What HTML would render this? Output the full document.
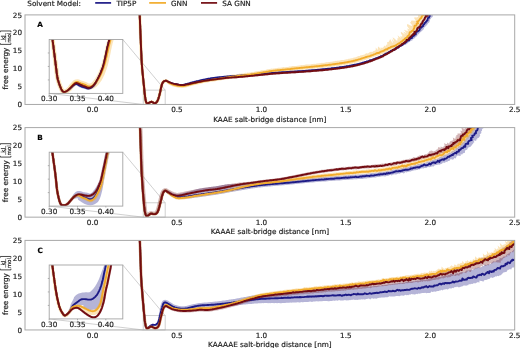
<!DOCTYPE html><html><head><meta charset="utf-8"><style>html,body{margin:0;padding:0;background:#fff;}svg{display:block;}text{font-family:'DejaVu Sans', 'Liberation Sans', sans-serif;fill:#1c1c1c;stroke:#1c1c1c;stroke-width:0.18px;}</style></head><body>
<svg width="520" height="348" viewBox="0 0 520 348">
<rect width="520" height="348" fill="#fff"/>
<text x="27.3" y="5.7" font-size="7.25">Solvent Model:</text>
<line x1="95.2" y1="2.9" x2="111.1" y2="2.9" stroke="#1d1a86" stroke-width="1.7"/>
<text x="116.4" y="5.7" font-size="7.25">TIP5P</text>
<line x1="149.2" y1="2.9" x2="166.0" y2="2.9" stroke="#f2ac2c" stroke-width="1.7"/>
<text x="170.9" y="5.7" font-size="7.25">GNN</text>
<line x1="201.0" y1="2.9" x2="217.1" y2="2.9" stroke="#720c12" stroke-width="1.7"/>
<text x="222.3" y="5.7" font-size="7.25">SA GNN</text>
<clipPath id="c0"><rect x="25.00" y="14.90" width="489.70" height="89.55"/></clipPath>
<g stroke="#c4c4c4" stroke-width="0.8" fill="none">
<rect x="143.20" y="90.12" width="21.95" height="14.33"/>
<line x1="122.80" y1="39.50" x2="165.16" y2="90.12"/>
<line x1="49.20" y1="93.40" x2="143.20" y2="104.45"/>
</g>
<g clip-path="url(#c0)">
<path d="M140.0,7.9 140.1,8.9 140.2,9.9 140.3,10.9 140.3,11.9 140.4,12.9 140.5,13.9 140.5,14.9 140.5,16.0 140.6,17.0 140.6,18.0 140.7,19.0 140.7,20.0 140.8,21.0 140.8,22.0 140.8,23.0 140.9,24.0 140.9,25.0 141.0,26.0 141.0,27.0 141.0,28.0 141.1,29.0 141.1,30.0 141.2,31.0 141.2,32.0 141.2,33.0 141.3,34.0 141.3,35.0 141.4,36.0 141.4,37.0 141.4,38.0 141.5,39.0 141.5,40.0 141.6,41.0 141.6,42.0 141.6,43.0 141.7,44.0 141.7,45.0 141.8,46.0 141.8,47.0 141.8,48.0 141.9,49.0 141.9,50.0 142.0,51.0 142.0,52.0 142.1,53.0 142.1,54.0 142.2,55.0 142.2,56.0 142.2,57.0 142.3,57.9 142.3,58.9 142.4,59.9 142.5,60.9 142.5,61.9 142.6,62.9 142.6,63.9 142.7,64.9 142.8,65.9 142.9,66.9 142.9,67.9 143.0,68.9 143.1,69.9 143.2,70.9 143.3,71.9 143.4,72.9 143.5,73.9 143.6,74.9 143.7,75.9 143.8,76.9 143.9,77.9 144.0,78.9 144.1,79.8 144.2,80.8 144.3,81.8 144.4,82.8 144.5,83.8 144.6,84.8 144.7,85.8 144.8,86.8 144.9,87.8 145.0,88.8 145.1,89.8 145.2,90.8 145.3,91.8 145.4,92.8 145.5,93.8 145.7,94.8 145.8,95.8 145.9,96.7 146.0,97.7 146.2,98.7 146.3,99.7 146.5,100.6 146.8,101.5 147.1,102.3 147.3,102.7 147.8,102.5 148.6,102.1 149.5,101.7 150.5,101.3 151.8,101.0 153.0,101.5 153.8,102.1 154.5,102.4 155.1,102.4 155.6,102.1 156.1,101.5 156.6,100.7 157.0,99.9 157.4,99.0 157.7,98.1 158.0,97.1 158.3,96.2 158.5,95.2 158.8,94.3 159.0,93.3 159.3,92.3 159.5,91.4 159.7,90.4 159.9,89.4 160.1,88.5 160.3,87.5 160.6,86.5 160.8,85.5 161.1,84.5 161.4,83.5 161.9,82.5 162.5,81.5 163.4,80.7 164.5,80.1 165.7,79.9 166.9,80.2 168.0,80.7 168.8,81.2 169.7,81.6 170.6,81.9 171.5,82.3 172.4,82.6 173.3,82.9 174.3,83.1 175.2,83.3 176.2,83.5 177.2,83.6 178.2,83.8 179.1,84.0 180.1,84.1 181.0,84.1 182.0,84.2 182.9,84.1 183.9,84.0 184.8,83.8 185.7,83.5 186.6,83.2 187.6,82.9 188.6,82.6 189.5,82.3 190.5,82.0 191.5,81.8 192.5,81.5 193.4,81.3 194.4,81.0 195.4,80.8 196.4,80.6 197.3,80.3 198.3,80.1 199.3,79.9 200.3,79.6 201.2,79.4 202.2,79.2 203.2,79.0 204.2,78.8 205.2,78.6 206.2,78.4 207.2,78.2 208.1,78.0 209.1,77.8 210.1,77.7 211.1,77.5 212.1,77.4 213.1,77.2 214.1,77.1 215.1,76.9 216.1,76.8 217.1,76.7 218.1,76.6 219.1,76.5 220.1,76.4 221.1,76.3 222.1,76.2 223.1,76.1 224.1,76.0 225.1,75.9 226.1,75.8 227.1,75.7 228.1,75.7 229.1,75.6 230.1,75.5 231.1,75.4 232.1,75.4 233.1,75.3 234.1,75.2 235.1,75.2 236.1,75.1 237.1,75.0 238.1,74.9 239.1,74.9 240.1,74.8 241.1,74.7 242.1,74.7 243.1,74.6 244.1,74.5 245.1,74.4 246.1,74.4 247.1,74.3 248.1,74.2 249.1,74.2 250.1,74.1 251.1,74.0 252.1,73.9 253.1,73.9 254.1,73.8 255.1,73.7 256.1,73.7 257.1,73.6 258.1,73.5 259.0,73.5 260.0,73.4 261.0,73.3 262.0,73.2 263.0,73.1 264.0,73.0 265.0,72.9 266.0,72.8 267.0,72.7 268.0,72.6 269.0,72.5 270.0,72.4 271.0,72.3 272.0,72.2 273.0,72.2 274.0,72.1 275.0,72.0 276.0,71.9 277.0,71.9 278.0,71.8 279.0,71.7 280.0,71.7 281.0,71.6 282.0,71.5 283.0,71.5 284.0,71.4 285.0,71.3 286.0,71.3 287.0,71.2 288.0,71.1 289.0,71.1 290.0,71.0 291.0,70.9 292.0,70.9 293.0,70.8 294.0,70.8 295.0,70.7 296.0,70.7 297.0,70.6 298.0,70.6 299.0,70.5 300.0,70.4 301.0,70.4 302.0,70.3 303.0,70.2 304.0,70.1 305.0,70.1 306.0,70.0 307.0,69.9 307.9,69.8 308.9,69.7 309.9,69.7 310.9,69.6 311.9,69.5 312.9,69.4 313.9,69.3 314.9,69.3 315.9,69.2 316.9,69.1 317.9,69.0 318.9,68.9 319.9,68.8 320.9,68.7 321.9,68.6 322.9,68.5 323.9,68.4 324.9,68.3 325.9,68.2 326.9,68.1 327.9,68.0 328.8,67.9 329.8,67.8 330.8,67.7 331.8,67.5 332.8,67.4 333.8,67.3 334.8,67.2 335.8,67.1 336.8,66.9 337.8,66.8 338.8,66.7 339.8,66.5 340.7,66.4 341.7,66.3 342.7,66.1 343.7,66.0 344.7,65.8 345.7,65.7 346.7,65.5 347.7,65.4 348.6,65.2 349.6,65.0 350.6,64.8 351.6,64.6 352.5,64.5 353.5,64.2 354.5,64.0 355.5,63.8 356.4,63.6 357.4,63.4 358.4,63.1 359.3,62.9 360.3,62.6 361.2,62.3 362.2,62.1 363.2,61.8 364.1,61.5 365.1,61.2 366.0,61.0 367.0,60.6 367.9,60.4 368.9,60.1 369.8,59.6 370.7,59.4 371.7,59.0 372.6,58.7 373.5,58.3 374.5,58.0 375.4,57.7 376.3,57.3 377.3,56.9 378.1,56.4 379.1,56.2 380.0,55.8 380.9,55.4 381.8,55.0 382.8,54.7 383.6,54.0 384.5,53.7 385.4,53.2 386.3,52.7 387.1,52.1 388.0,51.7 388.9,51.3 389.8,50.8 390.7,50.3 391.5,49.8 392.4,49.4 393.2,48.8 394.1,48.3 395.0,48.0 396.0,47.7 396.6,46.8 397.4,46.2 398.5,46.0 399.4,45.5 400.4,45.3 401.0,44.3 402.1,44.1 402.6,43.2 403.9,43.4 404.4,42.4 405.1,41.7 406.0,41.3 406.9,40.7 407.5,39.9 408.3,39.4 409.0,38.7 409.7,38.0 410.6,37.4 411.3,36.7 411.8,35.8 412.8,35.4 413.4,34.6 414.3,34.1 414.7,33.1 415.8,32.8 416.0,31.6 417.5,31.6 417.7,30.5 418.6,29.9 418.8,28.7 419.6,28.1 420.6,27.7 421.1,26.8 421.3,25.7 422.2,25.2 422.7,24.3 423.7,23.8 424.3,23.1 424.4,21.9 424.6,20.8 425.8,20.5 426.1,19.5 427.0,18.9 427.1,17.7 428.0,17.1 428.5,16.3 429.3,15.6 429.3,14.5 429.5,13.6 429.5,12.5 430.6,11.8 433.7,13.1 433.9,14.2 432.7,14.8 432.9,16.0 432.5,17.1 431.3,17.8 430.8,18.8 430.1,19.6 429.8,20.7 429.5,21.7 429.0,22.7 428.0,23.2 427.6,24.2 426.8,24.9 426.3,25.8 425.4,26.4 424.8,27.2 423.9,27.8 423.9,29.2 422.8,29.7 422.3,30.7 421.5,31.3 420.8,32.0 419.9,32.5 419.3,33.3 418.8,34.2 417.4,34.4 417.4,35.8 416.5,36.4 415.7,37.0 415.0,37.8 414.3,38.6 413.4,39.1 412.4,39.4 412.2,40.7 410.7,40.6 410.2,41.6 409.3,42.0 408.3,42.4 407.6,43.2 406.8,43.9 405.8,44.4 404.9,44.9 403.8,45.0 402.8,45.5 402.0,46.1 401.3,46.8 400.3,47.0 399.3,47.4 398.8,48.4 397.6,48.4 396.9,49.2 395.9,49.4 395.1,50.1 394.2,50.6 393.3,51.0 392.4,51.5 391.5,51.9 390.6,52.4 389.7,52.8 388.9,53.4 388.0,53.9 387.1,54.3 386.3,54.9 385.3,55.1 384.4,55.7 383.6,56.3 382.6,56.7 381.7,57.1 380.8,57.6 379.8,57.8 378.9,58.2 378.0,58.7 376.9,58.8 376.0,59.3 375.1,59.8 374.2,60.1 373.2,60.3 372.3,60.8 371.4,61.1 370.4,61.4 369.4,61.6 368.5,62.0 367.5,62.3 366.6,62.6 365.6,62.9 364.6,63.2 363.7,63.5 362.7,63.8 361.7,64.1 360.8,64.3 359.8,64.6 358.8,64.8 357.8,65.1 356.8,65.3 355.9,65.6 354.9,65.8 353.9,66.0 352.9,66.2 351.9,66.4 350.9,66.6 349.9,66.8 348.9,66.9 347.9,67.1 347.0,67.3 346.0,67.4 345.0,67.6 344.0,67.7 343.0,67.9 342.0,68.0 341.0,68.2 340.0,68.3 339.0,68.4 338.0,68.6 337.0,68.7 336.0,68.8 335.0,68.9 334.0,69.1 333.0,69.2 332.0,69.3 331.0,69.4 330.0,69.5 329.0,69.6 328.1,69.8 327.1,69.9 326.1,70.0 325.1,70.1 324.1,70.2 323.1,70.3 322.1,70.4 321.1,70.5 320.1,70.6 319.1,70.7 318.1,70.8 317.1,70.8 316.1,70.9 315.1,71.0 314.1,71.1 313.1,71.2 312.1,71.3 311.1,71.3 310.1,71.4 309.1,71.5 308.1,71.6 307.1,71.7 306.1,71.7 305.1,71.8 304.1,71.9 303.1,72.0 302.1,72.0 301.1,72.1 300.1,72.2 299.1,72.2 298.1,72.3 297.1,72.4 296.1,72.4 295.1,72.5 294.1,72.5 293.1,72.6 292.1,72.6 291.1,72.7 290.1,72.7 289.1,72.8 288.1,72.9 287.1,72.9 286.1,73.0 285.1,73.1 284.1,73.1 283.1,73.2 282.1,73.3 281.1,73.3 280.1,73.4 279.1,73.5 278.1,73.5 277.1,73.6 276.1,73.7 275.1,73.7 274.1,73.8 273.1,73.9 272.1,74.0 271.2,74.1 270.2,74.2 269.2,74.3 268.2,74.4 267.2,74.5 266.2,74.6 265.2,74.7 264.2,74.8 263.2,74.9 262.2,74.9 261.2,75.0 260.2,75.1 259.2,75.2 258.2,75.2 257.2,75.3 256.2,75.4 255.2,75.5 254.2,75.5 253.2,75.6 252.2,75.7 251.2,75.7 250.2,75.8 249.2,75.9 248.2,75.9 247.2,76.0 246.2,76.1 245.2,76.2 244.2,76.2 243.2,76.3 242.2,76.4 241.2,76.4 240.2,76.5 239.2,76.6 238.2,76.7 237.2,76.7 236.2,76.8 235.2,76.9 234.2,76.9 233.2,77.0 232.2,77.1 231.2,77.1 230.2,77.2 229.2,77.3 228.2,77.4 227.2,77.5 226.2,77.5 225.2,77.6 224.2,77.7 223.2,77.8 222.3,77.9 221.3,78.0 220.3,78.1 219.3,78.2 218.3,78.3 217.3,78.4 216.3,78.5 215.3,78.6 214.3,78.8 213.4,78.9 212.4,79.1 211.4,79.2 210.4,79.4 209.4,79.5 208.4,79.7 207.5,79.9 206.5,80.1 205.5,80.2 204.5,80.4 203.6,80.6 202.6,80.8 201.6,81.1 200.6,81.3 199.7,81.5 198.7,81.7 197.7,82.0 196.8,82.2 195.8,82.5 194.8,82.7 193.9,82.9 192.9,83.2 191.9,83.4 191.0,83.7 190.0,83.9 189.1,84.2 188.1,84.5 187.2,84.8 186.2,85.1 185.2,85.4 184.2,85.6 183.1,85.8 182.0,85.8 181.0,85.8 179.9,85.8 178.9,85.7 177.9,85.5 176.9,85.3 175.9,85.1 174.9,84.9 173.9,84.7 172.9,84.5 171.9,84.2 170.9,83.9 170.0,83.5 169.0,83.1 168.0,82.7 167.2,82.2 166.4,81.8 165.7,81.6 165.0,81.7 164.3,82.1 163.8,82.6 163.4,83.3 163.0,84.1 162.7,85.0 162.4,85.9 162.2,86.9 162.0,87.8 161.8,88.8 161.6,89.8 161.4,90.8 161.2,91.8 160.9,92.7 160.7,93.7 160.4,94.7 160.2,95.7 159.9,96.7 159.6,97.6 159.3,98.6 158.9,99.6 158.5,100.5 158.1,101.5 157.5,102.5 156.7,103.4 155.5,104.0 154.1,104.1 153.0,103.5 152.2,103.0 151.6,102.7 151.0,102.9 150.2,103.2 149.3,103.7 148.3,104.1 146.8,104.2 145.7,103.2 145.2,102.0 144.9,101.0 144.7,100.0 144.5,99.0 144.4,98.0 144.2,97.0 144.1,96.0 144.0,95.0 143.9,94.0 143.8,93.0 143.7,92.0 143.6,91.0 143.5,90.0 143.4,89.0 143.3,88.0 143.2,87.0 143.1,86.0 143.0,85.0 142.9,84.0 142.7,83.0 142.6,82.0 142.5,81.0 142.4,80.0 142.3,79.0 142.2,78.0 142.1,77.0 142.0,76.0 141.9,75.0 141.8,74.0 141.7,73.0 141.6,72.0 141.5,71.0 141.4,70.0 141.4,69.0 141.3,68.0 141.2,67.0 141.1,66.0 141.0,65.0 141.0,64.0 140.9,63.0 140.8,62.0 140.8,61.0 140.7,60.0 140.7,59.0 140.6,58.0 140.6,57.0 140.5,56.0 140.5,55.0 140.4,54.0 140.4,53.0 140.3,52.0 140.3,51.0 140.3,50.0 140.2,49.0 140.2,48.0 140.1,47.0 140.1,46.0 140.1,45.0 140.0,44.0 140.0,43.0 139.9,42.0 139.9,41.0 139.9,40.0 139.8,39.0 139.8,38.0 139.7,37.0 139.7,36.0 139.6,35.0 139.6,34.0 139.6,33.0 139.5,32.0 139.5,31.0 139.4,30.0 139.4,29.0 139.4,28.0 139.3,27.0 139.3,26.0 139.3,25.0 139.2,24.0 139.2,23.0 139.1,22.0 139.1,21.0 139.1,20.0 139.0,19.0 139.0,18.0 138.9,17.0 138.9,16.0 138.8,15.0 138.8,14.0 138.7,13.0 138.7,12.0 138.6,11.1 138.5,10.1 138.4,9.1 138.3,8.1Z" fill="#1d1a86" fill-opacity="0.33"/>
<path d="M140.7,7.9 140.8,8.9 140.9,9.9 141.1,10.9 141.1,11.9 141.1,12.9 141.2,13.9 141.2,14.9 141.4,15.9 141.5,16.9 141.4,17.9 141.5,18.9 141.4,19.9 141.5,20.9 141.5,21.9 141.5,22.9 141.6,23.9 141.7,24.9 141.8,25.9 141.8,26.9 141.7,28.0 141.9,28.9 142.0,29.9 141.9,31.0 142.0,32.0 142.1,33.0 142.0,34.0 142.0,35.0 142.0,36.0 142.1,37.0 142.2,38.0 142.2,39.0 142.2,40.0 142.4,41.0 142.4,42.0 142.5,43.0 142.4,44.0 142.5,45.0 142.5,46.0 142.5,47.0 142.6,48.0 142.6,49.0 142.6,50.0 142.7,51.0 142.7,52.0 142.8,53.0 142.8,54.0 142.9,55.0 143.1,56.0 143.1,57.0 143.1,58.0 143.2,59.0 143.2,60.0 143.3,61.0 143.2,62.0 143.3,63.0 143.4,63.9 143.4,64.9 143.6,65.9 143.7,66.9 143.6,67.9 143.8,68.9 143.9,69.9 143.9,70.9 144.0,71.9 144.1,72.9 144.3,73.9 144.4,74.9 144.4,75.9 144.5,76.9 144.6,77.9 144.8,78.9 144.9,79.8 145.0,80.8 145.0,81.8 145.2,82.8 145.3,83.8 145.4,84.8 145.6,85.8 145.6,86.8 145.7,87.8 145.9,88.8 146.0,89.8 145.9,90.8 146.0,91.8 146.1,92.8 146.2,93.8 146.4,94.8 146.6,95.7 146.7,96.7 146.9,97.7 146.9,98.7 147.0,99.6 147.3,100.5 147.5,101.4 147.7,101.9 147.6,101.9 147.6,101.8 148.4,101.4 149.3,101.0 150.4,100.6 152.1,100.3 153.5,101.0 154.4,101.4 154.7,101.6 154.9,101.7 155.1,101.4 155.6,101.0 155.9,100.2 156.4,99.5 156.7,98.6 157.0,97.7 157.3,96.8 157.5,95.9 157.9,94.9 158.0,93.9 158.2,93.0 158.4,92.0 158.8,91.1 159.0,90.1 159.2,89.2 159.3,88.1 159.5,87.2 159.7,86.1 160.1,85.1 160.4,84.1 160.8,83.1 161.2,81.9 162.0,80.8 163.0,79.8 164.4,79.4 166.0,79.2 167.5,79.6 168.5,80.3 169.4,80.9 170.1,81.3 170.9,81.7 171.8,82.2 172.6,82.6 173.4,83.0 174.2,83.4 175.2,83.5 176.1,83.8 177.0,83.9 178.0,84.1 178.9,84.3 179.8,84.3 180.8,84.5 181.7,84.5 182.6,84.5 183.5,84.4 184.4,84.2 185.2,83.9 186.2,83.8 187.1,83.5 188.1,83.2 189.1,83.0 190.0,82.8 191.0,82.4 192.0,82.2 193.0,82.0 194.0,81.7 194.9,81.4 195.9,81.2 196.9,81.0 197.9,80.8 198.8,80.4 199.9,80.3 200.8,80.1 201.8,79.8 202.8,79.6 203.8,79.5 204.8,79.3 205.8,78.9 206.8,78.7 207.8,78.8 208.8,78.6 209.8,78.4 210.8,78.2 211.8,77.9 212.8,77.9 213.8,77.8 214.7,77.4 215.7,77.5 216.7,77.3 217.7,77.0 218.7,76.9 219.7,76.8 220.6,76.6 221.6,76.4 222.6,76.3 223.6,75.9 224.6,75.9 225.6,75.7 226.6,75.6 227.6,75.3 228.6,75.3 229.6,74.9 230.6,75.0 231.6,74.7 232.6,74.6 233.6,74.6 234.6,74.4 235.6,74.4 236.6,74.2 237.6,74.1 238.6,74.0 239.5,73.6 240.6,73.7 241.6,73.6 242.6,73.4 243.6,73.4 244.5,73.0 245.5,72.8 246.5,72.9 247.5,72.6 248.5,72.7 249.5,72.5 250.4,72.4 251.4,72.0 252.4,71.9 253.4,72.0 254.4,71.8 255.3,71.5 256.3,71.3 257.3,71.2 258.3,71.0 259.3,70.9 260.3,70.7 261.2,70.2 262.2,70.2 263.2,70.2 264.2,70.0 265.2,69.9 266.2,69.7 267.2,69.2 268.2,69.3 269.2,69.0 270.2,69.0 271.2,68.6 272.2,68.7 273.2,68.5 274.2,68.4 275.2,68.3 276.2,68.2 277.2,67.9 278.2,67.7 279.2,67.8 280.2,67.7 281.2,67.6 282.2,67.4 283.2,67.0 284.2,67.2 285.2,67.2 286.2,66.9 287.2,67.0 288.2,66.9 289.2,66.5 290.2,66.6 291.2,66.5 292.1,66.0 293.1,66.0 294.2,66.1 295.2,66.0 296.2,65.9 297.1,65.7 298.1,65.7 299.1,65.6 300.1,65.5 301.1,65.1 302.1,65.3 303.1,65.1 304.1,65.0 305.1,64.7 306.1,64.5 307.1,64.6 308.1,64.6 309.1,64.5 310.1,64.4 311.1,64.3 312.1,64.1 313.1,64.0 314.1,63.8 315.1,63.9 316.1,63.8 317.1,63.4 318.1,63.5 319.1,63.3 320.0,63.2 321.0,63.1 322.0,62.7 323.0,62.9 324.0,62.8 325.0,62.7 325.9,62.2 327.0,62.3 328.0,62.3 328.9,62.1 329.9,62.0 330.9,61.7 331.9,61.8 332.9,61.5 333.9,61.2 334.9,61.3 335.8,60.8 336.9,61.0 337.8,60.5 338.8,60.7 339.8,60.5 340.7,60.2 341.7,60.1 342.7,60.1 343.7,59.9 344.7,59.7 345.7,59.5 346.6,59.3 347.6,59.2 348.5,58.8 349.5,58.8 350.4,58.5 351.4,58.2 352.4,58.2 353.3,57.8 354.2,57.4 355.2,57.4 356.1,57.0 357.0,56.8 357.9,56.2 358.8,56.0 359.8,55.9 360.7,55.3 361.7,55.3 362.7,55.1 363.7,54.7 364.6,54.4 365.4,53.8 366.3,53.3 367.4,53.6 368.4,53.2 369.2,52.6 370.1,52.1 371.0,51.8 372.1,52.0 373.1,51.6 373.8,50.8 374.9,50.7 375.7,50.1 375.8,47.5 377.7,49.9 377.9,47.4 378.6,46.6 380.6,49.1 380.7,47.2 382.0,47.9 382.9,47.5 383.7,46.9 384.1,45.5 385.7,46.6 386.0,44.8 387.2,44.8 387.2,42.1 388.6,42.0 389.5,40.5 390.1,39.0 391.9,42.1 393.2,43.2 391.6,38.4 394.5,42.3 392.6,37.5 393.9,38.1 397.1,41.1 397.4,40.0 397.4,38.2 398.6,38.3 397.5,35.3 400.8,38.1 400.3,36.0 402.1,36.8 402.2,35.5 400.8,32.9 401.0,31.8 405.0,34.4 403.2,31.5 406.5,33.2 403.9,29.7 406.7,30.8 408.1,30.7 407.1,28.6 409.3,29.2 407.2,26.3 406.9,24.9 407.5,24.1 411.4,25.9 412.2,25.3 409.9,22.4 411.0,22.1 410.9,20.9 411.9,20.4 414.3,20.8 415.9,20.7 414.3,18.4 414.4,17.2 416.7,17.5 417.9,17.0 418.3,16.1 417.2,14.1 418.1,13.8 420.4,14.3 419.5,12.8 421.0,12.5 419.9,10.9 421.3,10.5 426.7,13.1 425.9,13.8 425.7,14.8 425.4,15.8 425.3,17.1 424.2,17.8 423.5,18.6 423.0,19.5 422.8,20.6 422.1,21.3 421.2,21.8 421.0,22.9 420.4,23.7 419.7,24.4 419.5,25.5 418.5,26.0 418.0,27.0 417.2,27.6 416.5,28.4 416.3,29.5 415.4,30.1 414.6,30.8 414.4,32.0 413.4,32.5 412.8,33.3 412.5,34.4 412.0,35.3 411.0,35.8 410.2,36.5 409.7,37.4 409.2,38.4 408.1,38.7 407.6,39.7 407.0,40.6 405.9,41.0 404.9,41.5 404.0,42.0 403.5,43.1 402.5,43.6 401.7,44.2 401.0,44.9 400.0,45.3 399.3,46.2 398.4,46.7 397.4,47.2 396.5,47.9 395.4,48.4 394.3,48.6 393.3,49.1 392.4,49.5 391.5,49.6 390.8,50.2 389.8,50.1 389.0,50.7 388.1,51.1 387.2,51.7 386.4,52.3 385.5,52.8 384.5,53.1 383.5,53.5 382.6,54.1 381.5,54.2 380.6,54.7 379.6,54.9 378.7,55.4 377.8,55.8 376.8,56.1 375.8,56.2 374.8,56.6 373.9,57.0 372.9,57.3 372.0,57.6 371.0,57.9 370.1,58.3 369.1,58.6 368.2,59.0 367.2,59.2 366.2,59.5 365.3,59.9 364.3,60.2 363.4,60.5 362.4,60.8 361.4,61.1 360.5,61.4 359.5,61.6 358.5,61.9 357.5,62.2 356.5,62.5 355.6,62.7 354.6,63.0 353.6,63.2 352.6,63.5 351.6,63.7 350.6,63.9 349.6,64.1 348.6,64.3 347.6,64.5 346.5,64.6 345.5,64.8 344.5,65.0 343.5,65.1 342.5,65.3 341.6,65.4 340.6,65.6 339.6,65.7 338.6,65.9 337.6,66.0 336.6,66.2 335.6,66.3 334.6,66.4 333.6,66.6 332.6,66.7 331.6,66.8 330.6,66.9 329.6,67.1 328.6,67.2 327.6,67.3 326.6,67.4 325.6,67.6 324.6,67.7 323.6,67.8 322.6,67.9 321.6,68.0 320.6,68.1 319.6,68.2 318.6,68.3 317.6,68.4 316.6,68.5 315.6,68.6 314.6,68.7 313.6,68.8 312.6,68.9 311.6,69.0 310.6,69.1 309.6,69.2 308.6,69.3 307.6,69.4 306.6,69.5 305.6,69.6 304.6,69.7 303.6,69.8 302.6,69.9 301.6,70.0 300.6,70.1 299.6,70.2 298.6,70.3 297.6,70.4 296.6,70.5 295.6,70.6 294.7,70.7 293.7,70.8 292.7,70.9 291.7,71.0 290.7,71.1 289.7,71.2 288.7,71.3 287.7,71.4 286.7,71.5 285.7,71.6 284.7,71.7 283.7,71.8 282.7,71.9 281.7,72.0 280.7,72.1 279.7,72.2 278.7,72.3 277.7,72.4 276.7,72.5 275.7,72.6 274.7,72.7 273.8,72.8 272.8,73.0 271.8,73.1 270.8,73.2 269.8,73.4 268.9,73.5 267.9,73.7 266.9,73.8 265.9,74.0 264.9,74.2 263.9,74.3 262.9,74.5 262.0,74.7 261.0,74.8 260.0,75.0 259.0,75.2 258.0,75.3 257.0,75.5 256.0,75.7 255.0,75.8 254.0,76.0 253.0,76.2 252.0,76.3 251.0,76.5 250.0,76.6 249.0,76.7 248.0,76.9 247.0,77.0 246.0,77.1 245.0,77.2 244.0,77.3 243.0,77.4 242.0,77.5 241.0,77.7 240.0,77.8 239.1,77.9 238.1,78.0 237.1,78.1 236.1,78.2 235.1,78.4 234.1,78.5 233.1,78.6 232.1,78.7 231.1,78.8 230.1,79.0 229.1,79.1 228.2,79.2 227.2,79.4 226.2,79.5 225.2,79.7 224.2,79.8 223.2,80.0 222.3,80.1 221.3,80.3 220.3,80.5 219.3,80.6 218.3,80.8 217.3,81.0 216.3,81.1 215.3,81.3 214.3,81.4 213.3,81.6 212.3,81.7 211.3,81.8 210.3,82.0 209.4,82.1 208.4,82.3 207.4,82.4 206.4,82.6 205.5,82.8 204.5,82.9 203.5,83.1 202.6,83.3 201.6,83.5 200.6,83.7 199.6,84.0 198.7,84.2 197.7,84.4 196.7,84.6 195.8,84.9 194.8,85.1 193.8,85.3 192.9,85.6 191.9,85.8 191.0,86.1 190.0,86.3 189.0,86.6 188.1,86.9 187.1,87.1 186.1,87.4 185.0,87.6 183.9,87.8 182.7,87.9 181.6,87.9 180.6,87.8 179.5,87.8 178.5,87.7 177.4,87.5 176.4,87.3 175.3,87.1 174.3,86.9 173.3,86.6 172.2,86.2 171.2,85.8 170.2,85.3 169.3,84.8 168.3,84.3 167.4,83.6 166.6,83.0 166.0,82.6 165.7,82.5 165.4,82.5 164.9,82.7 164.5,83.1 164.2,83.6 163.9,84.3 163.6,85.1 163.3,86.0 163.0,87.0 162.8,87.9 162.6,88.8 162.4,89.8 162.2,90.8 162.0,91.8 161.8,92.8 161.5,93.8 161.3,94.8 161.0,95.8 160.8,96.8 160.5,97.7 160.1,98.8 159.8,99.8 159.4,100.8 158.9,101.8 158.3,102.8 157.4,103.9 156.0,104.8 154.1,104.9 152.7,104.3 151.8,103.8 151.6,103.5 151.4,103.6 150.6,103.9 149.7,104.4 148.6,104.8 146.7,105.1 145.1,103.8 144.5,102.4 144.1,101.3 143.9,100.2 143.7,99.2 143.6,98.2 143.5,97.2 143.3,96.2 143.2,95.2 143.1,94.2 143.0,93.2 142.9,92.1 142.8,91.1 142.7,90.1 142.6,89.1 142.5,88.2 142.4,87.2 142.3,86.2 142.2,85.2 142.1,84.2 142.0,83.2 141.8,82.2 141.7,81.2 141.6,80.2 141.5,79.2 141.4,78.2 141.3,77.2 141.2,76.2 141.1,75.2 141.0,74.2 140.9,73.2 140.8,72.2 140.7,71.2 140.6,70.2 140.6,69.2 140.5,68.2 140.4,67.2 140.3,66.2 140.2,65.2 140.2,64.2 140.1,63.2 140.0,62.2 140.0,61.1 139.9,60.1 139.9,59.1 139.8,58.1 139.8,57.1 139.7,56.1 139.7,55.1 139.6,54.1 139.6,53.1 139.6,52.1 139.5,51.1 139.5,50.1 139.4,49.1 139.4,48.1 139.3,47.1 139.3,46.1 139.3,45.1 139.2,44.1 139.2,43.1 139.1,42.1 139.1,41.1 139.1,40.1 139.0,39.1 139.0,38.1 138.9,37.1 138.9,36.1 138.9,35.1 138.8,34.1 138.8,33.1 138.7,32.1 138.7,31.1 138.7,30.1 138.6,29.1 138.6,28.1 138.5,27.1 138.5,26.1 138.5,25.1 138.4,24.1 138.4,23.1 138.3,22.1 138.3,21.1 138.3,20.1 138.2,19.1 138.2,18.1 138.1,17.1 138.1,16.1 138.0,15.1 138.0,14.1 137.9,13.1 137.9,12.1 137.8,11.1 137.7,10.1 137.6,9.1 137.5,8.1Z" fill="#f2ac2c" fill-opacity="0.33"/>
<path d="M140.2,7.9 140.3,8.9 140.4,9.9 140.5,10.9 140.5,11.9 140.6,12.9 140.7,13.9 140.7,14.9 140.8,16.0 140.8,17.0 140.8,18.0 140.9,19.0 140.9,20.0 141.0,21.0 141.0,22.0 141.1,23.0 141.1,24.0 141.1,25.0 141.2,26.0 141.2,27.0 141.2,28.0 141.3,29.0 141.3,30.0 141.4,31.0 141.4,32.0 141.4,33.0 141.5,34.0 141.5,35.0 141.6,36.0 141.6,37.0 141.7,38.0 141.7,39.0 141.7,40.0 141.8,41.0 141.8,42.0 141.9,43.0 141.9,44.0 141.9,45.0 142.0,46.0 142.0,47.0 142.1,48.0 142.1,49.0 142.1,50.0 142.2,51.0 142.2,52.0 142.3,53.0 142.3,54.0 142.4,55.0 142.4,56.0 142.5,57.0 142.5,58.0 142.6,59.0 142.6,60.0 142.7,61.0 142.7,62.0 142.8,63.0 142.9,64.0 142.9,65.0 143.0,66.0 143.1,67.0 143.2,68.0 143.2,69.0 143.3,70.0 143.4,71.0 143.5,71.9 143.6,72.9 143.7,73.9 143.8,74.9 143.9,75.9 144.0,76.9 144.1,77.9 144.2,78.9 144.3,79.9 144.4,80.9 144.5,81.9 144.6,82.9 144.7,83.9 144.8,84.9 145.0,85.9 145.1,86.9 145.2,87.9 145.3,88.9 145.4,89.9 145.4,90.9 145.5,91.9 145.6,92.9 145.8,93.9 145.9,94.8 146.0,95.8 146.1,96.8 146.3,97.8 146.4,98.8 146.6,99.7 146.8,100.7 147.0,101.5 147.3,102.2 147.4,102.5 147.8,102.3 148.6,101.9 149.5,101.5 150.6,101.0 152.0,100.8 153.2,101.4 154.0,101.9 154.6,102.3 155.1,102.2 155.6,101.9 156.0,101.3 156.5,100.5 156.8,99.7 157.2,98.8 157.5,97.9 157.8,96.9 158.1,96.0 158.4,95.1 158.6,94.1 158.9,93.1 159.1,92.2 159.3,91.2 159.5,90.2 159.7,89.3 159.9,88.3 160.1,87.3 160.4,86.3 160.6,85.3 160.9,84.3 161.3,83.3 161.8,82.2 162.4,81.2 163.4,80.4 164.6,79.9 165.9,79.7 167.2,80.0 168.2,80.5 169.1,81.0 169.9,81.4 170.8,81.8 171.7,82.1 172.6,82.4 173.5,82.7 174.5,82.9 175.4,83.1 176.4,83.3 177.4,83.5 178.4,83.7 179.3,83.9 180.3,84.0 181.2,84.0 182.2,84.0 183.1,84.0 184.0,83.9 185.0,83.8 185.9,83.6 186.9,83.4 187.9,83.2 188.9,82.9 189.8,82.7 190.8,82.5 191.8,82.3 192.8,82.1 193.8,81.9 194.7,81.7 195.7,81.5 196.7,81.3 197.7,81.1 198.7,80.9 199.7,80.7 200.6,80.5 201.6,80.3 202.6,80.1 203.6,79.9 204.6,79.7 205.6,79.6 206.6,79.4 207.6,79.3 208.6,79.1 209.6,79.0 210.6,78.8 211.6,78.7 212.6,78.6 213.6,78.5 214.6,78.3 215.6,78.2 216.6,78.1 217.6,77.9 218.5,77.8 219.5,77.7 220.5,77.6 221.5,77.4 222.5,77.3 223.5,77.2 224.5,77.1 225.5,76.9 226.5,76.8 227.5,76.7 228.5,76.6 229.6,76.6 230.6,76.5 231.6,76.4 232.6,76.3 233.6,76.3 234.6,76.2 235.6,76.1 236.6,76.1 237.6,76.0 238.5,75.9 239.5,75.8 240.5,75.8 241.5,75.7 242.5,75.6 243.5,75.5 244.5,75.4 245.5,75.3 246.5,75.2 247.5,75.1 248.5,75.0 249.5,74.9 250.5,74.8 251.5,74.7 252.5,74.6 253.5,74.5 254.5,74.4 255.5,74.3 256.5,74.2 257.5,74.1 258.5,74.0 259.5,73.9 260.5,73.8 261.5,73.7 262.5,73.6 263.5,73.5 264.5,73.4 265.4,73.3 266.4,73.2 267.4,73.1 268.4,73.0 269.4,72.9 270.4,72.8 271.4,72.7 272.4,72.6 273.5,72.5 274.5,72.4 275.5,72.4 276.5,72.3 277.5,72.2 278.5,72.1 279.5,72.1 280.5,72.0 281.5,71.9 282.5,71.9 283.5,71.8 284.5,71.7 285.5,71.7 286.5,71.6 287.5,71.5 288.5,71.5 289.5,71.4 290.5,71.3 291.5,71.3 292.5,71.2 293.5,71.2 294.5,71.1 295.5,71.0 296.5,71.0 297.5,70.9 298.5,70.9 299.5,70.8 300.5,70.7 301.5,70.7 302.5,70.6 303.5,70.5 304.5,70.5 305.5,70.4 306.5,70.3 307.5,70.2 308.5,70.2 309.5,70.1 310.5,70.0 311.4,69.9 312.4,69.9 313.4,69.8 314.4,69.7 315.4,69.6 316.4,69.5 317.4,69.5 318.4,69.4 319.4,69.3 320.4,69.2 321.4,69.1 322.4,69.0 323.4,68.9 324.4,68.8 325.4,68.7 326.4,68.6 327.4,68.5 328.4,68.4 329.4,68.3 330.4,68.2 331.4,68.1 332.4,68.0 333.3,67.8 334.3,67.7 335.3,67.6 336.3,67.5 337.3,67.4 338.3,67.2 339.3,67.1 340.3,67.0 341.3,66.8 342.3,66.7 343.3,66.6 344.2,66.4 345.2,66.3 346.2,66.1 347.2,65.9 348.2,65.8 349.2,65.6 350.1,65.4 351.1,65.3 352.1,65.1 353.1,64.9 354.0,64.7 355.0,64.5 356.0,64.2 356.9,64.0 357.9,63.8 358.9,63.5 359.8,63.3 360.8,63.0 361.7,62.7 362.7,62.4 363.6,62.2 364.6,61.9 365.5,61.6 366.5,61.3 367.4,60.9 368.3,60.6 369.3,60.3 370.2,60.0 371.2,59.7 372.0,59.2 373.0,58.9 373.9,58.5 374.9,58.2 375.8,57.7 376.7,57.4 377.6,56.9 378.5,56.6 379.5,56.3 380.4,56.0 381.2,55.3 382.2,55.2 383.0,54.7 383.9,54.2 384.7,53.6 385.6,53.1 386.4,52.5 387.4,52.3 388.3,51.9 389.0,51.0 390.2,51.1 390.9,50.3 391.9,50.0 392.5,49.2 393.5,48.9 394.2,48.1 395.1,47.8 395.8,47.1 396.8,46.8 397.5,46.0 398.3,45.4 399.1,44.8 399.9,44.1 400.7,43.5 401.3,42.7 402.6,42.8 403.2,41.9 404.0,41.4 404.7,40.8 405.2,40.0 405.8,39.2 406.6,38.6 407.7,38.2 408.5,37.5 409.2,36.9 409.8,36.0 410.8,35.7 411.3,34.7 412.2,34.3 412.6,33.3 413.2,32.5 413.6,31.6 414.5,31.0 415.2,30.3 415.6,29.4 416.5,28.9 416.6,27.7 417.5,27.1 417.9,26.2 418.7,25.5 419.2,24.7 419.8,23.9 420.4,23.1 420.8,22.2 421.2,21.2 422.3,20.7 422.6,19.7 423.0,18.7 423.9,18.1 424.2,17.1 424.9,16.4 425.8,15.9 426.2,15.0 426.2,13.9 426.7,13.1 427.4,12.3 427.9,11.4 430.3,12.7 429.8,13.6 428.6,14.1 428.9,15.4 428.1,16.1 427.7,17.1 426.7,17.7 426.1,18.5 425.9,19.7 424.8,20.1 424.2,20.8 424.2,22.1 423.5,22.8 422.9,23.5 422.0,24.2 421.8,25.3 421.3,26.1 420.5,26.8 420.3,27.9 419.2,28.4 418.8,29.3 418.2,30.1 417.6,31.0 416.8,31.6 416.2,32.4 415.7,33.4 414.9,34.1 414.2,34.8 413.7,35.7 412.9,36.4 412.3,37.2 411.7,38.1 410.7,38.5 410.0,39.2 409.3,39.9 408.6,40.5 407.7,41.1 407.0,41.8 406.6,43.0 405.3,43.1 404.7,44.0 403.8,44.5 402.8,44.9 402.2,45.7 401.4,46.3 400.5,46.8 399.9,47.7 398.8,47.9 398.0,48.4 397.3,49.2 396.4,49.7 395.5,50.2 394.6,50.6 393.8,51.3 392.9,51.8 392.1,52.4 391.1,52.7 390.4,53.5 389.4,53.9 388.5,54.3 387.7,54.9 386.8,55.3 385.8,55.6 385.0,56.2 384.2,56.7 383.3,57.4 382.3,57.6 381.4,58.2 380.4,58.4 379.5,58.9 378.5,59.2 377.6,59.6 376.6,59.9 375.7,60.4 374.8,60.7 373.8,61.1 372.9,61.5 372.0,61.9 371.0,62.2 370.1,62.5 369.1,62.9 368.2,63.2 367.2,63.5 366.2,63.8 365.3,64.1 364.3,64.4 363.3,64.7 362.4,65.0 361.4,65.3 360.4,65.5 359.4,65.8 358.5,66.1 357.5,66.3 356.5,66.5 355.5,66.8 354.5,67.0 353.5,67.2 352.5,67.4 351.5,67.6 350.6,67.8 349.6,67.9 348.6,68.1 347.6,68.3 346.6,68.4 345.6,68.6 344.6,68.7 343.6,68.9 342.6,69.0 341.6,69.1 340.6,69.3 339.6,69.4 338.6,69.5 337.6,69.7 336.6,69.8 335.6,69.9 334.6,70.0 333.6,70.1 332.6,70.3 331.6,70.4 330.6,70.5 329.6,70.6 328.6,70.7 327.6,70.8 326.6,70.9 325.6,71.0 324.6,71.1 323.6,71.2 322.6,71.3 321.6,71.4 320.6,71.5 319.6,71.6 318.6,71.7 317.6,71.8 316.6,71.8 315.6,71.9 314.6,72.0 313.6,72.1 312.6,72.1 311.6,72.2 310.6,72.3 309.6,72.4 308.6,72.4 307.6,72.5 306.6,72.6 305.6,72.7 304.6,72.7 303.6,72.8 302.6,72.9 301.6,72.9 300.6,73.0 299.6,73.1 298.6,73.1 297.6,73.2 296.6,73.3 295.6,73.3 294.6,73.4 293.6,73.4 292.6,73.5 291.6,73.5 290.6,73.6 289.6,73.7 288.6,73.7 287.6,73.8 286.6,73.8 285.6,73.9 284.6,74.0 283.6,74.0 282.6,74.1 281.6,74.2 280.6,74.2 279.6,74.3 278.6,74.4 277.6,74.4 276.6,74.5 275.6,74.6 274.6,74.7 273.6,74.7 272.6,74.8 271.6,74.9 270.6,75.0 269.7,75.1 268.7,75.2 267.7,75.3 266.7,75.4 265.7,75.5 264.7,75.6 263.7,75.7 262.7,75.8 261.7,75.9 260.7,76.0 259.7,76.1 258.7,76.2 257.7,76.3 256.7,76.4 255.7,76.5 254.7,76.6 253.7,76.7 252.7,76.7 251.7,76.8 250.7,76.9 249.7,77.0 248.7,77.1 247.7,77.2 246.7,77.3 245.7,77.4 244.7,77.5 243.7,77.6 242.7,77.7 241.7,77.8 240.7,77.9 239.7,78.0 238.7,78.1 237.7,78.2 236.7,78.2 235.7,78.3 234.7,78.4 233.7,78.4 232.7,78.5 231.7,78.6 230.7,78.6 229.7,78.7 228.7,78.8 227.7,78.9 226.8,79.0 225.8,79.1 224.8,79.2 223.8,79.3 222.8,79.4 221.8,79.6 220.8,79.7 219.8,79.8 218.8,79.9 217.8,80.1 216.8,80.2 215.8,80.3 214.8,80.5 213.9,80.6 212.9,80.7 211.9,80.8 210.9,81.0 209.9,81.1 208.9,81.2 207.9,81.4 206.9,81.5 205.9,81.7 205.0,81.8 204.0,82.0 203.0,82.2 202.0,82.3 201.0,82.5 200.1,82.7 199.1,82.9 198.1,83.1 197.1,83.3 196.2,83.5 195.2,83.7 194.2,83.9 193.2,84.2 192.2,84.4 191.3,84.6 190.3,84.8 189.3,85.0 188.3,85.2 187.3,85.4 186.4,85.6 185.3,85.8 184.3,86.0 183.2,86.1 182.2,86.1 181.1,86.1 180.1,86.0 179.0,85.9 178.0,85.7 177.0,85.5 176.0,85.3 175.0,85.1 174.0,84.9 173.0,84.7 172.0,84.4 171.0,84.1 170.1,83.7 169.1,83.3 168.1,82.9 167.2,82.4 166.5,82.0 165.8,81.8 165.1,81.8 164.5,82.1 164.0,82.6 163.6,83.2 163.2,84.0 162.9,84.9 162.6,85.8 162.4,86.8 162.1,87.7 161.9,88.7 161.7,89.7 161.5,90.7 161.3,91.7 161.1,92.6 160.8,93.6 160.6,94.6 160.3,95.6 160.1,96.6 159.8,97.5 159.5,98.5 159.1,99.5 158.7,100.5 158.3,101.5 157.7,102.4 156.9,103.4 155.7,104.1 154.3,104.3 153.0,103.7 152.2,103.2 151.7,102.8 151.2,103.0 150.4,103.3 149.5,103.7 148.4,104.2 146.9,104.4 145.6,103.4 145.1,102.2 144.8,101.1 144.6,100.1 144.4,99.1 144.3,98.1 144.1,97.1 144.0,96.1 143.9,95.1 143.7,94.1 143.6,93.1 143.5,92.1 143.4,91.1 143.3,90.1 143.2,89.1 143.1,88.1 143.0,87.1 142.9,86.1 142.8,85.1 142.7,84.1 142.6,83.1 142.5,82.1 142.4,81.1 142.3,80.1 142.2,79.1 142.1,78.1 142.0,77.1 141.9,76.1 141.8,75.1 141.7,74.1 141.6,73.1 141.5,72.1 141.4,71.1 141.3,70.1 141.2,69.1 141.1,68.1 141.1,67.1 141.0,66.1 140.9,65.1 140.8,64.1 140.8,63.1 140.7,62.1 140.6,61.1 140.6,60.1 140.5,59.1 140.5,58.1 140.4,57.1 140.4,56.1 140.3,55.1 140.3,54.1 140.3,53.1 140.2,52.1 140.2,51.1 140.1,50.1 140.1,49.1 140.0,48.1 140.0,47.1 140.0,46.1 139.9,45.1 139.9,44.1 139.8,43.1 139.8,42.1 139.8,41.1 139.7,40.1 139.7,39.1 139.6,38.1 139.6,37.1 139.5,36.1 139.5,35.1 139.5,34.1 139.4,33.1 139.4,32.1 139.3,31.1 139.3,30.1 139.3,29.1 139.2,28.1 139.2,27.0 139.2,26.0 139.1,25.0 139.1,24.0 139.0,23.0 139.0,22.0 139.0,21.0 138.9,20.0 138.9,19.0 138.8,18.0 138.8,17.0 138.7,16.0 138.7,15.0 138.6,14.0 138.6,13.1 138.5,12.1 138.5,11.1 138.4,10.1 138.3,9.1 138.2,8.1Z" fill="#720c12" fill-opacity="0.30"/>
<path d="M139.2,8.0 139.3,9.0 139.4,10.0 139.5,11.0 139.5,12.0 139.6,13.0 139.7,14.0 139.7,15.0 139.8,16.0 139.8,17.0 139.8,18.0 139.9,19.0 139.9,20.0 140.0,21.0 140.0,22.0 140.0,23.0 140.1,24.0 140.1,25.0 140.2,26.0 140.2,27.0 140.2,28.0 140.3,29.0 140.3,30.0 140.4,31.0 140.4,32.0 140.4,33.0 140.5,34.0 140.5,35.0 140.6,36.0 140.6,37.0 140.6,38.0 140.7,39.0 140.7,40.0 140.8,41.0 140.8,42.0 140.8,43.0 140.9,44.0 140.9,45.0 141.0,46.0 141.0,47.0 141.0,48.0 141.1,49.0 141.1,50.0 141.2,51.0 141.2,52.0 141.3,53.0 141.3,54.0 141.4,55.0 141.4,56.0 141.4,57.0 141.5,58.0 141.5,59.0 141.6,60.0 141.7,61.0 141.7,62.0 141.8,63.0 141.8,64.0 141.9,65.0 142.0,66.0 142.1,67.0 142.1,68.0 142.2,69.0 142.3,70.0 142.4,71.0 142.5,72.0 142.6,73.0 142.7,74.0 142.8,75.0 142.9,76.0 143.0,76.9 143.1,77.9 143.2,78.9 143.3,79.9 143.4,80.9 143.5,81.9 143.6,82.9 143.7,83.9 143.8,84.9 143.9,85.9 144.0,86.9 144.1,87.9 144.2,88.9 144.3,89.9 144.4,90.9 144.5,91.9 144.6,92.9 144.7,93.9 144.9,94.9 145.0,95.9 145.1,96.8 145.2,97.8 145.4,98.8 145.6,99.8 145.8,100.8 146.0,101.8 146.4,102.7 147.1,103.4 148.0,103.3 148.9,102.9 149.8,102.4 150.7,102.0 151.7,101.8 152.6,102.2 153.4,102.8 154.3,103.2 155.3,103.2 156.1,102.7 156.8,102.0 157.3,101.1 157.7,100.2 158.1,99.3 158.5,98.3 158.8,97.4 159.1,96.4 159.3,95.4 159.6,94.5 159.8,93.5 160.1,92.5 160.3,91.6 160.5,90.6 160.7,89.6 160.9,88.6 161.1,87.6 161.3,86.7 161.6,85.7 161.9,84.7 162.2,83.8 162.6,82.9 163.1,82.0 163.8,81.3 164.7,80.9 165.7,80.7 166.7,80.9 167.6,81.4 168.4,81.9 169.3,82.3 170.3,82.7 171.2,83.0 172.2,83.4 173.1,83.6 174.1,83.9 175.1,84.1 176.1,84.2 177.0,84.4 178.0,84.6 179.0,84.8 180.0,84.9 181.0,84.9 182.0,85.0 183.0,84.9 184.0,84.8 185.0,84.5 185.9,84.2 186.9,83.9 187.8,83.6 188.8,83.4 189.8,83.1 190.7,82.8 191.7,82.6 192.7,82.3 193.6,82.1 194.6,81.8 195.6,81.6 196.5,81.3 197.5,81.1 198.5,80.9 199.5,80.6 200.4,80.4 201.4,80.2 202.4,80.0 203.4,79.8 204.4,79.6 205.3,79.4 206.3,79.2 207.3,79.0 208.3,78.8 209.3,78.6 210.3,78.5 211.2,78.3 212.2,78.2 213.2,78.0 214.2,77.9 215.2,77.7 216.2,77.6 217.2,77.5 218.2,77.4 219.2,77.3 220.2,77.2 221.2,77.1 222.2,77.0 223.2,76.9 224.2,76.8 225.2,76.7 226.2,76.6 227.2,76.5 228.2,76.5 229.2,76.4 230.2,76.3 231.2,76.2 232.1,76.2 233.1,76.1 234.1,76.0 235.1,76.0 236.1,75.9 237.1,75.8 238.1,75.7 239.1,75.7 240.1,75.6 241.1,75.5 242.1,75.5 243.1,75.4 244.1,75.3 245.1,75.2 246.1,75.2 247.1,75.1 248.1,75.0 249.1,75.0 250.1,74.9 251.1,74.8 252.1,74.7 253.1,74.7 254.1,74.6 255.1,74.5 256.1,74.5 257.1,74.4 258.1,74.3 259.1,74.3 260.1,74.2 261.1,74.1 262.1,74.0 263.1,73.9 264.1,73.8 265.1,73.7 266.1,73.6 267.1,73.5 268.1,73.4 269.1,73.3 270.1,73.2 271.1,73.1 272.1,73.0 273.1,73.0 274.1,72.9 275.1,72.8 276.1,72.7 277.1,72.7 278.0,72.6 279.0,72.5 280.0,72.4 281.0,72.4 282.0,72.3 283.0,72.2 284.0,72.2 285.0,72.1 286.0,72.1 287.0,72.0 288.0,71.9 289.0,71.9 290.0,71.8 291.0,71.7 292.0,71.7 293.0,71.6 294.0,71.6 295.0,71.5 296.0,71.5 297.0,71.4 298.0,71.3 299.0,71.3 300.0,71.2 301.0,71.2 302.0,71.1 303.0,71.0 304.0,70.9 305.0,70.9 306.0,70.8 307.0,70.7 308.0,70.6 309.0,70.5 310.0,70.5 311.0,70.4 312.0,70.3 313.0,70.2 314.0,70.1 315.0,70.1 316.0,70.0 317.0,69.9 318.0,69.8 319.0,69.7 320.0,69.6 321.0,69.5 322.0,69.4 323.0,69.3 324.0,69.2 325.0,69.1 326.0,69.0 327.0,68.9 327.9,68.8 328.9,68.7 329.9,68.6 330.9,68.5 331.9,68.3 332.9,68.2 333.9,68.1 334.9,68.0 335.9,67.9 336.9,67.7 337.9,67.6 338.9,67.5 339.9,67.3 340.9,67.2 341.8,67.1 342.8,66.9 343.8,66.8 344.8,66.6 345.8,66.5 346.8,66.3 347.8,66.1 348.8,66.0 349.8,65.8 350.7,65.6 351.7,65.4 352.7,65.2 353.7,65.0 354.7,64.8 355.6,64.6 356.6,64.4 357.6,64.1 358.6,63.9 359.5,63.6 360.5,63.4 361.5,63.1 362.4,62.8 363.4,62.6 364.3,62.3 365.3,62.0 366.3,61.7 367.2,61.4 368.2,61.1 369.1,60.8 370.0,60.3 371.0,60.1 372.0,59.9 372.9,59.5 373.8,59.1 374.8,58.8 375.7,58.4 376.6,58.1 377.6,57.8 378.5,57.4 379.4,57.0 380.4,56.5 381.3,56.2 382.3,56.1 383.1,55.4 383.9,54.6 384.9,54.5 385.6,53.6 386.7,53.5 387.6,53.2 388.4,52.6 389.2,51.9 390.1,51.5 391.0,50.9 391.9,50.6 392.7,50.0 393.8,49.8 394.8,49.5 395.4,48.6 396.2,48.0 397.2,47.7 398.3,47.6 398.9,46.7 399.6,45.9 400.7,45.7 401.6,45.3 402.5,44.9 403.1,43.9 403.9,43.4 405.0,43.2 405.5,42.2 406.5,41.8 406.8,40.7 408.0,40.6 409.1,40.3 409.7,39.5 410.0,38.3 411.2,38.1 412.2,37.8 412.1,36.2 413.4,36.0 414.3,35.5 414.5,34.3 415.8,34.2 415.8,32.8 416.1,31.7 417.4,31.6 418.3,31.0 419.1,30.4 419.8,29.7 419.5,28.0 420.9,27.9 421.5,27.2 422.3,26.5 423.2,25.9 423.2,24.7 424.2,24.2 424.5,23.2 425.5,22.7 426.0,21.8 426.6,21.0 427.5,20.4 427.6,19.2 427.8,18.2 429.0,17.7 429.2,16.7 429.8,15.9 429.4,14.6 430.3,13.9 431.5,13.3 430.8,11.9" fill="none" stroke="#1d1a86" stroke-width="1.90" stroke-linejoin="round" stroke-linecap="round"/>
<path d="M139.2,8.0 139.3,9.0 139.4,10.0 139.5,11.0 139.5,12.0 139.6,13.0 139.7,14.0 139.7,15.0 139.8,16.0 139.8,17.0 139.8,18.0 139.9,19.0 139.9,20.0 140.0,21.0 140.0,22.0 140.0,23.0 140.1,24.0 140.1,25.0 140.2,26.0 140.2,27.0 140.2,28.0 140.3,29.0 140.3,30.0 140.4,31.0 140.4,32.0 140.4,33.0 140.5,34.0 140.5,35.0 140.6,36.0 140.6,37.0 140.6,38.0 140.7,39.0 140.7,40.0 140.8,41.0 140.8,42.0 140.8,43.0 140.9,44.0 140.9,45.0 141.0,46.0 141.0,47.0 141.1,48.0 141.1,49.0 141.1,50.0 141.2,51.0 141.2,52.0 141.3,53.0 141.3,54.0 141.4,55.0 141.4,56.0 141.4,57.0 141.5,58.0 141.5,59.0 141.6,60.0 141.7,61.0 141.7,62.0 141.8,63.0 141.8,64.0 141.9,65.0 142.0,66.0 142.1,67.0 142.1,68.0 142.2,69.0 142.3,70.0 142.4,71.0 142.5,72.0 142.6,73.0 142.7,74.0 142.8,75.0 142.9,76.0 143.0,77.0 143.1,78.0 143.2,79.0 143.3,80.0 143.4,81.0 143.5,82.0 143.6,83.0 143.7,84.0 143.8,85.0 143.9,86.0 144.0,87.0 144.1,88.0 144.2,89.0 144.3,90.0 144.4,91.0 144.5,92.0 144.6,93.0 144.7,94.0 144.9,95.0 145.0,96.0 145.1,97.0 145.3,97.9 145.4,98.9 145.6,99.9 145.8,100.9 146.1,101.9 146.5,102.8 147.2,103.4 148.1,103.2 149.0,102.8 149.9,102.4 150.9,102.0 151.8,101.8 152.7,102.3 153.5,102.8 154.4,103.3 155.4,103.1 156.2,102.6 156.9,101.8 157.4,101.0 157.8,100.1 158.2,99.1 158.5,98.2 158.8,97.2 159.1,96.3 159.4,95.3 159.6,94.3 159.9,93.4 160.1,92.4 160.3,91.4 160.5,90.5 160.7,89.5 160.9,88.5 161.1,87.5 161.4,86.5 161.6,85.6 161.9,84.6 162.2,83.7 162.7,82.7 163.2,81.9 164.0,81.3 164.9,80.9 165.9,80.7 166.8,81.0 167.6,81.6 168.4,82.2 169.2,82.8 170.1,83.3 171.0,83.7 171.9,84.1 172.8,84.5 173.8,84.9 174.7,85.1 175.7,85.4 176.7,85.6 177.7,85.7 178.7,85.9 179.7,86.0 180.7,86.0 181.7,86.1 182.7,86.1 183.7,86.0 184.7,85.9 185.6,85.6 186.6,85.4 187.6,85.1 188.5,84.9 189.5,84.6 190.5,84.3 191.4,84.0 192.4,83.8 193.4,83.5 194.4,83.3 195.3,83.1 196.3,82.8 197.3,82.6 198.3,82.4 199.2,82.1 200.2,81.9 201.2,81.7 202.2,81.5 203.1,81.3 204.1,81.1 205.1,80.9 206.1,80.7 207.1,80.6 208.1,80.4 209.1,80.3 210.1,80.1 211.1,80.0 212.0,79.8 213.0,79.7 214.0,79.5 215.0,79.4 216.0,79.2 217.0,79.1 218.0,78.9 219.0,78.7 220.0,78.6 220.9,78.4 221.9,78.2 222.9,78.1 223.9,77.9 224.9,77.7 225.9,77.6 226.9,77.4 227.9,77.3 228.9,77.1 229.9,77.0 230.9,76.9 231.8,76.7 232.8,76.6 233.8,76.5 234.8,76.4 235.8,76.3 236.8,76.2 237.8,76.0 238.8,75.9 239.8,75.8 240.8,75.7 241.8,75.6 242.8,75.4 243.8,75.3 244.8,75.2 245.8,75.1 246.8,75.0 247.8,74.8 248.8,74.7 249.8,74.6 250.7,74.4 251.7,74.3 252.7,74.1 253.7,74.0 254.7,73.8 255.7,73.6 256.7,73.5 257.7,73.3 258.7,73.1 259.6,72.9 260.6,72.8 261.6,72.6 262.6,72.5 263.6,72.3 264.6,72.1 265.6,72.0 266.6,71.8 267.5,71.6 268.5,71.5 269.5,71.3 270.5,71.2 271.5,71.0 272.5,70.9 273.5,70.7 274.5,70.6 275.5,70.5 276.5,70.4 277.5,70.3 278.5,70.2 279.5,70.1 280.5,70.0 281.5,69.9 282.5,69.8 283.5,69.7 284.5,69.6 285.4,69.5 286.4,69.4 287.4,69.3 288.4,69.2 289.4,69.1 290.4,69.0 291.4,68.8 292.4,68.7 293.4,68.6 294.4,68.5 295.4,68.4 296.4,68.3 297.4,68.2 298.4,68.1 299.4,68.0 300.4,67.9 301.4,67.8 302.4,67.7 303.4,67.6 304.4,67.5 305.4,67.4 306.4,67.3 307.4,67.2 308.4,67.1 309.4,67.0 310.4,66.9 311.4,66.8 312.4,66.7 313.4,66.6 314.4,66.5 315.4,66.4 316.4,66.3 317.3,66.2 318.3,66.1 319.3,66.0 320.3,65.9 321.3,65.8 322.3,65.7 323.3,65.5 324.3,65.4 325.3,65.3 326.3,65.2 327.3,65.1 328.3,64.9 329.3,64.8 330.3,64.7 331.3,64.6 332.3,64.4 333.3,64.3 334.3,64.2 335.3,64.0 336.2,63.9 337.2,63.7 338.2,63.6 339.2,63.5 340.2,63.3 341.2,63.2 342.2,63.0 343.2,62.9 344.2,62.7 345.2,62.5 346.1,62.4 347.1,62.2 348.1,62.0 349.1,61.8 350.1,61.6 351.1,61.4 352.0,61.2 353.0,61.0 354.0,60.7 355.0,60.5 355.9,60.2 356.9,60.0 357.9,59.7 358.8,59.4 359.8,59.1 360.7,58.8 361.7,58.5 362.7,58.2 363.6,57.9 364.6,57.6 365.5,57.2 366.5,57.0 367.4,56.6 368.4,56.4 369.4,56.2 370.3,55.9 371.3,55.5 372.2,55.1 373.1,54.8 374.0,54.4 375.0,54.1 375.9,53.7 376.8,53.2 377.8,53.0 378.9,53.0 379.7,52.3 380.6,51.9 381.5,51.4 382.5,51.2 383.4,50.8 384.3,50.4 385.1,49.8 386.0,49.2 387.2,49.5 387.9,48.6 388.7,48.0 389.8,47.9 390.6,47.2 391.5,46.8 392.5,46.6 393.4,46.2 394.4,46.0 395.3,45.7 396.2,45.1 397.0,44.6 397.8,44.0 398.6,43.4 399.6,43.1 400.4,42.4 401.2,41.7 402.1,41.4 402.7,40.5 403.5,39.9 404.5,39.5 405.0,38.5 405.8,37.9 407.0,37.7 407.3,36.5 408.0,35.9 408.9,35.3 409.4,34.4 409.5,33.2 409.9,32.2 411.1,31.9 411.7,31.1 412.7,30.6 413.4,29.9 413.7,28.9 414.3,28.1 414.5,27.0 414.6,25.8 416.1,25.6 416.7,24.8 416.6,23.6 418.1,23.4 417.2,21.6 418.4,21.1 419.1,20.4 419.6,19.5 420.2,18.7 421.2,18.2 421.6,17.2 421.9,16.2 422.5,15.4 423.7,15.0 423.9,13.9 424.1,12.9 424.9,12.2" fill="none" stroke="#f2ac2c" stroke-width="1.90" stroke-linejoin="round" stroke-linecap="round"/>
<path d="M139.2,8.0 139.3,9.0 139.4,10.0 139.5,11.0 139.5,12.0 139.6,13.0 139.7,14.0 139.7,15.0 139.8,16.0 139.8,17.0 139.8,18.0 139.9,19.0 139.9,20.0 140.0,21.0 140.0,22.0 140.0,23.0 140.1,24.0 140.1,25.0 140.2,26.0 140.2,27.0 140.2,28.0 140.3,29.0 140.3,30.0 140.4,31.0 140.4,32.0 140.4,33.0 140.5,34.0 140.5,35.0 140.6,36.0 140.6,37.0 140.6,38.0 140.7,39.0 140.7,40.0 140.8,41.0 140.8,42.0 140.8,43.0 140.9,44.0 140.9,45.0 141.0,46.0 141.0,47.0 141.1,48.0 141.1,49.0 141.1,50.0 141.2,51.0 141.2,52.0 141.3,53.0 141.3,54.0 141.4,55.0 141.4,56.0 141.4,57.0 141.5,58.0 141.5,59.0 141.6,60.0 141.7,61.0 141.7,62.1 141.8,63.1 141.8,64.1 141.9,65.0 142.0,66.0 142.1,67.0 142.1,68.0 142.2,69.0 142.3,70.0 142.4,71.0 142.5,72.0 142.6,73.0 142.7,74.0 142.8,75.0 142.9,76.0 143.0,77.0 143.1,78.0 143.2,79.0 143.3,80.0 143.4,81.0 143.5,82.0 143.6,83.0 143.7,84.0 143.8,85.0 143.9,86.0 144.1,87.0 144.2,88.0 144.2,89.0 144.3,90.0 144.4,91.0 144.5,92.0 144.6,93.0 144.7,94.0 144.9,95.0 145.0,96.0 145.1,97.0 145.3,97.9 145.4,98.9 145.6,99.9 145.8,100.9 146.1,101.9 146.5,102.8 147.2,103.4 148.1,103.2 149.0,102.8 149.9,102.4 150.9,102.0 151.8,101.8 152.7,102.3 153.5,102.8 154.4,103.3 155.4,103.1 156.2,102.6 156.9,101.8 157.4,101.0 157.8,100.1 158.2,99.1 158.5,98.2 158.8,97.2 159.1,96.3 159.4,95.3 159.6,94.3 159.9,93.4 160.1,92.4 160.3,91.4 160.5,90.4 160.7,89.5 160.9,88.5 161.1,87.5 161.4,86.5 161.6,85.6 161.9,84.6 162.2,83.7 162.7,82.7 163.2,81.9 164.0,81.3 164.9,80.9 165.9,80.7 166.8,81.0 167.7,81.5 168.6,81.9 169.5,82.4 170.4,82.7 171.4,83.1 172.3,83.4 173.3,83.7 174.3,83.9 175.2,84.1 176.2,84.3 177.2,84.5 178.2,84.7 179.2,84.9 180.2,85.0 181.2,85.1 182.2,85.1 183.2,85.0 184.2,85.0 185.2,84.8 186.1,84.6 187.1,84.4 188.1,84.2 189.1,84.0 190.1,83.8 191.0,83.5 192.0,83.3 193.0,83.1 194.0,82.9 195.0,82.7 195.9,82.5 196.9,82.3 197.9,82.1 198.9,81.9 199.9,81.7 200.8,81.5 201.8,81.3 202.8,81.1 203.8,80.9 204.8,80.8 205.8,80.6 206.8,80.5 207.8,80.3 208.7,80.2 209.7,80.0 210.7,79.9 211.7,79.8 212.7,79.6 213.7,79.5 214.7,79.4 215.7,79.3 216.7,79.1 217.7,79.0 218.7,78.9 219.7,78.7 220.7,78.6 221.7,78.5 222.7,78.4 223.7,78.2 224.7,78.1 225.6,78.0 226.6,77.9 227.6,77.8 228.6,77.7 229.6,77.6 230.6,77.6 231.6,77.5 232.6,77.4 233.6,77.4 234.6,77.3 235.6,77.2 236.6,77.2 237.6,77.1 238.6,77.0 239.6,76.9 240.6,76.8 241.6,76.7 242.6,76.7 243.6,76.6 244.6,76.5 245.6,76.4 246.6,76.3 247.6,76.2 248.6,76.1 249.6,76.0 250.6,75.9 251.6,75.8 252.6,75.7 253.6,75.6 254.6,75.5 255.6,75.4 256.6,75.3 257.6,75.2 258.6,75.1 259.6,75.0 260.6,74.9 261.6,74.8 262.6,74.7 263.6,74.6 264.6,74.5 265.6,74.4 266.6,74.3 267.6,74.2 268.6,74.1 269.5,74.0 270.5,73.9 271.5,73.8 272.5,73.7 273.5,73.6 274.5,73.5 275.5,73.5 276.5,73.4 277.5,73.3 278.5,73.3 279.5,73.2 280.5,73.1 281.5,73.0 282.5,73.0 283.5,72.9 284.5,72.9 285.5,72.8 286.5,72.7 287.5,72.7 288.5,72.6 289.5,72.5 290.5,72.5 291.5,72.4 292.5,72.3 293.5,72.3 294.5,72.2 295.5,72.2 296.5,72.1 297.5,72.1 298.5,72.0 299.5,71.9 300.5,71.9 301.5,71.8 302.5,71.7 303.5,71.7 304.5,71.6 305.5,71.5 306.5,71.4 307.5,71.4 308.5,71.3 309.5,71.2 310.5,71.2 311.5,71.1 312.5,71.0 313.5,70.9 314.5,70.8 315.5,70.8 316.5,70.7 317.5,70.6 318.5,70.5 319.5,70.4 320.5,70.3 321.5,70.3 322.5,70.2 323.5,70.1 324.5,70.0 325.5,69.9 326.5,69.8 327.5,69.7 328.5,69.6 329.5,69.4 330.5,69.3 331.5,69.2 332.5,69.1 333.5,69.0 334.5,68.9 335.5,68.8 336.5,68.6 337.5,68.5 338.5,68.4 339.4,68.3 340.4,68.1 341.4,68.0 342.4,67.9 343.4,67.7 344.4,67.6 345.4,67.4 346.4,67.3 347.4,67.1 348.4,66.9 349.4,66.8 350.3,66.6 351.3,66.4 352.3,66.2 353.3,66.0 354.3,65.8 355.3,65.6 356.2,65.4 357.2,65.2 358.2,64.9 359.2,64.7 360.1,64.4 361.1,64.1 362.1,63.9 363.0,63.6 364.0,63.3 364.9,63.0 365.9,62.7 366.8,62.4 367.8,62.2 368.7,61.7 369.7,61.4 370.7,61.2 371.6,60.7 372.5,60.5 373.4,59.9 374.4,59.7 375.3,59.2 376.2,58.9 377.1,58.5 378.2,58.3 379.0,57.7 380.0,57.5 380.9,57.1 381.8,56.7 382.8,56.4 383.5,55.5 384.4,55.2 385.3,54.6 386.2,54.3 387.1,53.8 387.9,53.2 388.9,52.9 389.6,52.2 390.5,51.6 391.5,51.4 392.3,50.8 393.0,50.0 394.1,49.8 395.0,49.4 395.9,48.9 396.5,48.0 397.1,47.2 398.3,47.1 399.1,46.5 399.7,45.7 400.8,45.4 401.5,44.7 402.2,43.9 403.2,43.6 403.9,42.9 404.8,42.4 405.4,41.6 406.4,41.2 406.6,40.0 407.8,39.7 408.7,39.3 409.1,38.3 409.7,37.4 410.7,37.1 411.3,36.1 411.9,35.4 412.9,34.9 413.2,33.9 414.8,33.9 414.3,32.1 415.2,31.6 416.3,31.3 416.9,30.4 417.1,29.3 417.4,28.3 418.2,27.6 419.2,27.1 420.2,26.6 420.4,25.5 420.8,24.6 421.3,23.7 422.2,23.1 422.6,22.2 422.9,21.2 423.6,20.4 424.3,19.7 424.7,18.7 424.9,17.7 425.7,17.0 425.7,15.8 427.5,15.8 427.9,14.8 428.2,13.9 428.1,12.7 428.8,11.9" fill="none" stroke="#720c12" stroke-width="1.90" stroke-linejoin="round" stroke-linecap="round"/>
</g>
<rect x="25.00" y="14.90" width="489.70" height="89.55" fill="none" stroke="#a8a8a8" stroke-width="1"/>
<text x="22.0" y="107.10" font-size="7.25" text-anchor="end">0</text>
<text x="22.0" y="89.19" font-size="7.25" text-anchor="end">5</text>
<text x="22.0" y="71.28" font-size="7.25" text-anchor="end">10</text>
<text x="22.0" y="53.37" font-size="7.25" text-anchor="end">15</text>
<text x="22.0" y="35.46" font-size="7.25" text-anchor="end">20</text>
<text x="22.0" y="17.55" font-size="7.25" text-anchor="end">25</text>
<text x="92.54" y="112.05" font-size="7.25" text-anchor="middle">0.0</text>
<text x="176.98" y="112.05" font-size="7.25" text-anchor="middle">0.5</text>
<text x="261.41" y="112.05" font-size="7.25" text-anchor="middle">1.0</text>
<text x="345.84" y="112.05" font-size="7.25" text-anchor="middle">1.5</text>
<text x="430.27" y="112.05" font-size="7.25" text-anchor="middle">2.0</text>
<text x="514.70" y="112.05" font-size="7.25" text-anchor="middle">2.5</text>
<text x="269.85" y="121.65" font-size="7.25" text-anchor="middle">KAAE salt-bridge distance [nm]</text>
<text x="40.1" y="27.20" font-size="7.25" font-weight="bold" text-anchor="middle" style="fill:#000">A</text>
<g transform="translate(7.6,89.48) rotate(-90)">
<text x="0" y="0" font-size="7.25">free energy</text>
<path d="M46.3,-7.3 L45.1,-7.3 L45.1,3.3 L46.3,3.3 M57.3,-7.3 L58.5,-7.3 L58.5,3.3 L57.3,3.3" fill="none" stroke="#1c1c1c" stroke-width="0.8"/>
<line x1="47.3" y1="-2.0" x2="56.3" y2="-2.0" stroke="#1c1c1c" stroke-width="0.5"/>
<text x="51.8" y="-2.9" font-size="5.5" text-anchor="middle">kJ</text>
<text x="51.8" y="2.9" font-size="5.5" text-anchor="middle">mol</text>
</g>
<rect x="49.20" y="39.50" width="73.60" height="53.90" fill="#fff"/>
<clipPath id="ic0"><rect x="49.20" y="39.50" width="73.60" height="53.90"/></clipPath>
<g clip-path="url(#ic0)">
<path d="M52.7,35.8 52.9,36.8 53.1,37.8 53.2,38.8 53.4,39.8 53.5,40.8 53.6,41.8 53.8,42.8 53.9,43.8 54.0,44.8 54.1,45.8 54.3,46.8 54.4,47.8 54.5,48.8 54.7,49.8 54.8,50.8 54.9,51.8 55.0,52.8 55.2,53.8 55.3,54.8 55.4,55.8 55.5,56.8 55.7,57.7 55.8,58.7 55.9,59.7 56.0,60.7 56.1,61.7 56.3,62.7 56.4,63.7 56.5,64.7 56.6,65.7 56.8,66.7 56.9,67.7 57.0,68.7 57.2,69.7 57.3,70.7 57.4,71.7 57.5,72.7 57.7,73.6 57.8,74.6 57.9,75.6 58.1,76.6 58.3,77.6 58.5,78.5 58.7,79.5 59.0,80.4 59.2,81.4 59.5,82.3 59.9,83.2 60.2,84.2 60.5,85.1 60.9,86.0 61.3,86.9 61.6,87.9 62.0,88.7 62.5,89.6 63.0,90.3 63.5,90.9 64.1,91.2 64.7,91.1 65.5,90.8 66.3,90.3 67.1,89.8 67.8,89.2 68.6,88.6 69.3,88.0 70.0,87.3 70.8,86.6 71.6,85.9 72.3,85.3 73.1,84.6 73.9,83.9 74.9,83.3 76.2,83.0 77.5,83.3 78.4,83.9 79.3,84.5 80.1,85.0 80.9,85.4 81.8,85.8 82.7,86.1 83.6,86.4 84.6,86.7 85.6,86.9 86.5,87.2 87.4,87.5 88.2,87.7 89.1,87.6 89.9,87.4 90.7,87.0 91.5,86.5 92.2,86.0 92.9,85.3 93.5,84.7 94.1,83.9 94.6,83.1 95.1,82.3 95.6,81.4 96.1,80.6 96.6,79.7 97.0,78.8 97.5,77.9 97.9,77.0 98.3,76.1 98.8,75.2 99.2,74.3 99.6,73.4 100.0,72.5 100.3,71.6 100.7,70.6 101.1,69.7 101.4,68.8 101.7,67.9 102.1,66.9 102.4,66.0 102.6,65.0 102.9,64.1 103.1,63.1 103.4,62.2 103.6,61.2 103.8,60.2 104.0,59.2 104.3,58.3 104.5,57.3 104.7,56.3 104.9,55.3 105.1,54.4 105.3,53.4 105.5,52.4 105.7,51.4 105.9,50.4 106.1,49.5 106.3,48.5 106.6,47.5 106.8,46.5 107.0,45.5 107.2,44.5 107.5,43.5 107.7,42.6 108.0,41.6 108.3,40.6 108.6,39.7 108.8,38.7 109.0,37.8 109.3,36.8 109.5,35.8 111.5,36.3 111.2,37.3 111.0,38.2 110.7,39.2 110.5,40.2 110.2,41.2 109.9,42.1 109.7,43.1 109.4,44.1 109.2,45.0 108.9,46.0 108.7,46.9 108.5,47.9 108.3,48.9 108.1,49.9 107.9,50.8 107.7,51.8 107.5,52.8 107.3,53.8 107.1,54.8 106.9,55.8 106.7,56.7 106.4,57.7 106.2,58.7 106.0,59.7 105.8,60.7 105.6,61.6 105.3,62.6 105.1,63.6 104.8,64.6 104.6,65.6 104.3,66.6 103.9,67.5 103.6,68.5 103.3,69.5 102.9,70.4 102.6,71.4 102.2,72.3 101.8,73.3 101.4,74.2 101.0,75.1 100.6,76.1 100.1,77.0 99.7,77.9 99.3,78.8 98.8,79.7 98.3,80.6 97.9,81.5 97.4,82.4 96.9,83.3 96.3,84.2 95.7,85.1 95.1,85.9 94.3,86.8 93.5,87.5 92.6,88.2 91.7,88.8 90.6,89.3 89.4,89.7 88.1,89.8 86.9,89.6 85.9,89.3 84.9,89.0 84.0,88.7 83.0,88.5 82.0,88.2 81.0,87.8 80.0,87.4 78.9,87.0 78.0,86.3 77.2,85.8 76.6,85.4 76.2,85.3 75.8,85.4 75.2,85.8 74.6,86.3 73.8,87.0 73.0,87.6 72.3,88.3 71.6,88.9 70.9,89.6 70.0,90.3 69.2,91.0 68.3,91.6 67.5,92.2 66.5,92.8 65.2,93.3 63.7,93.3 62.2,92.7 61.3,91.7 60.6,90.7 60.1,89.7 59.7,88.7 59.3,87.8 58.9,86.8 58.5,85.9 58.2,84.9 57.8,83.9 57.5,83.0 57.2,82.0 56.9,81.0 56.6,80.0 56.4,79.0 56.2,78.0 56.0,77.0 55.8,75.9 55.7,74.9 55.5,73.9 55.4,72.9 55.3,71.9 55.2,70.9 55.0,69.9 54.9,68.9 54.8,68.0 54.7,67.0 54.5,66.0 54.4,65.0 54.3,64.0 54.2,63.0 54.0,62.0 53.9,61.0 53.8,60.0 53.7,59.0 53.6,58.0 53.4,57.0 53.3,56.0 53.2,55.0 53.1,54.0 52.9,53.0 52.8,52.0 52.7,51.0 52.6,50.1 52.4,49.1 52.3,48.1 52.2,47.1 52.1,46.1 51.9,45.1 51.8,44.1 51.7,43.1 51.6,42.1 51.4,41.1 51.3,40.1 51.2,39.1 51.0,38.2 50.9,37.2 50.6,36.3Z" fill="#1d1a86" fill-opacity="0.33"/>
<path d="M54.0,35.6 54.2,36.6 54.4,37.6 54.5,38.7 54.7,39.7 54.8,40.7 55.0,41.7 55.1,42.7 55.2,43.7 55.4,44.7 55.5,45.7 55.6,46.7 55.7,47.7 55.9,48.7 56.0,49.7 56.1,50.7 56.3,51.7 56.4,52.7 56.5,53.7 56.7,54.7 56.8,55.7 56.9,56.7 57.0,57.7 57.2,58.7 57.3,59.7 57.4,60.6 57.5,61.6 57.7,62.6 57.8,63.6 57.9,64.6 58.0,65.6 58.2,66.6 58.3,67.6 58.4,68.6 58.6,69.6 58.7,70.6 58.8,71.6 58.9,72.6 59.1,73.6 59.2,74.6 59.4,75.5 59.5,76.5 59.7,77.4 59.9,78.3 60.2,79.3 60.4,80.2 60.7,81.1 61.0,82.0 61.3,82.9 61.6,83.8 62.0,84.7 62.3,85.6 62.7,86.5 63.1,87.4 63.5,88.2 63.9,88.9 64.3,89.4 64.4,89.7 64.3,89.6 64.4,89.5 64.9,89.3 65.6,88.9 66.3,88.4 66.9,87.8 67.5,87.3 68.0,86.7 68.5,86.0 69.1,85.1 69.8,84.2 70.5,83.4 71.2,82.7 72.0,81.9 72.8,81.0 74.0,80.1 75.6,79.4 77.5,79.3 79.1,79.6 80.1,80.1 81.0,80.4 81.9,80.7 82.9,81.0 83.9,81.3 84.9,81.7 85.9,82.1 87.0,82.5 87.9,83.0 88.7,83.4 89.1,83.5 89.4,83.5 89.9,83.4 90.5,83.3 91.0,83.1 91.5,82.8 92.0,82.4 92.5,81.8 93.1,81.2 93.6,80.5 94.2,79.8 94.7,79.1 95.2,78.3 95.7,77.5 96.2,76.7 96.7,75.9 97.1,75.1 97.6,74.2 98.0,73.4 98.4,72.5 98.8,71.6 99.1,70.8 99.5,69.9 99.8,69.0 100.2,68.0 100.5,67.1 100.9,66.2 101.2,65.3 101.5,64.4 101.7,63.5 102.0,62.6 102.3,61.6 102.5,60.7 102.7,59.7 103.0,58.8 103.2,57.8 103.4,56.8 103.7,55.8 103.9,54.9 104.1,53.9 104.3,53.0 104.5,52.0 104.7,51.0 104.9,50.0 105.2,49.0 105.4,48.0 105.6,47.0 105.8,46.0 106.0,45.0 106.3,44.0 106.6,43.0 106.8,42.0 107.1,41.0 107.4,40.1 107.6,39.1 107.9,38.2 108.1,37.2 108.3,36.3 108.6,35.3 114.4,36.7 114.2,37.7 113.9,38.7 113.7,39.7 113.4,40.7 113.1,41.7 112.9,42.6 112.6,43.6 112.4,44.5 112.2,45.5 111.9,46.4 111.7,47.4 111.5,48.4 111.3,49.3 111.1,50.3 110.9,51.3 110.7,52.3 110.5,53.3 110.3,54.3 110.1,55.3 109.9,56.3 109.7,57.3 109.4,58.3 109.2,59.2 109.0,60.2 108.8,61.2 108.5,62.2 108.3,63.2 108.0,64.2 107.8,65.3 107.5,66.3 107.1,67.3 106.8,68.3 106.5,69.3 106.1,70.3 105.8,71.3 105.4,72.2 105.0,73.2 104.7,74.2 104.2,75.2 103.8,76.1 103.4,77.1 102.9,78.1 102.3,79.0 101.8,80.0 101.2,80.9 100.6,81.8 99.9,82.7 99.3,83.5 98.6,84.4 97.8,85.3 97.0,86.2 96.1,87.0 95.0,87.8 93.7,88.5 92.4,89.1 90.9,89.4 89.4,89.5 87.8,89.3 86.3,88.7 85.2,88.2 84.4,87.7 83.7,87.4 82.8,87.0 81.9,86.6 81.0,86.2 80.1,85.9 79.1,85.5 78.1,85.1 77.3,84.8 76.9,84.6 76.8,84.6 76.7,84.6 76.2,85.0 75.6,85.5 75.0,86.2 74.3,86.9 73.7,87.6 73.1,88.2 72.5,89.0 71.9,89.9 71.0,90.8 70.1,91.6 69.2,92.3 68.2,93.0 67.1,93.6 65.8,94.1 63.9,94.4 61.9,93.6 60.7,92.5 59.9,91.4 59.4,90.3 58.9,89.3 58.5,88.3 58.1,87.3 57.7,86.4 57.4,85.4 57.0,84.4 56.7,83.4 56.4,82.4 56.1,81.4 55.8,80.4 55.6,79.3 55.3,78.3 55.1,77.3 55.0,76.2 54.8,75.2 54.7,74.2 54.6,73.2 54.4,72.2 54.3,71.2 54.2,70.2 54.1,69.2 53.9,68.2 53.8,67.2 53.7,66.2 53.6,65.2 53.4,64.2 53.3,63.2 53.2,62.2 53.1,61.2 53.0,60.2 52.8,59.2 52.7,58.2 52.6,57.2 52.5,56.2 52.4,55.2 52.2,54.2 52.1,53.2 52.0,52.2 51.9,51.2 51.7,50.2 51.6,49.2 51.5,48.2 51.4,47.2 51.2,46.2 51.1,45.2 51.0,44.2 50.9,43.2 50.7,42.2 50.6,41.2 50.5,40.3 50.3,39.3 50.2,38.3 50.0,37.4 49.8,36.4Z" fill="#f2ac2c" fill-opacity="0.33"/>
<path d="M52.7,35.8 52.9,36.8 53.1,37.8 53.2,38.8 53.4,39.8 53.5,40.8 53.6,41.8 53.8,42.8 53.9,43.8 54.0,44.8 54.1,45.8 54.3,46.8 54.4,47.8 54.5,48.8 54.7,49.8 54.8,50.8 54.9,51.8 55.0,52.8 55.2,53.8 55.3,54.8 55.4,55.7 55.5,56.7 55.7,57.7 55.8,58.7 55.9,59.7 56.0,60.7 56.1,61.7 56.3,62.7 56.4,63.7 56.5,64.7 56.6,65.7 56.8,66.7 56.9,67.7 57.0,68.7 57.2,69.7 57.3,70.7 57.4,71.7 57.5,72.6 57.7,73.6 57.8,74.6 57.9,75.6 58.1,76.6 58.3,77.5 58.5,78.5 58.7,79.5 59.0,80.4 59.2,81.4 59.5,82.3 59.9,83.2 60.2,84.2 60.5,85.1 60.9,86.0 61.3,86.9 61.6,87.8 62.0,88.7 62.5,89.5 63.0,90.3 63.5,90.9 64.1,91.2 64.7,91.1 65.5,90.8 66.3,90.3 67.0,89.8 67.8,89.2 68.6,88.6 69.3,88.0 69.9,87.3 70.6,86.5 71.4,85.8 72.1,85.1 72.8,84.4 73.5,83.7 74.4,83.0 75.4,82.4 76.7,82.2 77.9,82.5 78.9,83.0 79.8,83.5 80.6,83.9 81.5,84.3 82.5,84.7 83.4,85.0 84.3,85.4 85.2,85.7 86.2,86.1 87.1,86.6 87.9,86.9 88.7,87.0 89.5,86.9 90.3,86.6 91.1,86.2 91.8,85.7 92.5,85.1 93.2,84.4 93.8,83.7 94.4,82.9 94.9,82.1 95.5,81.3 96.0,80.4 96.4,79.6 96.9,78.7 97.4,77.8 97.8,77.0 98.3,76.1 98.7,75.2 99.1,74.3 99.5,73.4 99.9,72.5 100.3,71.5 100.7,70.6 101.0,69.7 101.4,68.8 101.7,67.8 102.1,66.9 102.4,66.0 102.6,65.0 102.9,64.1 103.2,63.1 103.4,62.2 103.6,61.2 103.8,60.2 104.0,59.2 104.3,58.3 104.5,57.3 104.7,56.3 104.9,55.3 105.1,54.4 105.3,53.4 105.5,52.4 105.7,51.4 105.9,50.4 106.1,49.4 106.3,48.5 106.6,47.5 106.8,46.5 107.0,45.5 107.2,44.5 107.5,43.5 107.7,42.6 108.0,41.6 108.3,40.6 108.6,39.7 108.8,38.7 109.0,37.8 109.3,36.8 109.5,35.8 111.1,36.2 110.8,37.2 110.6,38.1 110.4,39.1 110.1,40.1 109.8,41.1 109.6,42.0 109.3,43.0 109.0,44.0 108.8,44.9 108.6,45.9 108.3,46.8 108.1,47.8 107.9,48.8 107.7,49.8 107.5,50.8 107.3,51.7 107.1,52.7 106.9,53.7 106.7,54.7 106.5,55.7 106.3,56.6 106.0,57.6 105.8,58.6 105.6,59.6 105.4,60.6 105.2,61.5 104.9,62.5 104.7,63.5 104.5,64.5 104.2,65.5 103.9,66.4 103.6,67.4 103.2,68.4 102.9,69.3 102.5,70.3 102.2,71.2 101.8,72.2 101.4,73.1 101.0,74.0 100.6,74.9 100.1,75.9 99.7,76.8 99.3,77.7 98.8,78.6 98.3,79.5 97.8,80.4 97.3,81.2 96.8,82.1 96.3,83.0 95.7,83.8 95.1,84.7 94.4,85.5 93.6,86.2 92.8,86.9 91.9,87.6 90.9,88.1 89.9,88.5 88.7,88.6 87.5,88.4 86.5,88.0 85.6,87.6 84.7,87.2 83.7,86.9 82.8,86.5 81.9,86.1 80.9,85.8 80.0,85.4 79.0,84.9 78.1,84.4 77.3,84.0 76.6,83.8 76.0,83.9 75.3,84.3 74.6,84.9 73.9,85.6 73.2,86.3 72.5,87.0 71.8,87.6 71.1,88.4 70.4,89.1 69.6,89.8 68.8,90.5 68.0,91.1 67.1,91.7 66.2,92.2 65.1,92.7 63.7,92.7 62.5,92.2 61.7,91.3 61.1,90.4 60.6,89.4 60.2,88.5 59.8,87.5 59.4,86.6 59.0,85.7 58.7,84.7 58.3,83.8 58.0,82.8 57.7,81.8 57.4,80.8 57.2,79.8 56.9,78.9 56.7,77.9 56.5,76.9 56.4,75.9 56.2,74.9 56.1,73.9 55.9,72.9 55.8,71.9 55.7,70.9 55.6,69.9 55.4,68.9 55.3,67.9 55.2,66.9 55.1,65.9 54.9,64.9 54.8,63.9 54.7,62.9 54.6,61.9 54.4,60.9 54.3,59.9 54.2,58.9 54.1,57.9 53.9,56.9 53.8,55.9 53.7,55.0 53.6,54.0 53.4,53.0 53.3,52.0 53.2,51.0 53.1,50.0 52.9,49.0 52.8,48.0 52.7,47.0 52.6,46.0 52.4,45.0 52.3,44.0 52.2,43.0 52.0,42.0 51.9,41.0 51.8,40.1 51.6,39.1 51.5,38.1 51.3,37.1 51.1,36.2Z" fill="#720c12" fill-opacity="0.30"/>
<path d="M51.9,36.0 52.1,37.0 52.3,38.0 52.4,39.0 52.6,39.9 52.7,40.9 52.8,41.9 53.0,42.9 53.1,43.9 53.2,44.9 53.4,45.9 53.5,46.9 53.6,47.9 53.7,48.9 53.9,49.9 54.0,50.9 54.1,51.9 54.2,52.9 54.4,53.9 54.5,54.9 54.6,55.9 54.7,56.8 54.9,57.8 55.0,58.8 55.1,59.8 55.2,60.8 55.4,61.8 55.5,62.8 55.6,63.8 55.7,64.8 55.9,65.8 56.0,66.8 56.1,67.8 56.2,68.8 56.4,69.8 56.5,70.8 56.6,71.8 56.7,72.8 56.9,73.8 57.0,74.7 57.2,75.7 57.3,76.7 57.5,77.7 57.7,78.7 57.9,79.7 58.2,80.6 58.5,81.6 58.8,82.6 59.1,83.5 59.4,84.4 59.8,85.4 60.1,86.3 60.5,87.3 60.9,88.2 61.3,89.1 61.8,90.0 62.4,90.8 63.0,91.5 63.9,92.0 64.9,91.9 65.8,91.5 66.7,91.0 67.5,90.4 68.3,89.8 69.1,89.2 69.9,88.6 70.6,87.9 71.3,87.2 72.1,86.5 72.8,85.9 73.6,85.2 74.4,84.6 75.2,84.1 76.2,83.8 77.1,84.1 78.0,84.6 78.8,85.2 79.7,85.7 80.6,86.1 81.5,86.5 82.4,86.8 83.4,87.1 84.4,87.4 85.3,87.7 86.3,88.0 87.2,88.3 88.2,88.5 89.2,88.4 90.2,88.1 91.1,87.7 91.9,87.2 92.7,86.6 93.5,85.9 94.1,85.2 94.7,84.4 95.3,83.5 95.8,82.7 96.3,81.8 96.8,80.9 97.3,80.1 97.7,79.2 98.2,78.3 98.6,77.4 99.1,76.5 99.5,75.6 99.9,74.6 100.3,73.7 100.7,72.8 101.1,71.9 101.4,70.9 101.8,70.0 102.2,69.1 102.5,68.1 102.8,67.2 103.1,66.2 103.4,65.3 103.7,64.3 103.9,63.3 104.2,62.3 104.4,61.4 104.6,60.4 104.8,59.4 105.0,58.4 105.3,57.5 105.5,56.5 105.7,55.5 105.9,54.5 106.1,53.5 106.3,52.6 106.5,51.6 106.7,50.6 106.9,49.6 107.1,48.6 107.3,47.7 107.5,46.7 107.8,45.7 108.0,44.7 108.3,43.8 108.5,42.8 108.8,41.8 109.1,40.9 109.3,39.9 109.6,38.9 109.8,37.9 110.1,37.0 110.3,36.0" fill="none" stroke="#1d1a86" stroke-width="1.90" stroke-linejoin="round" stroke-linecap="round"/>
<path d="M51.9,36.0 52.1,37.0 52.3,38.0 52.4,39.0 52.6,40.0 52.7,41.0 52.8,42.0 53.0,43.0 53.1,44.0 53.2,44.9 53.4,45.9 53.5,46.9 53.6,47.9 53.7,48.9 53.9,49.9 54.0,50.9 54.1,51.9 54.3,52.9 54.4,53.9 54.5,54.9 54.6,55.9 54.8,56.9 54.9,57.9 55.0,58.9 55.1,59.9 55.2,60.9 55.4,61.9 55.5,62.9 55.6,63.9 55.7,64.9 55.9,65.9 56.0,66.9 56.1,67.9 56.3,68.9 56.4,69.9 56.5,70.9 56.6,71.9 56.7,72.9 56.9,73.9 57.0,74.9 57.2,75.9 57.3,76.9 57.5,77.9 57.7,78.8 58.0,79.8 58.2,80.8 58.5,81.7 58.8,82.7 59.2,83.7 59.5,84.6 59.9,85.5 60.2,86.5 60.6,87.4 61.0,88.3 61.4,89.3 61.9,90.1 62.5,91.0 63.2,91.7 64.1,92.0 65.1,91.8 66.0,91.4 66.9,90.9 67.7,90.3 68.5,89.7 69.3,89.1 69.9,88.3 70.5,87.5 71.1,86.7 71.7,85.9 72.4,85.2 73.1,84.4 73.8,83.7 74.5,83.0 75.3,82.4 76.2,82.0 77.2,81.9 78.2,82.2 79.1,82.6 80.1,83.0 81.0,83.3 82.0,83.6 82.9,84.0 83.8,84.3 84.8,84.7 85.7,85.1 86.6,85.6 87.5,86.0 88.4,86.4 89.4,86.5 90.4,86.4 91.4,86.2 92.3,85.8 93.2,85.2 94.0,84.6 94.7,83.9 95.4,83.2 96.0,82.4 96.6,81.6 97.2,80.8 97.7,79.9 98.3,79.1 98.8,78.2 99.3,77.3 99.8,76.5 100.2,75.6 100.7,74.7 101.1,73.8 101.5,72.8 101.9,71.9 102.3,71.0 102.6,70.0 103.0,69.1 103.4,68.2 103.7,67.2 104.0,66.3 104.3,65.3 104.6,64.3 104.9,63.4 105.2,62.4 105.4,61.4 105.6,60.4 105.9,59.5 106.1,58.5 106.3,57.5 106.6,56.5 106.8,55.6 107.0,54.6 107.2,53.6 107.5,52.6 107.7,51.6 107.9,50.6 108.1,49.7 108.3,48.7 108.5,47.7 108.7,46.7 109.0,45.7 109.2,44.8 109.5,43.8 109.7,42.8 110.0,41.8 110.3,40.9 110.5,39.9 110.8,38.9 111.0,38.0 111.3,37.0 111.5,36.0" fill="none" stroke="#f2ac2c" stroke-width="1.90" stroke-linejoin="round" stroke-linecap="round"/>
<path d="M51.9,36.0 52.1,37.0 52.3,38.0 52.4,39.0 52.6,39.9 52.7,40.9 52.8,41.9 53.0,42.9 53.1,43.9 53.2,44.9 53.4,45.9 53.5,46.9 53.6,47.9 53.7,48.9 53.9,49.9 54.0,50.9 54.1,51.9 54.2,52.9 54.4,53.9 54.5,54.9 54.6,55.8 54.7,56.8 54.9,57.8 55.0,58.8 55.1,59.8 55.2,60.8 55.4,61.8 55.5,62.8 55.6,63.8 55.7,64.8 55.9,65.8 56.0,66.8 56.1,67.8 56.2,68.8 56.4,69.8 56.5,70.8 56.6,71.8 56.7,72.7 56.9,73.7 57.0,74.7 57.2,75.7 57.3,76.7 57.5,77.7 57.7,78.7 57.9,79.7 58.2,80.6 58.5,81.6 58.8,82.5 59.1,83.5 59.4,84.4 59.8,85.4 60.1,86.3 60.5,87.2 60.9,88.2 61.3,89.1 61.8,90.0 62.3,90.8 63.0,91.5 63.9,92.0 64.9,91.9 65.8,91.5 66.7,91.0 67.5,90.5 68.3,89.9 69.1,89.2 69.8,88.5 70.5,87.8 71.2,87.1 71.9,86.4 72.6,85.7 73.3,85.0 74.1,84.3 74.8,83.6 75.7,83.1 76.7,83.0 77.6,83.3 78.5,83.7 79.4,84.2 80.3,84.6 81.2,85.0 82.2,85.4 83.1,85.8 84.0,86.1 85.0,86.5 85.9,86.9 86.8,87.3 87.7,87.7 88.7,87.8 89.7,87.7 90.6,87.4 91.5,86.9 92.3,86.3 93.1,85.7 93.8,84.9 94.4,84.2 95.0,83.4 95.6,82.6 96.1,81.7 96.6,80.8 97.1,80.0 97.6,79.1 98.1,78.2 98.5,77.3 99.0,76.4 99.4,75.5 99.9,74.6 100.3,73.7 100.7,72.8 101.1,71.8 101.4,70.9 101.8,70.0 102.1,69.1 102.5,68.1 102.8,67.2 103.1,66.2 103.4,65.2 103.7,64.3 103.9,63.3 104.2,62.3 104.4,61.4 104.6,60.4 104.8,59.4 105.0,58.4 105.3,57.5 105.5,56.5 105.7,55.5 105.9,54.5 106.1,53.5 106.3,52.6 106.5,51.6 106.7,50.6 106.9,49.6 107.1,48.6 107.3,47.6 107.5,46.7 107.8,45.7 108.0,44.7 108.3,43.7 108.5,42.8 108.8,41.8 109.1,40.9 109.3,39.9 109.6,38.9 109.8,37.9 110.1,37.0 110.3,36.0" fill="none" stroke="#720c12" stroke-width="1.90" stroke-linejoin="round" stroke-linecap="round"/>
</g>
<rect x="49.20" y="39.50" width="73.60" height="53.90" fill="none" stroke="#a4a4a4" stroke-width="0.9"/>
<g stroke="#9a9a9a" stroke-width="0.8">
<line x1="47.80" y1="79.93" x2="49.20" y2="79.93"/>
<line x1="47.80" y1="66.45" x2="49.20" y2="66.45"/>
<line x1="47.80" y1="52.98" x2="49.20" y2="52.98"/>
<line x1="49.20" y1="93.40" x2="49.20" y2="94.80"/>
<line x1="77.51" y1="93.40" x2="77.51" y2="94.80"/>
<line x1="105.82" y1="93.40" x2="105.82" y2="94.80"/>
</g>
<text x="49.20" y="101.30" font-size="7.25" text-anchor="middle">0.30</text>
<text x="77.51" y="101.30" font-size="7.25" text-anchor="middle">0.35</text>
<text x="105.82" y="101.30" font-size="7.25" text-anchor="middle">0.40</text>
<clipPath id="c1"><rect x="25.00" y="127.60" width="489.70" height="89.55"/></clipPath>
<g stroke="#c4c4c4" stroke-width="0.8" fill="none">
<rect x="143.20" y="202.82" width="21.95" height="14.33"/>
<line x1="122.80" y1="152.20" x2="165.16" y2="202.82"/>
<line x1="49.20" y1="206.10" x2="143.20" y2="217.15"/>
</g>
<g clip-path="url(#c1)">
<path d="M140.3,120.8 140.5,121.8 140.7,122.8 140.8,123.8 140.9,124.8 141.0,125.9 141.1,126.9 141.2,127.9 141.2,128.9 141.3,129.9 141.3,130.9 141.3,131.9 141.4,132.9 141.4,133.9 141.4,134.9 141.5,135.9 141.5,136.9 141.5,137.9 141.6,138.9 141.6,139.9 141.6,140.9 141.7,141.9 141.7,142.9 141.7,143.9 141.8,144.9 141.8,145.9 141.8,146.9 141.9,147.9 141.9,148.9 141.9,149.9 142.0,150.9 142.0,151.9 142.0,152.9 142.1,153.9 142.1,154.9 142.1,155.9 142.2,156.9 142.2,157.9 142.2,158.9 142.3,159.9 142.3,160.9 142.3,161.9 142.3,162.9 142.4,163.9 142.4,164.9 142.5,165.9 142.5,166.9 142.5,167.9 142.6,168.9 142.6,169.9 142.7,170.9 142.7,171.9 142.8,172.9 142.9,173.9 142.9,174.9 143.0,175.9 143.0,176.9 143.1,177.9 143.2,178.8 143.2,179.8 143.3,180.8 143.4,181.8 143.4,182.8 143.5,183.8 143.6,184.8 143.6,185.8 143.7,186.8 143.8,187.8 143.8,188.8 143.9,189.8 144.0,190.8 144.1,191.8 144.1,192.8 144.2,193.8 144.3,194.8 144.4,195.8 144.5,196.8 144.5,197.8 144.6,198.8 144.7,199.8 144.8,200.8 144.9,201.8 145.0,202.8 145.1,203.7 145.2,204.7 145.3,205.7 145.4,206.7 145.5,207.7 145.6,208.7 145.7,209.7 145.9,210.6 146.0,211.6 146.2,212.5 146.5,213.4 146.7,214.3 146.9,214.8 147.0,214.9 147.3,214.7 148.0,214.2 148.7,213.6 149.7,212.9 151.1,212.4 152.4,212.6 153.3,212.9 154.1,212.9 154.9,212.9 155.5,212.7 155.9,212.3 156.4,211.7 156.8,210.9 157.1,210.1 157.4,209.2 157.7,208.3 158.0,207.3 158.2,206.3 158.5,205.4 158.7,204.4 159.0,203.5 159.2,202.5 159.5,201.5 159.7,200.6 160.0,199.6 160.2,198.6 160.4,197.6 160.7,196.7 160.9,195.7 161.2,194.7 161.5,193.7 161.9,192.7 162.4,191.6 163.2,190.6 164.3,189.7 166.1,189.4 167.5,190.1 168.3,190.6 169.2,191.1 170.1,191.6 170.9,192.0 171.8,192.4 172.7,192.9 173.5,193.2 174.3,193.5 175.2,193.8 176.1,194.0 176.8,194.1 177.5,194.2 178.2,194.1 179.0,194.0 179.8,193.8 180.7,193.6 181.6,193.4 182.5,193.2 183.5,193.0 184.4,192.8 185.4,192.5 186.4,192.3 187.3,192.0 188.2,191.8 189.1,191.5 190.1,191.2 191.0,191.0 191.9,190.7 192.9,190.4 193.9,190.1 194.9,189.8 195.9,189.5 196.9,189.2 197.9,188.9 198.9,188.7 199.9,188.5 200.9,188.4 201.9,188.2 202.9,188.1 203.9,188.0 204.9,187.8 205.8,187.7 206.8,187.5 207.8,187.4 208.8,187.3 209.8,187.1 210.8,187.0 211.8,186.8 212.7,186.7 213.7,186.5 214.7,186.4 215.7,186.2 216.6,186.1 217.6,185.9 218.5,185.8 219.5,185.6 220.5,185.4 221.5,185.3 222.4,185.1 223.4,184.9 224.4,184.8 225.4,184.6 226.4,184.4 227.4,184.3 228.4,184.2 229.4,184.2 230.4,184.2 231.4,184.1 232.4,184.1 233.4,184.0 234.5,184.0 235.5,184.0 236.5,183.9 237.5,183.9 238.5,183.9 239.5,183.8 240.5,183.8 241.6,183.8 242.6,183.7 243.6,183.7 244.6,183.7 245.6,183.6 246.6,183.6 247.6,183.6 248.7,183.6 249.7,183.5 250.7,183.4 251.7,183.3 252.7,183.2 253.7,183.0 254.7,182.9 255.7,182.8 256.7,182.7 257.7,182.6 258.7,182.5 259.7,182.4 260.7,182.3 261.7,182.2 262.7,182.1 263.7,182.0 264.7,181.9 265.8,181.9 266.8,181.8 267.8,181.7 268.8,181.6 269.8,181.6 270.8,181.5 271.8,181.4 272.8,181.4 273.8,181.3 274.8,181.2 275.8,181.2 276.8,181.1 277.8,181.0 278.7,181.0 279.7,180.9 280.7,180.8 281.8,180.8 282.8,180.7 283.8,180.6 284.8,180.6 285.7,180.5 286.7,180.4 287.7,180.4 288.7,180.3 289.7,180.2 290.7,180.2 291.7,180.1 292.7,180.0 293.7,179.9 294.7,179.9 295.7,179.8 296.7,179.7 297.7,179.6 298.7,179.5 299.7,179.4 300.7,179.3 301.6,179.2 302.6,179.1 303.6,179.0 304.6,178.9 305.6,178.8 306.6,178.7 307.6,178.6 308.6,178.5 309.6,178.4 310.6,178.3 311.6,178.2 312.6,178.1 313.6,178.0 314.6,177.9 315.6,177.7 316.6,177.7 317.6,177.6 318.6,177.6 319.6,177.5 320.6,177.3 321.6,177.3 322.6,177.2 323.6,177.0 324.6,177.0 325.6,176.8 326.6,176.9 327.6,176.7 328.6,176.8 329.6,176.6 330.6,176.6 331.6,176.5 332.6,176.4 333.6,176.4 334.6,176.2 335.6,176.1 336.6,176.0 337.6,175.9 338.6,175.8 339.6,176.0 340.6,175.8 341.6,175.7 342.6,175.7 343.6,175.6 344.6,175.4 345.6,175.5 346.6,175.3 347.6,175.5 348.6,175.1 349.6,175.2 350.5,174.9 351.6,175.0 352.5,174.8 353.5,174.8 354.5,174.7 355.5,174.6 356.5,174.7 357.5,174.5 358.5,174.5 359.5,174.4 360.5,174.5 361.5,174.3 362.5,174.3 363.5,174.2 364.5,173.9 365.5,174.0 366.4,173.7 367.4,173.7 368.4,173.6 369.4,173.4 370.4,173.3 371.4,173.1 372.4,173.0 373.3,172.9 374.4,173.0 375.3,172.8 376.3,172.4 377.3,172.7 378.3,172.4 379.2,171.9 380.2,172.1 381.2,171.7 382.2,171.7 383.2,171.7 384.2,171.8 385.2,171.4 386.2,171.3 387.1,170.9 388.1,170.8 389.1,170.7 390.1,170.6 391.0,170.2 392.0,170.1 393.0,169.7 393.9,169.6 395.0,169.7 395.9,169.1 396.9,169.3 397.9,169.1 398.9,168.8 399.9,168.8 400.8,168.3 401.8,168.2 402.8,168.3 403.6,167.4 404.7,167.6 405.6,167.3 406.7,167.6 407.6,167.2 408.6,166.9 409.5,166.6 410.4,166.0 411.4,165.7 412.5,166.2 413.4,165.7 414.3,165.3 415.4,165.2 416.3,164.9 417.3,164.6 418.1,164.0 419.2,164.1 420.1,163.9 421.1,163.4 422.1,163.5 423.1,163.4 424.0,163.1 425.0,162.7 426.0,162.8 426.8,161.5 427.8,161.6 428.8,161.6 429.8,161.4 430.6,160.6 431.7,160.8 432.4,160.0 433.4,159.8 434.3,159.5 435.2,159.1 436.3,159.3 437.1,158.9 438.0,158.5 438.8,157.9 439.6,157.2 440.5,157.0 441.4,156.6 442.5,156.7 443.1,155.5 444.0,155.3 445.0,155.0 445.8,154.5 446.8,154.4 447.7,153.9 448.5,153.3 449.2,152.6 450.5,153.1 450.9,151.7 451.9,151.5 452.5,150.7 453.6,150.7 454.2,149.7 455.3,149.7 455.4,148.1 456.4,147.9 457.5,147.8 457.9,146.8 458.6,146.3 459.5,146.0 460.2,145.5 461.0,145.0 461.0,143.7 461.8,143.3 462.4,142.6 463.4,142.2 463.8,141.2 464.2,140.3 465.1,139.7 465.7,139.0 466.3,138.3 466.3,137.1 467.5,136.8 467.8,135.9 468.6,135.3 469.2,134.5 470.0,133.9 470.4,133.0 470.7,132.1 472.0,131.8 471.8,130.5 472.5,129.8 473.4,129.2 473.5,128.1 473.8,127.2 474.3,126.5 475.2,126.0 475.2,125.2 475.7,124.5 475.8,123.4 476.2,122.5 485.1,126.0 483.3,126.3 484.4,127.8 482.7,128.5 482.0,129.5 482.0,130.8 481.1,131.6 481.4,133.1 480.5,133.7 479.7,134.5 480.3,136.1 479.3,136.7 479.0,137.8 477.3,137.9 477.4,139.2 476.2,139.6 476.2,141.0 473.6,140.3 474.4,142.2 473.4,142.8 473.0,143.9 472.1,144.5 471.6,145.5 470.9,146.2 470.2,147.0 468.9,147.2 468.1,147.8 467.5,148.8 467.1,149.8 465.7,150.0 465.0,150.9 465.0,152.7 463.8,153.0 462.8,153.6 462.2,154.5 460.7,154.3 460.6,156.0 459.2,155.8 457.8,155.5 456.8,155.9 456.3,157.1 455.8,158.4 454.4,158.0 453.7,158.9 453.0,159.8 451.5,159.3 450.3,159.2 449.9,160.6 448.9,160.9 447.8,161.0 447.2,162.2 445.8,161.6 445.2,162.7 444.1,162.7 442.9,162.5 442.2,163.6 441.3,164.1 440.2,164.2 439.3,164.7 438.1,164.6 437.1,164.9 436.1,165.1 435.0,165.2 434.1,165.8 433.3,166.7 432.2,166.3 431.2,166.7 430.2,166.9 429.3,167.3 428.2,167.0 427.2,167.3 426.4,168.1 425.3,167.9 424.3,168.0 423.4,168.5 422.3,168.2 421.3,168.4 420.4,168.8 419.5,169.6 418.4,169.3 417.5,169.9 416.5,169.9 415.5,170.2 414.5,170.3 413.5,170.6 412.5,170.7 411.6,171.1 410.7,171.4 409.6,171.4 408.7,171.8 407.7,171.8 406.8,172.6 405.6,172.0 404.7,172.8 403.8,173.4 402.7,173.1 401.7,172.9 400.7,173.1 399.8,173.7 398.7,173.5 397.7,173.8 396.8,174.3 395.8,174.6 394.8,174.3 393.8,174.6 392.8,174.5 391.9,175.5 390.8,175.0 389.8,175.1 388.9,175.5 387.9,175.9 386.9,175.8 385.9,176.2 384.9,176.4 383.9,176.3 382.9,176.3 381.9,176.3 380.9,176.5 379.9,176.7 378.9,177.1 377.9,176.9 376.9,177.1 375.9,177.4 374.9,177.5 373.9,177.6 372.9,177.6 371.9,177.7 370.9,177.9 369.9,177.9 368.9,178.3 367.9,177.9 366.9,178.4 365.9,178.4 364.9,178.4 363.9,178.6 362.9,178.9 361.9,178.9 360.9,178.9 359.9,179.0 358.9,179.0 357.9,179.0 356.9,179.3 355.9,179.2 354.9,179.2 353.9,179.2 352.9,179.4 351.9,179.5 350.9,179.6 349.9,179.5 348.9,179.8 347.9,179.8 346.9,179.7 345.9,179.9 344.9,180.1 343.9,180.1 342.9,180.0 341.9,180.3 340.9,180.3 339.9,180.4 338.9,180.4 337.9,180.6 336.9,180.5 335.9,180.5 334.9,180.7 333.9,180.8 332.9,180.7 331.9,180.9 330.9,181.1 329.9,181.1 328.9,181.0 327.9,181.2 326.9,181.3 325.9,181.4 324.9,181.4 324.0,181.5 323.0,181.5 322.0,181.6 321.0,181.7 320.0,181.7 319.0,181.8 318.0,181.9 317.0,182.0 316.0,182.1 315.0,182.2 314.0,182.3 313.0,182.4 312.0,182.5 311.0,182.5 310.0,182.6 309.0,182.7 308.0,182.8 307.1,182.9 306.1,183.0 305.1,183.1 304.1,183.2 303.1,183.3 302.1,183.4 301.1,183.5 300.1,183.6 299.1,183.7 298.1,183.8 297.1,183.9 296.1,184.0 295.1,184.1 294.1,184.2 293.1,184.3 292.1,184.4 291.1,184.5 290.1,184.6 289.1,184.7 288.1,184.8 287.1,184.9 286.1,185.0 285.1,185.1 284.1,185.2 283.1,185.2 282.1,185.3 281.1,185.4 280.1,185.5 279.1,185.6 278.1,185.7 277.1,185.8 276.1,185.8 275.1,185.9 274.2,186.0 273.2,186.1 272.2,186.2 271.2,186.3 270.2,186.4 269.2,186.5 268.2,186.6 267.2,186.7 266.2,186.7 265.2,186.8 264.2,186.9 263.2,187.1 262.3,187.2 261.3,187.3 260.3,187.4 259.3,187.5 258.3,187.6 257.3,187.8 256.3,187.9 255.4,188.0 254.4,188.2 253.4,188.3 252.4,188.4 251.4,188.6 250.4,188.7 249.5,188.9 248.5,189.0 247.5,189.2 246.5,189.4 245.5,189.5 244.6,189.7 243.6,189.9 242.6,190.0 241.6,190.2 240.6,190.4 239.6,190.5 238.7,190.7 237.7,190.9 236.7,191.0 235.7,191.2 234.7,191.4 233.7,191.6 232.8,191.8 231.8,191.9 230.8,192.1 229.8,192.3 228.8,192.5 227.8,192.6 226.9,192.8 225.9,193.0 224.9,193.2 223.9,193.4 222.9,193.5 221.9,193.7 220.9,193.9 219.9,194.1 218.9,194.2 218.0,194.4 217.0,194.6 216.0,194.7 215.0,194.9 214.0,195.0 213.0,195.2 212.0,195.3 211.0,195.5 210.0,195.6 209.0,195.8 208.0,195.9 207.0,196.1 206.0,196.2 205.0,196.4 204.1,196.5 203.1,196.6 202.1,196.8 201.1,196.9 200.1,197.1 199.1,197.2 198.1,197.3 197.1,197.4 196.2,197.5 195.2,197.6 194.2,197.7 193.2,197.9 192.2,198.0 191.2,198.2 190.2,198.3 189.2,198.4 188.2,198.5 187.2,198.6 186.2,198.7 185.1,198.8 184.1,198.8 183.1,198.9 182.1,199.0 181.1,199.0 180.0,199.0 178.9,199.0 177.8,198.9 176.6,198.7 175.5,198.4 174.5,198.0 173.5,197.5 172.5,197.1 171.6,196.5 170.7,195.9 169.9,195.3 169.0,194.8 168.2,194.1 167.4,193.5 166.6,192.9 165.9,192.2 165.5,191.9 165.3,191.9 164.9,192.3 164.5,192.9 164.1,193.6 163.8,194.5 163.5,195.4 163.2,196.3 163.0,197.2 162.7,198.2 162.5,199.2 162.3,200.2 162.0,201.1 161.8,202.1 161.5,203.1 161.3,204.0 161.0,205.0 160.8,206.0 160.5,207.0 160.3,207.9 160.0,208.9 159.7,209.9 159.3,210.9 158.9,211.9 158.4,212.9 157.7,213.9 156.6,214.8 155.3,215.2 154.1,215.3 152.9,215.2 151.9,214.9 151.2,214.8 150.8,214.9 150.2,215.4 149.4,216.1 148.4,216.7 146.9,217.2 145.3,216.4 144.6,215.1 144.3,214.1 144.0,213.0 143.8,212.0 143.6,211.0 143.5,210.0 143.3,209.0 143.2,208.0 143.1,207.0 143.0,206.0 142.9,205.0 142.8,204.0 142.7,203.0 142.6,202.0 142.5,201.0 142.4,200.0 142.3,199.0 142.3,198.0 142.2,197.0 142.1,196.0 142.0,195.0 141.9,194.0 141.9,193.0 141.8,192.0 141.7,191.0 141.6,190.0 141.6,189.0 141.5,188.0 141.4,187.0 141.3,186.0 141.3,185.0 141.2,184.0 141.1,183.0 141.1,182.0 141.0,181.0 140.9,180.0 140.9,179.0 140.8,178.0 140.8,177.0 140.7,176.0 140.6,175.0 140.6,174.0 140.5,173.0 140.5,172.0 140.4,171.0 140.4,170.0 140.3,169.0 140.3,168.0 140.2,167.0 140.2,166.0 140.1,165.0 140.1,164.0 140.1,163.0 140.0,162.0 140.0,161.0 140.0,160.0 139.9,159.0 139.9,158.0 139.9,157.0 139.8,156.0 139.8,155.0 139.8,154.0 139.8,153.0 139.7,152.0 139.7,151.0 139.7,150.0 139.6,149.0 139.6,148.0 139.6,147.0 139.5,146.0 139.5,145.0 139.5,144.0 139.4,143.0 139.4,142.0 139.4,141.0 139.3,140.0 139.3,139.0 139.3,138.0 139.2,137.0 139.2,136.0 139.2,135.0 139.1,134.0 139.1,133.0 139.1,132.0 139.0,131.0 139.0,130.0 138.9,129.0 138.9,128.0 138.8,127.0 138.8,126.0 138.7,125.1 138.6,124.1 138.4,123.2 138.2,122.2 138.1,121.2Z" fill="#1d1a86" fill-opacity="0.33"/>
<path d="M140.7,120.8 140.8,121.7 141.0,122.7 141.2,123.8 141.3,124.8 141.4,125.8 141.5,126.9 141.5,127.9 141.6,128.9 141.6,129.9 141.6,130.9 141.7,131.9 141.7,132.9 141.8,133.9 141.8,134.9 141.8,135.9 141.9,136.9 141.9,137.9 141.9,138.9 142.0,139.9 142.0,140.9 142.0,141.9 142.1,142.9 142.1,143.9 142.1,144.9 142.2,145.9 142.2,146.9 142.2,147.9 142.3,148.9 142.3,149.9 142.3,150.9 142.4,151.9 142.4,152.9 142.4,153.9 142.5,154.9 142.5,155.9 142.5,156.9 142.5,157.9 142.6,158.9 142.6,159.9 142.6,160.9 142.7,161.9 142.7,162.9 142.7,163.9 142.8,164.9 142.8,165.9 142.9,166.9 142.9,167.9 142.9,168.9 143.0,169.9 143.0,170.9 143.1,171.9 143.2,172.9 143.2,173.9 143.3,174.9 143.3,175.9 143.4,176.9 143.5,177.9 143.5,178.9 143.6,179.9 143.6,180.9 143.7,181.9 143.8,182.9 143.9,183.9 143.9,184.9 144.0,185.9 144.1,186.9 144.1,187.9 144.2,188.9 144.3,189.9 144.4,190.8 144.4,191.8 144.5,192.8 144.6,193.8 144.7,194.8 144.7,195.8 144.8,196.8 144.9,197.8 145.0,198.8 145.1,199.8 145.2,200.8 145.3,201.8 145.4,202.8 145.4,203.8 145.5,204.8 145.6,205.8 145.7,206.8 145.9,207.7 146.0,208.7 146.1,209.7 146.2,210.7 146.4,211.6 146.6,212.5 146.8,213.4 147.1,214.2 147.2,214.6 147.0,214.5 147.2,214.3 147.9,213.9 148.5,213.3 149.6,212.5 151.2,212.1 152.6,212.3 153.4,212.5 154.2,212.6 154.9,212.5 155.3,212.3 155.7,212.0 156.1,211.4 156.5,210.7 156.8,209.8 157.1,209.0 157.4,208.1 157.6,207.1 157.9,206.1 158.2,205.2 158.4,204.2 158.6,203.3 158.9,202.3 159.1,201.3 159.4,200.4 159.6,199.4 159.8,198.4 160.1,197.4 160.3,196.5 160.6,195.4 160.9,194.4 161.2,193.4 161.6,192.4 162.2,191.3 163.1,190.2 164.4,189.3 166.3,189.2 167.7,190.0 168.5,190.7 169.3,191.3 170.0,191.9 170.8,192.5 171.6,193.1 172.4,193.7 173.2,194.2 173.9,194.7 174.7,195.2 175.6,195.7 176.4,196.1 177.1,196.3 177.9,196.5 178.7,196.6 179.6,196.6 180.5,196.5 181.5,196.4 182.4,196.3 183.4,196.2 184.4,196.0 185.4,195.9 186.4,195.7 187.4,195.6 188.3,195.4 189.3,195.3 190.3,195.1 191.3,194.9 192.2,194.7 193.2,194.6 194.2,194.4 195.2,194.2 196.2,194.0 197.2,193.9 198.2,193.7 199.2,193.5 200.2,193.4 201.2,193.2 202.2,193.1 203.2,193.0 204.1,192.8 205.1,192.7 206.1,192.5 207.1,192.3 208.1,192.2 209.1,192.0 210.1,191.9 211.1,191.7 212.0,191.6 213.0,191.4 214.0,191.3 215.0,191.1 216.0,190.9 217.0,190.8 218.0,190.6 218.9,190.4 219.9,190.3 220.9,190.1 221.9,189.9 222.9,189.7 223.9,189.6 224.8,189.4 225.8,189.2 226.8,189.0 227.7,188.8 228.7,188.6 229.7,188.4 230.6,188.2 231.6,187.9 232.6,187.7 233.5,187.5 234.5,187.2 235.5,187.0 236.4,186.7 237.4,186.5 238.4,186.2 239.4,186.0 240.4,185.8 241.3,185.5 242.3,185.3 243.3,185.1 244.3,184.9 245.2,184.6 246.2,184.4 247.2,184.2 248.2,184.0 249.2,183.8 250.2,183.6 251.2,183.4 252.2,183.2 253.2,183.0 254.2,182.8 255.2,182.7 256.2,182.5 257.2,182.3 258.2,182.2 259.2,182.1 260.2,181.9 261.2,181.8 262.2,181.7 263.2,181.5 264.2,181.4 265.2,181.3 266.2,181.2 267.2,181.0 268.2,180.9 269.2,180.8 270.2,180.7 271.2,180.6 272.2,180.5 273.1,180.4 274.1,180.3 275.1,180.2 276.1,180.1 277.1,180.0 278.1,179.8 279.1,179.7 280.1,179.6 281.0,179.5 282.0,179.3 283.0,179.2 284.0,179.0 284.9,178.8 285.9,178.7 286.9,178.5 287.9,178.3 288.9,178.2 289.9,178.0 290.9,177.9 291.9,177.7 292.9,177.6 293.9,177.4 294.9,177.3 295.9,177.2 296.9,177.0 297.9,176.9 298.9,176.8 299.9,176.6 300.8,176.5 301.8,176.4 302.8,176.2 303.8,176.1 304.8,175.9 305.8,175.8 306.8,175.7 307.8,175.5 308.8,175.5 309.8,175.3 310.8,175.2 311.8,175.0 312.8,174.9 313.8,174.8 314.8,174.6 315.8,174.6 316.8,174.4 317.8,174.3 318.8,174.2 319.8,174.2 320.8,174.1 321.8,173.9 322.8,173.8 323.8,173.6 324.8,173.6 325.8,173.5 326.8,173.4 327.8,173.3 328.8,173.1 329.8,173.0 330.8,173.0 331.8,172.9 332.8,172.8 333.7,172.7 334.7,172.5 335.7,172.5 336.7,172.3 337.7,172.4 338.7,172.2 339.7,172.1 340.7,172.0 341.7,171.7 342.7,171.7 343.7,171.7 344.7,171.6 345.7,171.4 346.7,171.3 347.7,171.4 348.7,171.0 349.7,171.1 350.7,171.0 351.7,170.9 352.7,170.7 353.7,170.6 354.6,170.4 355.7,170.5 356.6,170.3 357.6,170.3 358.6,170.2 359.7,170.2 360.6,170.1 361.6,169.9 362.6,169.8 363.6,169.7 364.7,169.7 365.7,169.7 366.6,169.3 367.7,169.5 368.6,168.9 369.6,168.9 370.6,169.2 371.6,168.9 372.6,169.0 373.6,168.9 374.6,168.8 375.6,168.5 376.5,168.3 377.5,168.4 378.5,168.2 379.5,168.0 380.4,167.6 381.4,167.4 382.5,168.0 383.4,167.5 384.4,167.5 385.4,167.4 386.4,167.1 387.3,166.9 388.3,166.7 389.3,166.7 390.3,166.4 391.3,166.1 392.2,165.9 393.2,165.6 394.2,165.8 395.2,165.6 396.3,165.8 397.2,165.2 398.2,165.1 399.1,164.8 400.1,164.7 401.1,164.6 402.0,164.0 403.0,163.8 404.0,163.9 404.8,163.3 405.8,163.3 406.8,163.0 407.7,162.6 408.6,162.1 409.6,162.2 410.7,162.0 411.5,161.4 412.6,161.5 413.5,161.1 414.5,160.8 415.4,160.4 416.4,160.4 417.4,160.1 418.3,159.5 419.1,158.9 420.3,159.3 421.2,158.9 422.1,158.4 423.1,158.3 424.0,157.8 425.0,157.7 425.9,157.3 426.9,157.1 427.8,156.6 428.7,156.1 429.6,155.9 430.6,155.7 431.2,154.4 432.5,155.2 433.0,153.8 433.7,153.0 435.1,154.0 435.8,153.4 436.6,152.8 437.5,152.5 438.3,151.8 439.0,151.2 440.0,151.0 441.5,151.8 442.2,151.2 442.7,149.8 444.0,150.2 444.1,148.3 445.1,148.1 446.3,148.3 446.8,147.2 448.1,147.5 449.2,147.5 448.9,145.2 450.5,145.9 450.5,144.3 452.3,145.4 452.9,144.7 452.3,142.6 454.5,143.8 454.4,142.2 454.2,140.6 456.1,141.4 455.3,139.2 457.0,139.7 457.2,138.5 458.4,138.3 459.6,138.1 460.1,137.3 460.7,136.6 460.2,134.9 461.7,135.0 463.1,134.9 461.8,132.6 463.4,132.7 464.2,132.0 465.9,132.0 465.6,130.4 466.7,129.9 467.1,128.7 466.6,126.6 469.0,127.7 467.8,125.5 469.8,126.4 468.7,125.1 470.1,125.2 469.9,124.3 470.8,123.5 472.1,122.9 477.5,125.1 477.0,125.9 476.6,126.8 476.2,127.9 475.8,129.1 474.9,130.2 474.3,131.3 473.2,131.8 472.6,132.6 472.2,133.6 471.3,134.0 470.6,134.6 470.3,135.5 469.6,136.2 469.2,137.2 468.6,138.0 467.8,138.7 466.6,139.1 466.1,140.1 466.1,141.5 464.5,141.4 464.3,142.6 463.7,143.4 462.7,143.9 462.2,144.8 461.2,145.3 460.8,146.5 459.4,146.5 458.9,147.5 457.9,147.9 457.1,148.6 456.4,149.4 455.1,149.5 454.7,150.9 453.8,151.5 452.7,151.6 452.1,152.7 450.9,152.6 449.9,152.9 449.0,153.4 448.2,154.1 447.4,154.7 446.4,155.0 445.6,155.5 444.7,156.0 443.7,156.3 442.7,156.8 441.9,157.4 440.7,157.2 439.9,157.8 438.9,158.3 438.1,159.1 436.9,158.9 436.0,159.4 435.1,159.9 434.1,160.1 433.2,160.6 432.1,160.6 431.1,160.9 430.3,161.5 429.2,161.4 428.2,161.6 427.2,161.8 426.3,162.3 425.4,162.9 424.3,162.6 423.3,162.7 422.4,163.5 421.5,163.9 420.5,163.9 419.5,164.1 418.6,164.7 417.6,164.8 416.5,164.8 415.7,165.4 414.5,165.1 413.7,165.8 412.7,165.9 411.8,166.3 410.8,166.5 409.8,166.5 408.8,166.8 407.9,167.3 406.9,167.7 406.0,168.3 404.8,167.8 403.9,168.5 402.9,168.5 402.0,169.0 400.9,168.9 400.0,169.4 398.9,169.3 398.0,169.5 396.9,169.4 395.9,169.6 394.9,169.6 394.0,170.1 393.0,170.1 392.0,170.3 391.0,170.8 390.0,170.4 389.0,170.7 388.1,171.4 387.1,171.3 386.0,171.3 385.0,171.4 384.0,171.7 383.0,171.8 382.1,172.2 381.1,172.3 380.0,172.3 379.0,172.4 378.0,172.5 377.0,172.6 376.0,172.8 375.0,172.8 374.0,172.9 373.0,173.1 372.0,173.0 371.0,173.1 370.0,173.2 369.0,173.2 368.0,173.6 367.0,173.4 366.0,173.6 365.0,173.7 364.0,173.6 363.0,174.0 362.0,173.7 361.0,174.0 360.0,174.2 359.0,174.2 358.1,174.4 357.0,174.3 356.1,174.5 355.0,174.3 354.1,174.6 353.1,174.8 352.1,174.9 351.1,175.0 350.1,175.0 349.1,175.3 348.1,175.3 347.1,175.2 346.1,175.6 345.1,175.7 344.1,175.7 343.1,175.8 342.1,175.9 341.1,175.9 340.1,176.0 339.1,176.2 338.1,176.4 337.1,176.3 336.1,176.4 335.1,176.5 334.1,176.7 333.1,176.9 332.1,176.9 331.1,176.9 330.1,177.0 329.1,177.1 328.1,177.2 327.1,177.3 326.2,177.4 325.2,177.5 324.2,177.5 323.2,177.7 322.2,177.8 321.2,177.9 320.2,178.0 319.2,178.1 318.2,178.2 317.2,178.3 316.2,178.4 315.2,178.6 314.2,178.7 313.2,178.7 312.3,178.9 311.3,179.0 310.3,179.1 309.3,179.3 308.3,179.4 307.3,179.5 306.3,179.6 305.3,179.8 304.3,179.9 303.3,180.0 302.3,180.2 301.4,180.3 300.4,180.4 299.4,180.5 298.4,180.7 297.4,180.8 296.4,180.9 295.4,181.1 294.4,181.2 293.4,181.3 292.4,181.5 291.5,181.6 290.5,181.8 289.5,181.9 288.5,182.1 287.5,182.2 286.5,182.4 285.6,182.5 284.6,182.7 283.6,182.9 282.6,183.0 281.6,183.2 280.5,183.3 279.5,183.4 278.5,183.5 277.5,183.7 276.5,183.8 275.5,183.9 274.5,184.0 273.5,184.1 272.5,184.2 271.5,184.3 270.5,184.4 269.5,184.5 268.6,184.6 267.6,184.7 266.6,184.8 265.6,184.9 264.6,185.0 263.6,185.1 262.6,185.3 261.6,185.4 260.6,185.5 259.7,185.7 258.7,185.8 257.7,185.9 256.7,186.1 255.7,186.2 254.8,186.4 253.8,186.5 252.8,186.7 251.8,186.9 250.9,187.1 249.9,187.3 248.9,187.5 248.0,187.7 247.0,187.9 246.0,188.1 245.1,188.3 244.1,188.6 243.1,188.8 242.1,189.0 241.2,189.2 240.2,189.4 239.2,189.7 238.3,189.9 237.3,190.2 236.3,190.4 235.3,190.6 234.4,190.9 233.4,191.1 232.4,191.4 231.4,191.6 230.4,191.8 229.4,192.0 228.4,192.2 227.4,192.4 226.5,192.6 225.5,192.8 224.5,193.0 223.5,193.2 222.5,193.3 221.5,193.5 220.5,193.7 219.5,193.8 218.5,194.0 217.5,194.2 216.5,194.3 215.5,194.5 214.6,194.6 213.6,194.8 212.6,194.9 211.6,195.1 210.6,195.2 209.6,195.4 208.6,195.5 207.6,195.7 206.6,195.8 205.6,196.0 204.6,196.1 203.6,196.3 202.7,196.4 201.7,196.6 200.7,196.7 199.7,196.9 198.7,197.0 197.7,197.2 196.7,197.3 195.8,197.5 194.8,197.6 193.8,197.8 192.8,198.0 191.8,198.2 190.8,198.4 189.8,198.5 188.8,198.7 187.8,198.8 186.8,199.0 185.9,199.1 184.9,199.3 183.9,199.4 182.8,199.5 181.8,199.7 180.8,199.8 179.7,199.8 178.6,199.8 177.4,199.7 176.2,199.4 175.1,199.0 174.1,198.5 173.2,198.0 172.3,197.5 171.4,196.9 170.5,196.3 169.7,195.7 168.9,195.1 168.0,194.4 167.3,193.8 166.5,193.2 165.7,192.6 165.5,192.2 165.5,192.3 165.2,192.5 164.8,193.0 164.5,193.7 164.2,194.5 163.9,195.4 163.6,196.3 163.4,197.2 163.1,198.2 162.9,199.2 162.7,200.1 162.4,201.1 162.2,202.1 161.9,203.1 161.7,204.0 161.4,205.0 161.2,206.0 160.9,207.0 160.6,207.9 160.4,208.9 160.1,209.9 159.7,211.0 159.3,212.0 158.8,213.0 158.0,214.1 156.9,215.0 155.5,215.5 154.2,215.6 153.0,215.6 151.9,215.3 151.3,215.1 151.0,215.2 150.5,215.6 149.7,216.3 148.6,217.0 147.0,217.6 145.1,216.8 144.3,215.3 143.9,214.2 143.7,213.2 143.4,212.2 143.3,211.1 143.1,210.1 143.0,209.1 142.9,208.1 142.7,207.1 142.6,206.1 142.5,205.1 142.4,204.1 142.3,203.1 142.3,202.1 142.2,201.1 142.1,200.1 142.0,199.1 141.9,198.1 141.8,197.1 141.7,196.1 141.7,195.1 141.6,194.1 141.5,193.1 141.4,192.1 141.4,191.1 141.3,190.1 141.2,189.1 141.1,188.1 141.1,187.1 141.0,186.1 140.9,185.1 140.9,184.1 140.8,183.1 140.7,182.1 140.7,181.1 140.6,180.1 140.5,179.1 140.5,178.1 140.4,177.1 140.3,176.1 140.3,175.1 140.2,174.1 140.2,173.1 140.1,172.1 140.1,171.1 140.0,170.1 140.0,169.0 139.9,168.0 139.9,167.0 139.8,166.0 139.8,165.0 139.7,164.0 139.7,163.0 139.7,162.0 139.6,161.0 139.6,160.0 139.6,159.0 139.6,158.0 139.5,157.0 139.5,156.0 139.5,155.0 139.4,154.0 139.4,153.0 139.4,152.0 139.3,151.0 139.3,150.0 139.3,149.0 139.2,148.0 139.2,147.0 139.2,146.0 139.1,145.0 139.1,144.0 139.1,143.0 139.0,142.0 139.0,141.0 139.0,140.0 138.9,139.0 138.9,138.0 138.9,137.0 138.8,136.0 138.8,135.0 138.8,134.0 138.7,133.0 138.7,132.0 138.7,131.0 138.6,130.0 138.6,129.0 138.5,128.0 138.5,127.0 138.4,126.1 138.3,125.1 138.2,124.2 138.1,123.2 137.9,122.2 137.7,121.2Z" fill="#f2ac2c" fill-opacity="0.33"/>
<path d="M141.5,120.6 141.7,121.6 141.9,122.6 142.0,123.6 142.2,124.7 142.3,125.8 142.3,126.8 142.4,127.8 142.4,128.8 142.5,129.8 142.5,130.9 142.6,131.9 142.6,132.9 142.6,133.9 142.7,134.9 142.7,135.9 142.8,136.9 142.8,137.9 142.8,138.9 142.9,139.9 142.9,140.9 142.9,141.9 142.9,142.9 143.0,143.9 143.0,144.9 143.0,145.9 143.1,146.9 143.1,147.9 143.1,148.9 143.2,149.9 143.2,150.9 143.3,151.9 143.3,152.9 143.3,153.9 143.3,154.9 143.4,155.9 143.4,156.9 143.4,157.9 143.5,158.9 143.5,159.9 143.5,160.9 143.6,161.9 143.6,162.9 143.6,163.9 143.7,164.9 143.7,165.9 143.7,166.9 143.8,167.9 143.8,168.9 143.9,169.9 143.9,170.9 144.0,171.8 144.1,172.8 144.1,173.8 144.2,174.8 144.2,175.8 144.3,176.8 144.4,177.8 144.4,178.8 144.5,179.8 144.5,180.8 144.6,181.8 144.7,182.8 144.7,183.8 144.8,184.8 144.9,185.8 145.0,186.8 145.0,187.8 145.1,188.8 145.2,189.8 145.3,190.8 145.3,191.8 145.4,192.8 145.5,193.8 145.6,194.8 145.6,195.8 145.7,196.7 145.8,197.7 145.9,198.7 146.0,199.7 146.1,200.7 146.2,201.7 146.3,202.7 146.4,203.7 146.5,204.7 146.6,205.7 146.7,206.7 146.8,207.6 146.9,208.6 147.0,209.6 147.1,210.5 147.3,211.4 147.5,212.3 147.7,213.2 148.0,213.9 147.8,213.9 147.0,213.6 146.8,213.5 147.3,213.1 147.9,212.5 149.2,211.6 151.2,211.1 152.8,211.4 153.6,211.6 154.1,211.6 154.7,211.5 154.9,211.5 155.0,211.3 155.2,210.9 155.5,210.2 155.9,209.5 156.1,208.7 156.4,207.8 156.7,206.8 156.9,205.9 157.2,204.9 157.4,204.0 157.7,203.0 157.9,202.1 158.1,201.1 158.4,200.1 158.6,199.1 158.8,198.2 159.1,197.2 159.3,196.2 159.6,195.2 159.9,194.1 160.2,193.1 160.7,192.0 161.3,190.7 162.3,189.5 164.1,188.3 166.7,188.2 168.3,189.2 168.9,189.7 169.7,190.1 170.5,190.5 171.4,190.9 172.3,191.4 173.1,191.8 173.8,192.1 174.6,192.4 175.4,192.6 176.2,192.8 176.9,192.9 177.6,192.9 178.4,192.8 179.3,192.7 180.2,192.5 181.1,192.3 182.1,192.2 183.0,191.9 184.0,191.7 185.0,191.5 186.0,191.3 187.0,191.1 188.0,190.9 188.9,190.7 189.9,190.5 190.9,190.3 191.9,190.1 192.9,189.9 193.8,189.7 194.8,189.4 195.8,189.3 196.8,189.1 197.8,188.9 198.8,188.7 199.8,188.5 200.8,188.3 201.8,188.2 202.8,188.0 203.8,187.8 204.8,187.7 205.8,187.5 206.9,187.4 207.9,187.3 208.9,187.1 209.9,187.0 210.9,186.9 211.9,186.8 212.9,186.7 213.9,186.6 214.8,186.5 215.8,186.4 216.7,186.2 217.7,186.1 218.7,185.9 219.6,185.7 220.6,185.5 221.5,185.3 222.5,185.1 223.5,184.9 224.5,184.7 225.4,184.6 226.4,184.4 227.4,184.3 228.4,184.1 229.4,184.0 230.4,183.9 231.4,183.7 232.4,183.6 233.4,183.4 234.4,183.3 235.4,183.1 236.4,183.0 237.4,182.9 238.4,182.7 239.4,182.6 240.4,182.5 241.4,182.4 242.5,182.3 243.5,182.2 244.5,182.1 245.5,182.0 246.5,182.0 247.5,181.9 248.5,181.8 249.5,181.7 250.5,181.6 251.5,181.5 252.5,181.4 253.4,181.2 254.4,181.1 255.4,180.9 256.4,180.8 257.4,180.6 258.4,180.5 259.4,180.3 260.4,180.2 261.4,180.1 262.4,179.9 263.4,179.8 264.4,179.7 265.4,179.6 266.4,179.4 267.4,179.3 268.4,179.2 269.4,179.1 270.4,179.0 271.4,178.9 272.4,178.8 273.3,178.7 274.3,178.5 275.3,178.4 276.3,178.3 277.3,178.2 278.3,178.0 279.3,177.9 280.2,177.8 281.2,177.6 282.2,177.4 283.2,177.3 284.2,177.1 285.1,176.9 286.1,176.7 287.1,176.5 288.1,176.3 289.0,176.1 290.0,176.0 291.0,175.8 292.0,175.6 293.0,175.4 294.0,175.2 294.9,175.0 295.9,174.8 296.9,174.6 297.9,174.4 298.8,174.2 299.8,174.0 300.8,173.8 301.8,173.6 302.8,173.4 303.8,173.2 304.7,173.0 305.7,172.8 306.7,172.6 307.7,172.4 308.7,172.2 309.7,171.9 310.6,171.8 311.6,171.6 312.6,171.4 313.6,171.2 314.6,171.1 315.6,170.9 316.6,170.7 317.6,170.6 318.6,170.4 319.6,170.3 320.6,170.1 321.5,169.8 322.6,169.8 323.6,169.7 324.5,169.4 325.5,169.3 326.5,169.2 327.5,169.1 328.5,168.9 329.5,168.9 330.5,168.7 331.5,168.5 332.5,168.4 333.5,168.2 334.5,168.2 335.5,168.0 336.5,168.1 337.5,167.9 338.5,167.7 339.5,167.6 340.5,167.4 341.5,167.3 342.5,167.2 343.5,166.8 344.5,167.1 345.5,166.8 346.5,167.0 347.5,166.9 348.5,166.6 349.5,166.5 350.5,166.6 351.5,166.5 352.5,166.3 353.5,166.4 354.5,166.4 355.5,166.1 356.5,166.0 357.5,166.1 358.5,166.0 359.5,165.9 360.5,165.9 361.5,165.7 362.5,165.4 363.5,165.5 364.5,165.5 365.5,165.1 366.5,165.0 367.5,164.9 368.5,165.1 369.5,165.0 370.5,165.0 371.5,165.0 372.5,164.7 373.5,164.8 374.5,164.6 375.4,164.3 376.4,164.5 377.4,164.2 378.4,164.1 379.4,164.0 380.4,163.9 381.4,163.8 382.3,163.6 383.3,163.8 384.3,163.6 385.3,163.3 386.2,163.2 387.2,163.0 388.2,163.0 389.2,162.9 390.2,162.5 391.2,162.6 392.1,162.2 393.1,162.0 394.0,161.7 395.1,161.9 396.0,161.2 397.0,161.2 398.0,161.2 399.0,160.8 400.0,160.8 401.0,160.9 401.9,160.0 402.9,160.1 403.9,159.7 405.0,160.0 405.9,159.5 406.9,159.6 407.8,159.1 408.8,158.9 409.7,158.4 410.7,158.7 411.6,158.2 412.6,158.1 413.4,157.1 414.4,157.2 415.5,157.4 416.6,157.5 417.3,156.4 418.3,156.3 419.1,155.5 420.1,155.4 421.2,155.6 422.2,155.1 423.4,155.4 424.3,155.0 424.9,153.9 426.0,154.2 427.0,154.1 427.8,153.2 428.6,152.6 429.2,151.3 430.2,151.2 431.0,150.5 432.1,150.7 433.4,151.5 434.3,151.1 435.3,150.9 435.9,149.9 436.8,149.6 437.7,149.2 438.1,147.6 438.8,146.9 440.5,148.1 440.7,146.4 442.2,147.3 443.1,147.0 443.8,146.3 444.6,145.7 444.1,143.0 445.8,144.0 447.0,144.1 447.2,142.6 449.1,143.8 449.5,142.5 450.0,141.6 450.9,141.1 451.8,140.8 452.7,140.4 453.2,139.5 452.8,137.4 454.9,138.7 455.7,138.3 455.4,136.7 456.3,136.4 456.4,135.1 457.5,134.9 457.5,133.5 459.1,133.6 460.5,133.4 460.9,132.4 460.3,130.5 462.3,131.0 461.7,129.0 461.2,127.1 464.8,129.2 464.3,127.1 466.4,127.7 467.2,126.9 465.9,123.6 467.9,124.9 469.0,125.1 469.5,124.8 469.5,124.0 469.8,123.2 469.3,121.7 475.6,125.1 475.6,126.2 475.7,127.5 474.4,128.3 473.1,129.0 472.2,129.8 471.8,131.1 471.3,132.1 470.4,132.3 469.6,132.8 469.0,133.5 467.9,133.8 467.3,134.6 467.2,135.9 466.3,136.4 465.4,136.9 464.5,137.4 464.1,138.4 463.3,139.0 462.6,139.7 461.6,140.2 461.3,141.3 460.2,141.7 459.7,142.9 458.6,143.3 457.6,143.8 457.2,145.0 455.7,144.7 455.6,146.3 454.5,146.5 453.5,146.9 452.7,147.6 451.8,148.0 450.8,148.5 449.9,148.9 449.0,149.4 448.2,150.1 447.5,150.9 446.1,150.6 445.3,151.3 444.5,152.0 443.7,152.8 442.7,153.0 441.7,153.3 440.7,153.5 439.8,153.9 438.6,153.9 438.1,155.2 436.9,155.0 435.9,155.4 435.0,155.8 433.9,155.9 433.0,156.4 432.0,156.7 431.1,156.9 430.1,157.3 428.9,157.0 428.2,158.1 427.1,157.9 426.1,158.1 425.1,158.6 424.0,158.5 423.1,158.7 422.2,159.0 421.3,159.5 420.2,159.4 419.4,160.3 418.5,160.5 417.4,160.6 416.4,160.6 415.5,161.3 414.5,161.3 413.5,161.7 412.5,161.7 411.5,161.9 410.6,162.6 409.5,162.5 408.5,162.6 407.5,162.8 406.5,162.7 405.6,163.3 404.5,163.2 403.5,163.4 402.6,163.8 401.6,163.9 400.6,164.0 399.8,164.7 398.7,164.3 397.6,164.4 396.7,165.0 395.8,165.2 394.8,165.4 393.8,165.8 392.8,165.8 391.7,165.7 390.8,166.1 389.8,166.2 388.8,166.3 387.8,166.5 386.8,166.6 385.8,166.8 384.8,167.1 383.8,167.1 382.8,167.4 381.7,167.0 380.7,167.1 379.7,167.3 378.7,167.6 377.7,167.6 376.7,167.6 375.7,168.0 374.7,167.8 373.7,168.2 372.7,167.8 371.7,168.3 370.7,168.1 369.7,168.2 368.7,168.4 367.7,168.5 366.7,168.5 365.7,168.4 364.7,168.8 363.7,168.8 362.7,168.7 361.7,168.9 360.7,169.0 359.7,169.1 358.7,169.2 357.7,169.1 356.8,169.4 355.7,169.4 354.7,169.3 353.7,169.4 352.7,169.6 351.8,169.7 350.8,169.9 349.8,169.8 348.8,169.7 347.8,170.0 346.8,170.2 345.8,170.3 344.8,170.1 343.8,170.5 342.8,170.5 341.8,170.6 340.8,170.6 339.8,170.8 338.8,170.9 337.9,171.1 336.9,171.1 335.9,171.2 334.9,171.3 333.9,171.4 332.9,171.6 331.9,171.7 330.9,171.7 329.9,171.9 328.9,172.0 327.9,172.2 327.0,172.3 326.0,172.5 325.0,172.5 324.0,172.7 323.0,172.8 322.0,173.1 321.0,173.1 320.0,173.3 319.1,173.5 318.1,173.6 317.1,173.8 316.1,174.0 315.1,174.1 314.2,174.3 313.2,174.4 312.2,174.6 311.2,174.8 310.2,175.0 309.2,175.1 308.3,175.3 307.3,175.5 306.3,175.7 305.3,175.9 304.4,176.1 303.4,176.3 302.4,176.5 301.4,176.7 300.4,176.9 299.4,177.1 298.5,177.3 297.5,177.5 296.5,177.7 295.5,177.9 294.5,178.1 293.5,178.3 292.6,178.5 291.6,178.6 290.6,178.8 289.6,179.0 288.6,179.2 287.6,179.4 286.7,179.6 285.7,179.8 284.7,180.0 283.7,180.1 282.7,180.3 281.7,180.5 280.7,180.6 279.7,180.8 278.7,180.9 277.7,181.0 276.7,181.1 275.7,181.3 274.7,181.4 273.7,181.5 272.7,181.6 271.7,181.7 270.7,181.8 269.7,181.9 268.7,182.0 267.7,182.1 266.7,182.2 265.7,182.3 264.7,182.5 263.7,182.6 262.7,182.7 261.8,182.8 260.8,183.0 259.8,183.1 258.8,183.2 257.8,183.4 256.8,183.5 255.8,183.7 254.8,183.8 253.8,183.9 252.8,184.1 251.8,184.2 250.8,184.3 249.8,184.5 248.9,184.6 247.9,184.7 246.9,184.9 245.9,185.0 244.9,185.1 243.9,185.3 242.9,185.4 242.0,185.5 241.0,185.7 240.0,185.9 239.0,186.1 238.1,186.2 237.1,186.4 236.1,186.6 235.1,186.8 234.1,187.0 233.2,187.2 232.2,187.4 231.2,187.6 230.2,187.8 229.2,188.0 228.3,188.2 227.3,188.4 226.3,188.6 225.3,188.8 224.3,189.0 223.4,189.2 222.4,189.4 221.4,189.6 220.4,189.8 219.4,190.0 218.4,190.2 217.4,190.3 216.4,190.5 215.4,190.6 214.4,190.7 213.3,190.8 212.3,190.9 211.4,191.1 210.4,191.2 209.4,191.3 208.4,191.4 207.4,191.5 206.4,191.6 205.4,191.8 204.5,191.9 203.5,192.1 202.5,192.2 201.5,192.4 200.5,192.6 199.6,192.8 198.6,192.9 197.6,193.1 196.6,193.3 195.6,193.5 194.7,193.7 193.7,193.9 192.7,194.1 191.7,194.3 190.8,194.5 189.8,194.7 188.8,194.9 187.8,195.1 186.8,195.3 185.9,195.5 184.9,195.7 183.9,195.9 182.9,196.2 181.9,196.4 180.9,196.5 179.9,196.7 178.8,196.9 177.7,196.9 176.6,196.9 175.5,196.8 174.4,196.5 173.4,196.2 172.4,195.8 171.4,195.4 170.5,194.9 169.6,194.5 168.7,194.0 167.8,193.5 166.8,193.0 165.9,192.3 165.5,191.9 165.4,192.0 165.0,192.3 164.6,192.8 164.2,193.5 163.9,194.4 163.6,195.3 163.3,196.2 163.1,197.2 162.8,198.1 162.6,199.1 162.3,200.1 162.1,201.0 161.9,202.0 161.6,203.0 161.4,204.0 161.1,204.9 160.9,205.9 160.6,206.9 160.3,207.8 160.1,208.8 159.8,209.8 159.4,210.8 159.0,211.8 158.5,212.8 157.8,213.9 156.7,214.8 155.4,215.2 154.2,215.3 153.0,215.3 151.9,215.0 151.3,214.8 150.8,214.9 150.3,215.4 149.5,216.1 148.5,216.7 147.0,217.2 145.3,216.6 144.6,215.2 144.2,214.2 144.0,213.1 143.7,212.1 143.6,211.1 143.4,210.1 143.3,209.1 143.2,208.1 143.0,207.0 142.9,206.0 142.8,205.0 142.7,204.0 142.6,203.0 142.6,202.0 142.5,201.0 142.4,200.0 142.3,199.0 142.2,198.0 142.1,197.0 142.0,196.0 142.0,195.0 141.9,194.0 141.8,193.0 141.7,192.0 141.6,191.0 141.6,190.0 141.5,189.1 141.4,188.1 141.4,187.1 141.3,186.1 141.2,185.1 141.1,184.1 141.1,183.1 141.0,182.1 140.9,181.1 140.9,180.1 140.8,179.1 140.8,178.1 140.7,177.0 140.6,176.0 140.6,175.0 140.5,174.0 140.5,173.0 140.4,172.0 140.3,171.0 140.3,170.0 140.2,169.0 140.2,168.0 140.2,167.0 140.1,166.0 140.1,165.0 140.0,164.0 140.0,163.0 140.0,162.0 139.9,161.0 139.9,160.0 139.9,159.0 139.8,158.0 139.8,157.0 139.8,156.0 139.8,155.0 139.7,154.0 139.7,153.0 139.7,152.0 139.6,151.0 139.6,150.0 139.6,149.0 139.5,148.0 139.5,147.0 139.5,146.0 139.4,145.0 139.4,144.0 139.4,143.0 139.3,142.0 139.3,141.0 139.3,140.0 139.2,139.0 139.2,138.0 139.2,137.0 139.1,136.0 139.1,135.0 139.1,134.0 139.0,133.0 139.0,132.0 139.0,131.0 138.9,130.0 138.9,129.0 138.8,128.0 138.8,127.0 138.7,126.0 138.6,125.1 138.5,124.1 138.4,123.2 138.2,122.2 138.0,121.2Z" fill="#720c12" fill-opacity="0.30"/>
<path d="M139.2,121.0 139.3,122.0 139.5,123.0 139.7,124.0 139.8,125.0 139.9,125.9 140.0,126.9 140.0,127.9 140.1,128.9 140.1,129.9 140.2,130.9 140.2,131.9 140.2,132.9 140.3,133.9 140.3,134.9 140.3,135.9 140.4,136.9 140.4,137.9 140.4,138.9 140.5,139.9 140.5,140.9 140.5,141.9 140.6,142.9 140.6,143.9 140.6,144.9 140.7,145.9 140.7,146.9 140.7,147.9 140.8,148.9 140.8,149.9 140.8,150.9 140.9,151.9 140.9,152.9 140.9,153.9 141.0,154.9 141.0,155.9 141.0,156.9 141.0,157.9 141.1,158.9 141.1,159.9 141.1,160.9 141.2,161.9 141.2,162.9 141.2,163.9 141.3,164.9 141.3,165.9 141.4,166.9 141.4,167.9 141.4,168.9 141.5,169.9 141.5,170.9 141.6,171.9 141.7,172.9 141.7,173.9 141.8,174.9 141.8,175.9 141.9,176.9 142.0,177.9 142.0,178.9 142.1,179.9 142.1,180.9 142.2,181.9 142.3,182.9 142.3,183.9 142.4,184.9 142.5,185.9 142.6,186.9 142.6,187.9 142.7,188.9 142.8,189.9 142.8,190.9 142.9,191.9 143.0,192.9 143.1,193.9 143.2,194.9 143.2,195.9 143.3,196.9 143.4,197.9 143.5,198.9 143.6,199.9 143.7,200.9 143.8,201.9 143.8,202.9 143.9,203.9 144.0,204.9 144.1,205.8 144.2,206.8 144.3,207.8 144.5,208.8 144.6,209.8 144.7,210.8 144.9,211.8 145.1,212.8 145.4,213.7 145.7,214.7 146.1,215.6 146.9,216.0 147.8,215.7 148.7,215.2 149.5,214.5 150.2,213.9 151.2,213.6 152.1,213.8 153.1,214.0 154.1,214.1 155.1,214.0 156.0,213.7 156.8,213.1 157.4,212.3 157.8,211.4 158.2,210.5 158.6,209.5 158.8,208.6 159.1,207.6 159.4,206.7 159.6,205.7 159.9,204.7 160.1,203.8 160.4,202.8 160.6,201.8 160.9,200.8 161.1,199.9 161.3,198.9 161.6,197.9 161.8,197.0 162.1,196.0 162.4,195.0 162.7,194.1 163.0,193.1 163.5,192.2 164.1,191.5 164.8,190.8 165.8,190.7 166.6,191.2 167.4,191.9 168.2,192.4 169.0,193.0 169.8,193.6 170.7,194.2 171.5,194.7 172.3,195.2 173.2,195.7 174.1,196.1 175.0,196.5 176.0,196.9 176.9,197.1 177.9,197.3 178.9,197.3 179.9,197.3 180.9,197.2 181.9,197.2 182.9,197.1 183.9,197.0 184.9,196.8 185.9,196.7 186.9,196.6 187.9,196.5 188.9,196.3 189.9,196.2 190.9,196.0 191.8,195.9 192.8,195.7 193.8,195.5 194.8,195.3 195.8,195.2 196.8,195.0 197.8,194.9 198.8,194.7 199.7,194.6 200.7,194.5 201.7,194.3 202.7,194.2 203.7,194.0 204.7,193.9 205.7,193.8 206.7,193.6 207.7,193.5 208.7,193.3 209.7,193.2 210.6,193.1 211.6,192.9 212.6,192.8 213.6,192.6 214.6,192.5 215.6,192.3 216.6,192.2 217.6,192.0 218.6,191.9 219.5,191.7 220.5,191.5 221.5,191.4 222.5,191.2 223.5,191.0 224.5,190.8 225.5,190.7 226.4,190.5 227.4,190.3 228.4,190.1 229.4,190.0 230.4,189.8 231.4,189.6 232.4,189.5 233.3,189.3 234.3,189.1 235.3,188.9 236.3,188.8 237.3,188.6 238.3,188.4 239.3,188.3 240.2,188.1 241.2,187.9 242.2,187.8 243.2,187.6 244.2,187.4 245.2,187.3 246.2,187.1 247.2,187.0 248.1,186.8 249.1,186.7 250.1,186.5 251.1,186.4 252.1,186.2 253.1,186.1 254.1,186.0 255.1,185.8 256.1,185.7 257.1,185.6 258.0,185.4 259.0,185.3 260.0,185.2 261.0,185.1 262.0,185.0 263.0,184.9 264.0,184.8 265.0,184.7 266.0,184.6 267.0,184.5 268.0,184.4 269.0,184.3 270.0,184.2 271.0,184.1 272.0,184.1 273.0,184.0 274.0,183.9 275.0,183.8 276.0,183.7 277.0,183.7 278.0,183.6 279.0,183.5 280.0,183.4 281.0,183.3 282.0,183.2 282.9,183.2 283.9,183.1 284.9,183.0 285.9,182.9 286.9,182.8 287.9,182.8 288.9,182.7 289.9,182.6 290.9,182.5 291.9,182.4 292.9,182.3 293.9,182.2 294.9,182.1 295.9,182.0 296.9,181.9 297.9,181.8 298.9,181.7 299.9,181.6 300.9,181.5 301.9,181.4 302.9,181.3 303.9,181.2 304.9,181.1 305.9,181.0 306.9,180.9 307.8,180.8 308.8,180.7 309.8,180.6 310.8,180.5 311.8,180.4 312.8,180.3 313.8,180.2 314.8,180.1 315.8,180.0 316.8,179.9 317.8,179.9 318.8,179.8 319.8,179.7 320.8,179.6 321.8,179.4 322.8,179.6 323.8,179.5 324.8,179.3 325.8,179.3 326.8,179.0 327.8,179.1 328.8,178.9 329.8,178.9 330.8,178.7 331.8,178.8 332.8,178.8 333.8,178.7 334.8,178.5 335.7,178.4 336.7,178.3 337.7,178.3 338.8,178.3 339.8,178.3 340.7,178.1 341.7,178.0 342.7,177.9 343.7,177.8 344.7,177.8 345.7,177.4 346.7,177.7 347.7,177.8 348.7,177.4 349.7,177.6 350.7,177.2 351.7,177.4 352.7,177.1 353.7,177.1 354.7,177.0 355.7,176.7 356.7,177.1 357.7,177.1 358.7,177.0 359.7,176.7 360.7,176.4 361.7,176.7 362.7,176.2 363.7,176.3 364.7,176.2 365.7,176.0 366.6,175.7 367.7,175.9 368.7,175.9 369.7,176.1 370.6,175.4 371.6,175.5 372.7,175.6 373.7,175.6 374.6,175.1 375.6,175.1 376.6,174.9 377.6,174.7 378.5,174.4 379.6,174.7 380.6,174.2 381.6,174.2 382.6,174.3 383.5,173.8 384.5,173.7 385.6,174.1 386.5,173.2 387.5,173.6 388.5,173.0 389.5,173.3 390.5,172.9 391.4,172.6 392.4,172.5 393.4,172.3 394.3,171.8 395.3,171.5 396.3,171.2 397.3,171.4 398.3,171.4 399.3,170.9 400.4,171.3 401.3,170.7 402.3,170.7 403.2,170.2 404.2,170.1 405.1,169.8 406.1,169.6 407.2,169.8 408.2,169.7 409.2,169.4 410.1,169.1 410.9,168.3 412.1,168.6 413.0,168.2 413.9,167.8 415.0,167.9 415.9,167.4 416.9,167.3 417.9,167.1 419.0,167.6 419.9,166.9 420.8,166.3 421.7,165.8 422.7,165.8 423.5,165.0 424.4,164.4 425.7,165.4 426.7,165.2 427.7,165.0 428.5,164.5 429.3,163.5 430.6,164.5 431.4,163.4 432.2,162.8 433.2,162.5 434.2,162.4 435.4,163.1 436.2,162.1 437.2,161.9 437.8,160.7 439.4,162.0 439.8,160.5 440.8,160.3 441.6,159.6 442.6,159.3 443.9,159.8 444.4,158.6 445.6,158.7 446.5,158.3 447.3,157.5 448.0,156.7 449.2,156.9 449.8,155.9 450.8,155.7 451.6,155.0 452.8,155.1 453.2,153.9 454.2,153.6 455.0,152.9 456.4,153.4 456.7,152.0 457.7,151.7 458.9,151.6 458.9,149.9 460.0,149.8 460.9,149.3 461.3,148.2 462.6,148.1 463.4,147.6 463.7,146.4 465.3,146.7 465.3,145.2 465.6,144.1 466.6,143.7 468.2,143.8 468.1,142.4 468.5,141.4 469.3,140.8 470.3,140.3 471.7,140.1 470.9,138.2 471.8,137.7 472.8,137.2 472.3,135.6 473.8,135.4 474.5,134.7 474.6,133.5 476.0,133.3 475.9,132.0 476.1,130.9 477.2,130.4 477.5,129.5 477.7,128.4 478.1,127.5 479.1,126.9 478.9,125.7 479.6,124.9 479.7,123.9" fill="none" stroke="#1d1a86" stroke-width="1.90" stroke-linejoin="round" stroke-linecap="round"/>
<path d="M139.2,121.0 139.3,122.0 139.5,123.0 139.7,124.0 139.8,125.0 139.9,126.0 140.0,127.0 140.0,128.0 140.1,129.0 140.1,130.0 140.2,131.0 140.2,132.0 140.2,133.0 140.3,134.0 140.3,135.0 140.3,136.0 140.4,137.0 140.4,138.0 140.4,139.0 140.5,140.0 140.5,141.0 140.5,142.0 140.6,143.0 140.6,144.0 140.6,145.0 140.7,146.0 140.7,147.0 140.7,148.0 140.8,149.0 140.8,150.0 140.8,151.0 140.9,152.0 140.9,153.0 140.9,154.0 141.0,155.0 141.0,156.0 141.0,157.0 141.0,158.0 141.1,159.0 141.1,160.0 141.1,161.0 141.2,162.0 141.2,163.0 141.2,164.0 141.3,165.0 141.3,166.0 141.4,167.0 141.4,168.0 141.5,169.0 141.5,170.0 141.6,171.0 141.6,172.0 141.7,173.0 141.7,174.0 141.8,175.0 141.8,176.0 141.9,177.0 142.0,178.0 142.0,179.0 142.1,180.0 142.2,181.0 142.2,182.0 142.3,183.0 142.4,184.0 142.4,185.0 142.5,186.0 142.6,187.0 142.6,188.0 142.7,189.0 142.8,190.0 142.9,191.0 142.9,192.0 143.0,193.0 143.1,194.0 143.2,195.0 143.2,196.0 143.3,196.9 143.4,197.9 143.5,198.9 143.6,199.9 143.7,200.9 143.8,201.9 143.9,202.9 143.9,203.9 144.0,204.9 144.1,205.9 144.2,206.9 144.4,207.9 144.5,208.9 144.6,209.9 144.7,210.9 144.9,211.9 145.1,212.9 145.4,213.8 145.7,214.8 146.1,215.7 147.0,216.0 147.9,215.6 148.8,215.1 149.5,214.5 150.3,213.8 151.3,213.6 152.2,213.8 153.2,214.1 154.2,214.1 155.2,214.0 156.1,213.7 156.9,213.0 157.4,212.2 157.9,211.3 158.3,210.4 158.6,209.4 158.9,208.5 159.1,207.5 159.4,206.6 159.7,205.6 159.9,204.6 160.2,203.6 160.4,202.7 160.6,201.7 160.9,200.7 161.1,199.8 161.4,198.8 161.6,197.8 161.8,196.8 162.1,195.9 162.4,194.9 162.7,194.0 163.0,193.0 163.5,192.1 164.1,191.4 164.9,190.8 165.9,190.7 166.7,191.3 167.5,191.9 168.3,192.6 169.0,193.2 169.8,193.8 170.6,194.4 171.4,195.0 172.3,195.6 173.1,196.1 174.0,196.6 174.9,197.1 175.7,197.5 176.7,197.9 177.7,198.1 178.6,198.2 179.7,198.2 180.6,198.1 181.6,198.0 182.6,197.9 183.6,197.8 184.6,197.7 185.6,197.5 186.6,197.4 187.6,197.2 188.6,197.1 189.6,196.9 190.6,196.7 191.5,196.6 192.5,196.4 193.5,196.2 194.5,196.0 195.5,195.8 196.5,195.7 197.5,195.5 198.5,195.4 199.4,195.2 200.4,195.1 201.4,194.9 202.4,194.8 203.4,194.6 204.4,194.5 205.4,194.3 206.4,194.2 207.4,194.0 208.4,193.9 209.3,193.7 210.3,193.6 211.3,193.4 212.3,193.3 213.3,193.1 214.3,193.0 215.3,192.8 216.3,192.6 217.3,192.5 218.2,192.3 219.2,192.1 220.2,192.0 221.2,191.8 222.2,191.6 223.2,191.5 224.2,191.3 225.1,191.1 226.1,190.9 227.1,190.7 228.1,190.5 229.1,190.3 230.1,190.1 231.0,189.9 232.0,189.7 233.0,189.4 233.9,189.2 234.9,188.9 235.9,188.7 236.9,188.5 237.8,188.2 238.8,188.0 239.8,187.7 240.8,187.5 241.7,187.3 242.7,187.1 243.7,186.8 244.7,186.6 245.6,186.4 246.6,186.2 247.6,186.0 248.6,185.7 249.5,185.5 250.5,185.3 251.5,185.1 252.5,185.0 253.5,184.8 254.5,184.6 255.5,184.5 256.4,184.3 257.4,184.2 258.4,184.0 259.4,183.9 260.4,183.7 261.4,183.6 262.4,183.5 263.4,183.4 264.4,183.2 265.4,183.1 266.4,183.0 267.4,182.9 268.4,182.8 269.4,182.7 270.4,182.6 271.3,182.5 272.3,182.4 273.3,182.3 274.3,182.2 275.3,182.0 276.3,181.9 277.3,181.8 278.3,181.7 279.3,181.6 280.3,181.5 281.3,181.3 282.3,181.2 283.3,181.0 284.3,180.9 285.3,180.7 286.2,180.6 287.2,180.4 288.2,180.2 289.2,180.1 290.2,179.9 291.2,179.8 292.2,179.6 293.2,179.5 294.2,179.4 295.2,179.2 296.1,179.1 297.1,178.9 298.1,178.8 299.1,178.7 300.1,178.5 301.1,178.4 302.1,178.3 303.1,178.2 304.1,178.0 305.1,177.9 306.1,177.8 307.1,177.6 308.1,177.5 309.0,177.4 310.0,177.2 311.0,177.1 312.0,177.0 313.0,176.8 314.0,176.8 315.0,176.6 316.0,176.6 317.0,176.4 318.0,176.3 319.0,176.2 320.0,176.1 321.0,176.0 322.0,175.8 323.0,175.9 324.0,175.6 325.0,175.4 326.0,175.5 327.0,175.4 328.0,175.4 328.9,175.1 329.9,175.1 330.9,175.0 332.0,175.0 333.0,174.9 333.9,174.7 334.9,174.6 335.9,174.5 336.9,174.3 337.9,174.3 338.9,174.3 339.9,174.1 340.9,173.9 341.9,173.9 342.9,173.8 343.9,173.6 344.9,173.6 345.9,173.3 346.9,173.3 347.9,173.3 348.9,173.2 349.9,173.2 350.9,172.9 351.9,173.1 352.9,173.0 353.9,172.8 354.9,172.6 355.9,172.7 356.8,172.1 357.9,172.4 358.8,172.2 359.8,171.9 360.8,172.1 361.8,171.7 362.8,171.8 363.8,171.8 364.8,171.8 365.8,171.8 366.8,171.4 367.9,171.8 368.8,171.5 369.8,171.3 370.8,171.2 371.8,170.9 372.8,170.9 373.8,171.1 374.8,170.3 375.8,170.5 376.8,171.0 377.8,170.7 378.7,170.0 379.8,170.6 380.8,170.2 381.8,170.0 382.8,169.9 383.7,169.7 384.8,169.8 385.7,169.3 386.7,169.3 387.7,169.3 388.7,168.8 389.6,168.5 390.8,169.3 391.7,168.5 392.6,167.9 393.6,167.9 394.6,167.8 395.6,167.8 396.6,167.4 397.6,167.8 398.5,166.8 399.5,167.0 400.5,166.5 401.5,166.4 402.3,165.4 403.5,166.6 404.4,165.7 405.5,166.0 406.6,166.2 407.3,165.0 408.4,165.2 409.3,164.7 410.3,164.6 411.2,164.0 412.2,164.0 413.2,163.9 414.1,163.5 415.2,163.7 416.1,162.9 417.1,162.9 418.0,162.5 418.9,161.9 420.0,162.0 420.9,161.6 421.9,161.5 422.8,161.1 423.9,161.3 424.7,160.4 425.8,160.4 426.6,159.8 427.7,159.9 428.6,159.3 429.6,159.2 430.8,159.6 431.3,158.2 432.5,158.4 433.1,157.2 434.5,158.0 435.3,157.4 436.1,156.7 437.0,156.2 438.0,156.0 438.9,155.5 439.6,154.9 441.0,155.3 442.0,155.1 442.7,154.3 443.6,154.0 444.3,153.0 445.0,152.1 446.0,152.0 447.2,152.2 447.6,150.7 449.0,151.2 449.7,150.5 450.4,149.6 451.2,149.0 451.8,148.1 453.6,149.1 453.7,147.5 454.8,147.3 455.9,147.1 456.3,146.0 457.4,145.7 458.4,145.3 458.5,144.0 460.2,144.3 460.0,142.7 461.2,142.5 461.7,141.5 461.3,139.7 462.6,139.6 464.3,139.8 463.3,137.5 464.9,137.6 465.0,136.4 466.5,136.3 467.5,135.9 466.7,134.0 468.1,133.7 468.9,133.1 469.2,132.1 470.7,132.2 470.3,130.3 471.7,130.3 471.2,128.5 473.0,128.8 473.4,127.8 474.5,127.2 473.7,125.7 473.7,124.7 474.3,123.8" fill="none" stroke="#f2ac2c" stroke-width="1.90" stroke-linejoin="round" stroke-linecap="round"/>
<path d="M139.2,121.0 139.3,122.0 139.5,123.0 139.7,124.0 139.8,125.0 139.9,126.0 140.0,127.0 140.0,128.0 140.1,129.0 140.1,130.0 140.2,131.0 140.2,132.0 140.2,133.0 140.3,134.0 140.3,135.0 140.3,136.0 140.4,137.0 140.4,138.0 140.4,139.0 140.5,140.0 140.5,141.0 140.5,142.0 140.6,143.0 140.6,144.0 140.6,145.0 140.7,146.0 140.7,147.0 140.7,148.0 140.8,149.0 140.8,150.0 140.8,151.0 140.9,152.0 140.9,153.0 140.9,154.0 141.0,155.0 141.0,156.0 141.0,157.0 141.0,158.0 141.1,159.0 141.1,160.0 141.1,161.0 141.2,162.0 141.2,163.0 141.2,164.0 141.3,165.0 141.3,166.0 141.4,167.0 141.4,168.0 141.5,169.0 141.5,170.0 141.6,171.0 141.6,172.0 141.7,173.0 141.7,174.0 141.8,175.0 141.8,176.0 141.9,177.0 142.0,178.0 142.0,179.0 142.1,180.0 142.2,181.0 142.2,182.0 142.3,183.0 142.4,184.0 142.4,185.0 142.5,186.0 142.6,187.0 142.6,188.0 142.7,189.0 142.8,190.0 142.9,191.0 142.9,192.0 143.0,193.0 143.1,194.0 143.2,195.0 143.2,196.0 143.3,196.9 143.4,197.9 143.5,198.9 143.6,199.9 143.7,200.9 143.8,201.9 143.9,202.9 143.9,203.9 144.0,204.9 144.1,205.9 144.2,206.9 144.4,207.9 144.5,208.9 144.6,209.9 144.7,210.9 144.9,211.9 145.1,212.9 145.4,213.8 145.7,214.8 146.1,215.7 147.0,216.0 147.9,215.6 148.8,215.1 149.5,214.5 150.3,213.8 151.2,213.6 152.2,213.8 153.2,214.1 154.2,214.1 155.2,214.0 156.1,213.7 156.9,213.0 157.4,212.2 157.9,211.3 158.3,210.4 158.6,209.4 158.9,208.5 159.1,207.5 159.4,206.6 159.7,205.6 159.9,204.6 160.2,203.6 160.4,202.7 160.6,201.7 160.9,200.7 161.1,199.8 161.4,198.8 161.6,197.8 161.8,196.8 162.1,195.9 162.4,194.9 162.7,194.0 163.0,193.0 163.5,192.1 164.1,191.4 164.9,190.8 165.9,190.7 166.7,191.3 167.5,191.9 168.4,192.4 169.3,192.9 170.1,193.3 171.0,193.8 171.9,194.3 172.8,194.7 173.8,195.0 174.7,195.3 175.7,195.5 176.7,195.6 177.7,195.6 178.7,195.6 179.7,195.4 180.7,195.3 181.7,195.1 182.7,194.9 183.6,194.7 184.6,194.5 185.6,194.2 186.6,194.0 187.5,193.8 188.5,193.6 189.5,193.4 190.5,193.2 191.5,193.0 192.4,192.8 193.4,192.6 194.4,192.4 195.4,192.2 196.4,192.0 197.4,191.8 198.3,191.6 199.3,191.4 200.3,191.3 201.3,191.1 202.3,190.9 203.3,190.8 204.3,190.6 205.2,190.4 206.2,190.3 207.2,190.2 208.2,190.0 209.2,189.9 210.2,189.8 211.2,189.7 212.2,189.6 213.2,189.5 214.2,189.4 215.2,189.3 216.2,189.1 217.2,189.0 218.2,188.8 219.1,188.7 220.1,188.5 221.1,188.3 222.1,188.1 223.1,187.9 224.1,187.7 225.0,187.5 226.0,187.3 227.0,187.1 228.0,186.8 229.0,186.6 229.9,186.5 230.9,186.3 231.9,186.0 232.9,185.8 233.9,185.6 234.8,185.4 235.8,185.2 236.8,185.0 237.8,184.8 238.8,184.7 239.8,184.5 240.7,184.3 241.7,184.1 242.7,184.0 243.7,183.8 244.7,183.7 245.7,183.6 246.7,183.4 247.7,183.3 248.7,183.2 249.7,183.1 250.7,182.9 251.6,182.8 252.6,182.7 253.6,182.5 254.6,182.4 255.6,182.2 256.6,182.1 257.6,181.9 258.6,181.8 259.6,181.7 260.6,181.5 261.6,181.4 262.6,181.3 263.5,181.1 264.5,181.0 265.5,180.9 266.5,180.8 267.5,180.7 268.5,180.6 269.5,180.4 270.5,180.3 271.5,180.2 272.5,180.1 273.5,180.0 274.5,179.9 275.5,179.8 276.5,179.7 277.5,179.5 278.5,179.4 279.5,179.3 280.4,179.1 281.4,179.0 282.4,178.8 283.4,178.7 284.4,178.5 285.4,178.3 286.4,178.1 287.4,177.9 288.3,177.7 289.3,177.5 290.3,177.3 291.3,177.2 292.3,177.0 293.2,176.8 294.2,176.6 295.2,176.4 296.2,176.2 297.2,176.0 298.2,175.8 299.1,175.6 300.1,175.4 301.1,175.2 302.1,175.0 303.1,174.8 304.0,174.6 305.0,174.4 306.0,174.2 307.0,174.0 308.0,173.8 308.9,173.6 309.9,173.5 310.9,173.3 311.9,173.1 312.9,172.8 313.9,172.7 314.9,172.6 315.8,172.3 316.8,172.2 317.8,172.1 318.8,171.9 319.8,171.7 320.8,171.6 321.8,171.3 322.8,171.3 323.8,171.2 324.8,171.0 325.7,170.9 326.7,170.7 327.7,170.5 328.7,170.4 329.7,170.3 330.7,170.3 331.7,170.2 332.7,170.1 333.7,169.9 334.7,169.6 335.7,169.5 336.7,169.3 337.7,169.5 338.7,169.2 339.6,169.0 340.7,169.0 341.6,168.8 342.6,168.8 343.7,168.9 344.7,168.9 345.7,168.8 346.6,168.4 347.6,168.3 348.6,168.2 349.6,168.1 350.6,168.1 351.6,168.2 352.6,167.8 353.6,167.8 354.6,167.5 355.6,167.4 356.6,167.6 357.6,167.7 358.6,167.7 359.6,167.5 360.6,167.3 361.6,167.2 362.6,166.9 363.6,167.0 364.6,166.8 365.6,166.9 366.6,166.8 367.6,166.4 368.6,166.6 369.6,166.8 370.6,166.9 371.6,166.2 372.6,166.4 373.6,166.2 374.6,166.5 375.6,166.3 376.6,166.0 377.6,166.3 378.6,166.1 379.6,166.0 380.6,165.7 381.6,166.1 382.6,165.6 383.6,165.6 384.6,165.4 385.5,164.8 386.5,164.9 387.5,165.0 388.5,164.4 389.4,163.9 390.5,164.4 391.5,164.5 392.5,164.0 393.4,163.5 394.3,163.2 395.4,163.2 396.4,163.5 397.3,162.5 398.3,162.6 399.4,162.8 400.4,162.8 401.3,162.3 402.3,162.4 403.2,161.7 404.3,161.8 405.2,161.5 406.1,160.8 407.2,161.4 408.2,161.1 409.3,161.2 410.2,160.8 411.1,160.4 412.0,159.9 413.0,159.7 414.1,159.9 414.9,159.1 416.1,159.5 416.9,158.8 417.9,158.7 418.8,158.1 419.9,158.2 420.7,157.3 421.6,156.8 422.5,156.5 423.7,157.2 424.6,156.4 425.7,156.6 426.6,156.4 427.6,156.1 428.4,155.3 429.3,154.8 430.4,155.0 431.4,154.8 432.3,154.4 433.3,154.2 434.3,154.1 435.2,153.4 436.2,153.2 437.3,153.3 437.9,152.0 438.8,151.6 439.6,150.9 440.8,151.3 441.3,150.1 442.4,149.9 443.3,149.5 444.7,150.0 445.2,148.8 446.2,148.7 446.4,146.9 448.3,148.2 448.4,146.4 449.7,146.6 450.4,145.8 451.7,146.0 452.0,144.6 453.1,144.4 453.3,143.0 454.7,143.2 455.2,142.2 456.2,141.9 457.1,141.3 457.5,140.3 458.6,140.1 460.1,140.2 460.2,138.8 460.7,137.9 460.8,136.6 461.4,135.8 462.8,135.7 462.9,134.4 464.1,134.2 464.9,133.6 465.4,132.6 466.5,132.4 466.6,131.0 467.1,130.1 467.7,129.2 469.1,129.3 469.6,128.3 470.3,127.6 471.3,127.3 472.3,126.8 472.1,125.5 472.6,124.7 473.3,123.9" fill="none" stroke="#720c12" stroke-width="1.90" stroke-linejoin="round" stroke-linecap="round"/>
</g>
<rect x="25.00" y="127.60" width="489.70" height="89.55" fill="none" stroke="#a8a8a8" stroke-width="1"/>
<text x="22.0" y="219.80" font-size="7.25" text-anchor="end">0</text>
<text x="22.0" y="201.89" font-size="7.25" text-anchor="end">5</text>
<text x="22.0" y="183.98" font-size="7.25" text-anchor="end">10</text>
<text x="22.0" y="166.07" font-size="7.25" text-anchor="end">15</text>
<text x="22.0" y="148.16" font-size="7.25" text-anchor="end">20</text>
<text x="22.0" y="130.25" font-size="7.25" text-anchor="end">25</text>
<text x="92.54" y="224.75" font-size="7.25" text-anchor="middle">0.0</text>
<text x="176.98" y="224.75" font-size="7.25" text-anchor="middle">0.5</text>
<text x="261.41" y="224.75" font-size="7.25" text-anchor="middle">1.0</text>
<text x="345.84" y="224.75" font-size="7.25" text-anchor="middle">1.5</text>
<text x="430.27" y="224.75" font-size="7.25" text-anchor="middle">2.0</text>
<text x="514.70" y="224.75" font-size="7.25" text-anchor="middle">2.5</text>
<text x="269.85" y="234.35" font-size="7.25" text-anchor="middle">KAAAE salt-bridge distance [nm]</text>
<text x="40.1" y="139.90" font-size="7.25" font-weight="bold" text-anchor="middle" style="fill:#000">B</text>
<g transform="translate(7.6,202.18) rotate(-90)">
<text x="0" y="0" font-size="7.25">free energy</text>
<path d="M46.3,-7.3 L45.1,-7.3 L45.1,3.3 L46.3,3.3 M57.3,-7.3 L58.5,-7.3 L58.5,3.3 L57.3,3.3" fill="none" stroke="#1c1c1c" stroke-width="0.8"/>
<line x1="47.3" y1="-2.0" x2="56.3" y2="-2.0" stroke="#1c1c1c" stroke-width="0.5"/>
<text x="51.8" y="-2.9" font-size="5.5" text-anchor="middle">kJ</text>
<text x="51.8" y="2.9" font-size="5.5" text-anchor="middle">mol</text>
</g>
<rect x="49.20" y="152.20" width="73.60" height="53.90" fill="#fff"/>
<clipPath id="ic1"><rect x="49.20" y="152.20" width="73.60" height="53.90"/></clipPath>
<g clip-path="url(#ic1)">
<path d="M52.7,145.9 52.8,146.9 52.9,147.9 53.0,148.9 53.0,149.9 53.2,150.9 53.3,151.9 53.4,152.9 53.5,153.9 53.7,154.9 53.8,155.9 53.9,156.9 54.1,157.9 54.2,158.9 54.4,159.9 54.5,160.9 54.6,161.8 54.8,162.8 54.9,163.8 55.1,164.8 55.2,165.8 55.3,166.8 55.5,167.8 55.6,168.8 55.7,169.8 55.9,170.8 56.0,171.8 56.1,172.8 56.3,173.8 56.4,174.8 56.5,175.8 56.6,176.8 56.7,177.8 56.8,178.9 56.9,179.9 57.0,180.9 57.1,181.9 57.2,182.9 57.3,183.9 57.4,184.9 57.6,185.9 57.7,186.8 57.8,187.8 57.9,188.8 58.0,189.8 58.2,190.8 58.3,191.8 58.5,192.8 58.7,193.7 58.9,194.7 59.1,195.7 59.3,196.6 59.6,197.6 59.8,198.6 60.1,199.5 60.4,200.5 60.6,201.4 61.0,202.3 61.3,203.1 61.7,203.8 62.2,204.1 62.9,204.2 63.8,204.3 64.6,204.3 65.4,204.1 66.1,203.7 66.8,203.1 67.5,202.5 68.2,201.9 68.8,201.1 69.4,200.3 70.1,199.6 70.7,198.8 71.4,198.0 71.8,197.0 72.4,195.9 73.0,194.9 73.7,193.9 74.6,192.9 75.9,191.8 77.7,191.0 79.9,191.0 81.7,191.5 82.9,191.9 83.6,192.2 84.3,192.3 85.2,192.4 86.1,192.5 87.1,192.7 88.3,192.9 89.4,193.4 90.1,193.7 90.3,193.8 89.9,193.8 89.7,193.8 89.8,193.8 90.0,193.7 90.2,193.5 90.7,193.3 91.2,193.1 91.7,192.7 92.3,192.2 92.9,191.5 93.4,190.8 94.0,190.1 94.5,189.4 95.1,188.6 95.6,187.8 96.2,187.0 96.7,186.1 97.2,185.3 97.7,184.4 98.2,183.6 98.6,182.7 99.0,181.9 99.4,181.0 99.7,180.1 100.0,179.1 100.3,178.2 100.5,177.2 100.7,176.2 100.8,175.3 101.0,174.3 101.2,173.3 101.4,172.3 101.6,171.3 101.8,170.3 102.0,169.3 102.2,168.3 102.4,167.3 102.6,166.4 102.8,165.4 103.0,164.4 103.2,163.4 103.4,162.4 103.6,161.4 103.8,160.4 104.0,159.4 104.2,158.4 104.4,157.5 104.6,156.5 104.8,155.5 105.0,154.5 105.2,153.5 105.5,152.5 105.7,151.6 105.8,150.6 106.0,149.7 106.1,148.7 106.3,147.8 106.4,146.8 106.5,145.7 110.5,146.3 110.4,147.2 110.2,148.2 110.1,149.3 110.0,150.3 109.8,151.3 109.6,152.4 109.4,153.4 109.2,154.4 108.9,155.3 108.7,156.3 108.5,157.3 108.3,158.3 108.1,159.3 107.9,160.2 107.7,161.2 107.5,162.2 107.3,163.2 107.1,164.2 106.9,165.2 106.7,166.2 106.5,167.1 106.3,168.1 106.1,169.1 105.9,170.1 105.7,171.1 105.5,172.1 105.3,173.1 105.2,174.0 105.0,175.0 104.8,176.0 104.6,177.0 104.4,178.0 104.2,179.0 103.9,180.0 103.8,181.0 103.7,182.1 103.6,183.1 103.4,184.2 103.2,185.3 103.0,186.3 102.8,187.4 102.6,188.4 102.4,189.4 102.2,190.5 102.0,191.5 101.7,192.6 101.4,193.7 101.1,194.8 100.8,195.9 100.4,197.1 100.0,198.3 99.4,199.6 98.6,201.0 97.6,202.3 96.2,203.3 94.6,204.2 92.7,204.9 90.4,205.3 87.9,205.1 86.1,204.5 84.9,204.0 84.2,203.7 83.5,203.3 82.6,202.7 81.7,202.2 80.7,201.5 79.5,200.8 78.5,200.0 77.9,199.4 77.9,199.1 78.2,198.9 78.0,198.4 77.4,198.2 76.6,198.2 75.7,198.4 74.7,198.6 73.9,199.0 73.0,199.4 72.2,200.1 71.6,200.9 70.9,201.6 70.3,202.4 69.7,203.2 68.9,204.0 68.0,204.7 67.1,205.3 66.1,205.9 64.9,206.2 63.7,206.3 62.6,206.2 61.4,205.9 60.3,205.1 59.6,204.0 59.2,203.0 58.8,202.0 58.5,201.0 58.2,200.0 58.0,199.1 57.7,198.1 57.5,197.1 57.2,196.1 57.0,195.1 56.8,194.1 56.6,193.1 56.5,192.1 56.3,191.1 56.1,190.1 56.0,189.1 55.9,188.1 55.8,187.1 55.6,186.1 55.5,185.1 55.4,184.1 55.3,183.1 55.2,182.0 55.1,181.0 55.0,180.0 54.9,179.0 54.8,178.0 54.7,177.1 54.6,176.1 54.5,175.1 54.4,174.1 54.2,173.1 54.1,172.1 54.0,171.1 53.9,170.1 53.7,169.1 53.6,168.1 53.5,167.1 53.3,166.1 53.2,165.1 53.0,164.1 52.9,163.1 52.8,162.1 52.6,161.1 52.5,160.1 52.3,159.1 52.2,158.1 52.1,157.1 51.9,156.1 51.8,155.1 51.7,154.1 51.5,153.1 51.4,152.1 51.3,151.1 51.2,150.1 51.1,149.1 51.0,148.1 50.9,147.1 50.9,146.1Z" fill="#1d1a86" fill-opacity="0.33"/>
<path d="M53.2,145.9 53.2,146.9 53.3,147.9 53.4,148.9 53.5,149.9 53.6,150.8 53.7,151.8 53.8,152.8 53.9,153.8 54.1,154.8 54.2,155.8 54.4,156.8 54.5,157.8 54.6,158.8 54.8,159.8 54.9,160.8 55.1,161.7 55.2,162.7 55.3,163.7 55.5,164.7 55.6,165.7 55.8,166.7 55.9,167.7 56.0,168.7 56.2,169.7 56.3,170.7 56.4,171.7 56.6,172.7 56.7,173.7 56.8,174.7 56.9,175.7 57.0,176.7 57.1,177.7 57.2,178.7 57.3,179.7 57.5,180.7 57.6,181.7 57.7,182.7 57.8,183.7 57.9,184.7 58.0,185.7 58.1,186.7 58.2,187.7 58.3,188.7 58.5,189.6 58.6,190.6 58.8,191.6 58.9,192.6 59.1,193.5 59.3,194.5 59.5,195.4 59.7,196.4 60.0,197.4 60.2,198.3 60.5,199.3 60.7,200.2 61.0,201.1 61.3,202.0 61.7,202.8 62.0,203.4 62.3,203.7 62.9,203.8 63.7,203.9 64.4,203.9 65.1,203.7 65.7,203.3 66.4,202.9 67.1,202.3 67.7,201.7 68.3,201.0 68.9,200.2 69.6,199.4 70.2,198.6 70.9,197.9 71.6,197.1 72.4,196.3 73.3,195.5 74.2,194.9 75.2,194.3 76.4,193.9 77.8,193.6 79.3,193.8 80.5,194.4 81.4,195.0 82.2,195.5 83.0,195.9 83.8,196.2 84.7,196.6 85.7,196.9 86.7,197.3 87.7,197.8 88.6,198.3 89.3,198.6 89.9,198.8 90.4,198.8 90.9,198.6 91.6,198.3 92.2,197.8 92.8,197.3 93.4,196.7 93.9,196.0 94.4,195.3 94.9,194.5 95.3,193.7 95.8,192.8 96.2,191.9 96.7,191.1 97.1,190.2 97.5,189.3 97.9,188.4 98.2,187.5 98.6,186.6 98.9,185.7 99.2,184.8 99.5,183.9 99.7,183.0 99.9,182.0 100.1,181.1 100.3,180.1 100.6,179.1 100.8,178.1 101.0,177.2 101.1,176.2 101.3,175.2 101.5,174.2 101.7,173.2 101.9,172.3 102.1,171.3 102.3,170.3 102.5,169.3 102.7,168.3 102.8,167.3 103.0,166.4 103.2,165.4 103.4,164.4 103.6,163.4 103.8,162.4 103.9,161.4 104.1,160.4 104.3,159.4 104.5,158.4 104.7,157.5 104.9,156.5 105.1,155.5 105.3,154.5 105.5,153.5 105.7,152.5 105.9,151.6 106.1,150.6 106.2,149.6 106.4,148.7 106.5,147.7 106.7,146.7 106.8,145.7 110.8,146.3 110.6,147.3 110.5,148.3 110.3,149.3 110.1,150.3 109.9,151.3 109.8,152.3 109.6,153.3 109.4,154.3 109.2,155.3 108.9,156.3 108.7,157.2 108.5,158.2 108.3,159.2 108.2,160.2 108.0,161.2 107.8,162.1 107.6,163.1 107.4,164.1 107.2,165.1 107.0,166.1 106.8,167.1 106.6,168.1 106.4,169.0 106.3,170.0 106.1,171.0 105.9,172.0 105.7,173.0 105.5,174.0 105.3,175.0 105.1,176.0 104.9,176.9 104.7,177.9 104.5,178.9 104.3,179.9 104.0,180.9 103.8,181.9 103.6,182.9 103.4,183.9 103.1,184.9 102.8,185.9 102.4,186.9 102.1,187.9 101.7,188.9 101.3,189.8 100.9,190.8 100.4,191.7 100.0,192.7 99.5,193.6 99.0,194.5 98.6,195.4 98.0,196.3 97.5,197.2 96.8,198.2 96.1,199.1 95.3,199.9 94.4,200.7 93.4,201.3 92.2,201.9 90.8,202.3 89.3,202.3 88.0,201.8 87.0,201.3 86.1,200.8 85.3,200.4 84.5,200.1 83.5,199.7 82.6,199.3 81.6,198.8 80.5,198.3 79.7,197.7 78.9,197.2 78.3,196.9 77.8,196.8 77.2,196.9 76.5,197.1 75.8,197.5 75.1,198.0 74.4,198.5 73.8,199.2 73.1,199.8 72.5,200.6 71.8,201.3 71.2,202.1 70.6,202.8 69.9,203.7 69.0,204.5 68.2,205.2 67.2,205.8 66.1,206.4 64.8,206.7 63.5,206.7 62.4,206.6 61.0,206.2 59.8,205.2 59.1,204.1 58.7,203.0 58.3,202.0 58.0,201.0 57.8,200.0 57.5,199.0 57.3,198.1 57.0,197.1 56.8,196.1 56.6,195.1 56.4,194.1 56.2,193.1 56.0,192.0 55.8,191.0 55.7,190.0 55.6,189.0 55.4,188.0 55.3,187.0 55.2,186.0 55.1,185.0 55.0,184.0 54.9,183.0 54.8,182.0 54.7,181.0 54.6,180.0 54.5,179.0 54.4,178.0 54.3,177.0 54.2,176.0 54.0,175.0 53.9,174.0 53.8,173.0 53.7,172.1 53.6,171.1 53.4,170.1 53.3,169.1 53.2,168.1 53.0,167.1 52.9,166.1 52.8,165.1 52.6,164.1 52.5,163.1 52.3,162.1 52.2,161.1 52.1,160.1 51.9,159.1 51.8,158.2 51.6,157.2 51.5,156.2 51.4,155.2 51.2,154.2 51.1,153.2 51.0,152.2 50.9,151.2 50.8,150.1 50.7,149.1 50.6,148.1 50.5,147.1 50.4,146.1Z" fill="#f2ac2c" fill-opacity="0.33"/>
<path d="M53.1,145.9 53.2,146.9 53.2,147.9 53.3,148.9 53.4,149.9 53.5,150.9 53.6,151.8 53.8,152.8 53.9,153.8 54.0,154.8 54.2,155.8 54.3,156.8 54.4,157.8 54.6,158.8 54.7,159.8 54.9,160.8 55.0,161.8 55.1,162.8 55.3,163.8 55.4,164.8 55.6,165.7 55.7,166.7 55.8,167.7 56.0,168.7 56.1,169.7 56.3,170.7 56.4,171.7 56.5,172.7 56.6,173.7 56.8,174.7 56.9,175.7 57.0,176.7 57.1,177.7 57.2,178.7 57.3,179.7 57.4,180.7 57.5,181.7 57.6,182.7 57.7,183.7 57.8,184.7 57.9,185.7 58.0,186.7 58.2,187.7 58.3,188.7 58.4,189.7 58.6,190.7 58.7,191.6 58.9,192.6 59.1,193.6 59.3,194.5 59.5,195.5 59.7,196.5 60.0,197.4 60.2,198.4 60.5,199.3 60.7,200.3 61.0,201.2 61.3,202.1 61.7,202.9 62.0,203.5 62.3,203.7 62.9,203.8 63.7,203.9 64.5,203.9 65.1,203.7 65.8,203.3 66.5,202.8 67.1,202.3 67.7,201.7 68.3,200.9 69.0,200.1 69.6,199.4 70.3,198.6 71.0,197.8 71.7,197.1 72.4,196.3 73.3,195.6 74.1,194.9 75.0,194.3 76.0,193.7 77.2,193.2 78.5,192.9 79.7,192.9 80.9,193.1 81.9,193.3 82.9,193.5 83.9,193.7 84.9,194.0 85.8,194.1 86.7,194.3 87.6,194.4 88.5,194.4 89.3,194.4 90.0,194.2 90.8,193.9 91.5,193.5 92.2,193.0 92.9,192.4 93.6,191.8 94.1,191.2 94.7,190.4 95.2,189.6 95.7,188.8 96.2,188.0 96.6,187.2 97.0,186.3 97.3,185.4 97.7,184.5 98.0,183.6 98.4,182.6 98.8,181.7 99.2,180.8 99.5,180.0 99.7,179.0 99.9,178.1 100.2,177.1 100.4,176.1 100.6,175.2 100.8,174.2 101.0,173.2 101.3,172.2 101.5,171.2 101.7,170.3 101.9,169.3 102.1,168.3 102.4,167.3 102.6,166.3 102.8,165.4 103.0,164.4 103.2,163.4 103.4,162.4 103.7,161.4 103.9,160.5 104.1,159.5 104.3,158.5 104.5,157.5 104.7,156.5 104.9,155.6 105.1,154.6 105.3,153.6 105.5,152.6 105.7,151.6 105.9,150.7 106.1,149.7 106.3,148.7 106.4,147.8 106.6,146.8 106.7,145.8 109.7,146.2 109.5,147.2 109.4,148.2 109.2,149.2 109.1,150.2 108.9,151.2 108.7,152.2 108.5,153.2 108.3,154.2 108.1,155.2 107.9,156.2 107.6,157.2 107.4,158.2 107.2,159.1 107.0,160.1 106.8,161.1 106.6,162.1 106.4,163.1 106.2,164.0 105.9,165.0 105.7,166.0 105.5,167.0 105.3,168.0 105.1,169.0 104.9,169.9 104.6,170.9 104.4,171.9 104.2,172.9 104.0,173.9 103.8,174.8 103.5,175.8 103.3,176.8 103.1,177.8 102.9,178.8 102.6,179.8 102.3,180.8 102.0,181.8 101.6,182.9 101.2,183.8 100.8,184.7 100.5,185.6 100.1,186.5 99.7,187.5 99.3,188.5 98.8,189.4 98.3,190.4 97.7,191.3 97.1,192.2 96.5,193.0 95.7,193.9 94.9,194.7 94.0,195.4 93.1,196.0 92.1,196.6 91.0,197.0 89.7,197.3 88.5,197.4 87.4,197.3 86.3,197.2 85.3,197.1 84.2,196.9 83.2,196.7 82.3,196.5 81.3,196.3 80.3,196.1 79.5,195.9 78.8,195.9 78.1,196.1 77.4,196.4 76.6,196.8 75.9,197.3 75.2,197.9 74.5,198.5 73.8,199.1 73.2,199.8 72.5,200.6 71.9,201.3 71.2,202.1 70.6,202.8 69.9,203.6 69.1,204.5 68.2,205.2 67.3,205.8 66.1,206.4 64.8,206.7 63.6,206.7 62.4,206.6 61.1,206.2 59.9,205.2 59.2,204.1 58.7,203.1 58.4,202.0 58.1,201.0 57.8,200.1 57.5,199.1 57.3,198.1 57.1,197.1 56.8,196.1 56.6,195.1 56.4,194.1 56.2,193.1 56.0,192.1 55.9,191.1 55.7,190.1 55.6,189.0 55.5,188.0 55.4,187.0 55.2,186.0 55.1,185.0 55.0,184.0 54.9,183.0 54.8,182.0 54.7,181.0 54.6,180.0 54.5,179.0 54.4,178.0 54.3,177.0 54.2,176.0 54.1,175.0 54.0,174.1 53.9,173.1 53.7,172.1 53.6,171.1 53.5,170.1 53.3,169.1 53.2,168.1 53.1,167.1 52.9,166.1 52.8,165.1 52.7,164.1 52.5,163.1 52.4,162.1 52.3,161.1 52.1,160.1 52.0,159.2 51.8,158.2 51.7,157.2 51.6,156.2 51.4,155.2 51.3,154.2 51.2,153.2 51.0,152.2 50.9,151.2 50.8,150.1 50.7,149.1 50.6,148.1 50.6,147.1 50.5,146.1Z" fill="#720c12" fill-opacity="0.30"/>
<path d="M51.8,146.0 51.9,147.0 51.9,148.0 52.0,149.0 52.1,150.0 52.2,151.0 52.3,152.0 52.5,153.0 52.6,154.0 52.7,155.0 52.9,156.0 53.0,157.0 53.1,158.0 53.3,159.0 53.4,160.0 53.6,161.0 53.7,162.0 53.8,163.0 54.0,164.0 54.1,165.0 54.3,166.0 54.4,167.0 54.5,168.0 54.7,169.0 54.8,170.0 54.9,171.0 55.1,172.0 55.2,173.0 55.3,173.9 55.4,174.9 55.5,175.9 55.7,176.9 55.8,177.9 55.9,178.9 56.0,180.0 56.1,181.0 56.2,182.0 56.3,183.0 56.4,184.0 56.5,185.0 56.6,186.0 56.7,187.0 56.8,188.0 57.0,189.0 57.1,190.0 57.2,190.9 57.4,191.9 57.6,192.9 57.8,193.9 58.0,194.9 58.2,195.9 58.4,196.9 58.6,197.8 58.9,198.8 59.2,199.8 59.4,200.8 59.7,201.7 60.1,202.7 60.5,203.6 61.0,204.4 61.8,205.0 62.8,205.2 63.8,205.3 64.8,205.3 65.7,205.0 66.6,204.5 67.4,203.9 68.2,203.3 68.9,202.6 69.5,201.8 70.2,201.0 70.8,200.2 71.5,199.5 72.2,198.7 72.8,198.0 73.6,197.3 74.3,196.6 75.2,196.1 76.0,195.5 76.9,195.1 77.9,194.9 78.9,195.0 79.8,195.4 80.7,195.9 81.6,196.4 82.5,196.8 83.5,197.1 84.4,197.4 85.4,197.8 86.3,198.1 87.3,198.5 88.2,198.9 89.1,199.2 90.1,199.3 91.1,199.1 92.1,198.8 92.9,198.3 93.8,197.7 94.5,197.0 95.1,196.2 95.7,195.4 96.3,194.6 96.8,193.7 97.2,192.8 97.7,191.9 98.1,191.0 98.5,190.1 98.9,189.1 99.3,188.2 99.6,187.3 100.0,186.3 100.3,185.4 100.7,184.4 101.0,183.5 101.3,182.5 101.5,181.5 101.8,180.6 102.0,179.6 102.2,178.6 102.4,177.6 102.6,176.6 102.8,175.6 103.0,174.6 103.2,173.7 103.4,172.7 103.6,171.7 103.8,170.7 104.0,169.7 104.2,168.7 104.4,167.7 104.5,166.7 104.7,165.8 104.9,164.8 105.1,163.8 105.3,162.8 105.5,161.8 105.7,160.8 105.9,159.8 106.1,158.9 106.3,157.9 106.6,156.9 106.8,155.9 107.0,154.9 107.2,153.9 107.4,153.0 107.6,152.0 107.8,151.0 108.0,150.0 108.1,149.0 108.3,148.0 108.4,147.0 108.5,146.0" fill="none" stroke="#1d1a86" stroke-width="1.90" stroke-linejoin="round" stroke-linecap="round"/>
<path d="M51.8,146.0 51.9,147.0 51.9,148.0 52.0,149.0 52.1,150.0 52.2,151.0 52.3,152.0 52.5,153.0 52.6,154.0 52.7,155.0 52.9,156.0 53.0,157.0 53.1,158.0 53.3,159.0 53.4,160.0 53.6,160.9 53.7,161.9 53.8,162.9 54.0,163.9 54.1,164.9 54.3,165.9 54.4,166.9 54.5,167.9 54.7,168.9 54.8,169.9 54.9,170.9 55.1,171.9 55.2,172.9 55.3,173.9 55.4,174.9 55.5,175.9 55.7,176.9 55.8,177.9 55.9,178.9 56.0,179.9 56.1,180.9 56.2,181.9 56.3,182.9 56.4,183.9 56.5,184.9 56.6,185.8 56.7,186.8 56.8,187.8 56.9,188.8 57.1,189.8 57.2,190.8 57.4,191.8 57.6,192.8 57.7,193.8 57.9,194.8 58.1,195.8 58.4,196.7 58.6,197.7 58.9,198.7 59.1,199.7 59.4,200.6 59.7,201.6 60.0,202.5 60.4,203.4 60.9,204.3 61.6,205.0 62.6,205.2 63.6,205.3 64.6,205.3 65.6,205.1 66.5,204.6 67.3,204.0 68.1,203.4 68.8,202.7 69.4,201.9 70.1,201.1 70.7,200.4 71.4,199.6 72.0,198.8 72.7,198.1 73.4,197.4 74.2,196.8 75.0,196.2 75.9,195.7 76.8,195.4 77.8,195.2 78.8,195.3 79.7,195.8 80.5,196.3 81.4,196.9 82.3,197.4 83.2,197.8 84.1,198.1 85.1,198.5 86.0,198.9 86.9,199.3 87.8,199.8 88.7,200.2 89.6,200.5 90.6,200.5 91.6,200.3 92.5,199.8 93.3,199.3 94.1,198.6 94.8,197.9 95.4,197.1 95.9,196.3 96.5,195.4 96.9,194.5 97.4,193.7 97.9,192.8 98.3,191.9 98.8,191.0 99.2,190.0 99.6,189.1 100.0,188.2 100.3,187.3 100.7,186.3 101.0,185.4 101.3,184.4 101.5,183.4 101.8,182.5 102.0,181.5 102.2,180.5 102.4,179.5 102.6,178.5 102.8,177.5 103.0,176.6 103.2,175.6 103.4,174.6 103.6,173.6 103.8,172.6 104.0,171.6 104.2,170.7 104.4,169.7 104.6,168.7 104.7,167.7 104.9,166.7 105.1,165.7 105.3,164.7 105.5,163.8 105.7,162.8 105.9,161.8 106.0,160.8 106.2,159.8 106.4,158.8 106.6,157.8 106.8,156.9 107.0,155.9 107.2,154.9 107.4,153.9 107.6,152.9 107.8,151.9 108.0,151.0 108.2,150.0 108.3,149.0 108.5,148.0 108.6,147.0 108.8,146.0" fill="none" stroke="#f2ac2c" stroke-width="1.90" stroke-linejoin="round" stroke-linecap="round"/>
<path d="M51.8,146.0 51.9,147.0 51.9,148.0 52.0,149.0 52.1,150.0 52.2,151.0 52.3,152.0 52.5,153.0 52.6,154.0 52.7,155.0 52.9,156.0 53.0,157.0 53.1,158.0 53.3,159.0 53.4,160.0 53.6,161.0 53.7,162.0 53.8,162.9 54.0,163.9 54.1,164.9 54.3,165.9 54.4,166.9 54.5,167.9 54.7,168.9 54.8,169.9 54.9,170.9 55.1,171.9 55.2,172.9 55.3,173.9 55.4,174.9 55.5,175.9 55.7,176.9 55.8,177.9 55.9,178.9 56.0,179.9 56.1,180.9 56.2,181.9 56.3,182.9 56.4,183.9 56.5,184.9 56.6,185.9 56.7,186.9 56.8,187.9 56.9,188.9 57.1,189.9 57.2,190.9 57.4,191.9 57.6,192.8 57.7,193.8 57.9,194.8 58.2,195.8 58.4,196.8 58.6,197.7 58.9,198.7 59.1,199.7 59.4,200.7 59.7,201.6 60.0,202.6 60.4,203.5 60.9,204.3 61.7,205.0 62.7,205.2 63.7,205.3 64.7,205.3 65.6,205.0 66.5,204.6 67.3,204.0 68.1,203.4 68.8,202.7 69.4,201.9 70.1,201.1 70.8,200.3 71.4,199.6 72.1,198.8 72.8,198.1 73.5,197.4 74.2,196.7 75.0,196.1 75.8,195.5 76.7,195.0 77.6,194.6 78.6,194.4 79.6,194.4 80.6,194.6 81.6,194.8 82.6,195.0 83.6,195.2 84.5,195.4 85.5,195.6 86.5,195.7 87.5,195.9 88.5,195.9 89.5,195.8 90.5,195.6 91.4,195.2 92.3,194.7 93.1,194.2 93.9,193.5 94.6,192.9 95.3,192.1 95.9,191.3 96.5,190.5 97.0,189.6 97.5,188.7 97.9,187.8 98.3,186.9 98.7,186.0 99.1,185.1 99.4,184.1 99.8,183.2 100.2,182.3 100.6,181.3 100.9,180.4 101.2,179.4 101.4,178.4 101.6,177.5 101.8,176.5 102.1,175.5 102.3,174.5 102.5,173.5 102.7,172.6 102.9,171.6 103.2,170.6 103.4,169.6 103.6,168.6 103.8,167.7 104.0,166.7 104.3,165.7 104.5,164.7 104.7,163.7 104.9,162.7 105.1,161.8 105.3,160.8 105.5,159.8 105.8,158.8 106.0,157.8 106.2,156.9 106.4,155.9 106.6,154.9 106.8,153.9 107.0,152.9 107.2,151.9 107.4,151.0 107.6,150.0 107.8,149.0 107.9,148.0 108.0,147.0 108.2,146.0" fill="none" stroke="#720c12" stroke-width="1.90" stroke-linejoin="round" stroke-linecap="round"/>
</g>
<rect x="49.20" y="152.20" width="73.60" height="53.90" fill="none" stroke="#a4a4a4" stroke-width="0.9"/>
<g stroke="#9a9a9a" stroke-width="0.8">
<line x1="47.80" y1="192.62" x2="49.20" y2="192.62"/>
<line x1="47.80" y1="179.15" x2="49.20" y2="179.15"/>
<line x1="47.80" y1="165.67" x2="49.20" y2="165.67"/>
<line x1="49.20" y1="206.10" x2="49.20" y2="207.50"/>
<line x1="77.51" y1="206.10" x2="77.51" y2="207.50"/>
<line x1="105.82" y1="206.10" x2="105.82" y2="207.50"/>
</g>
<text x="49.20" y="214.00" font-size="7.25" text-anchor="middle">0.30</text>
<text x="77.51" y="214.00" font-size="7.25" text-anchor="middle">0.35</text>
<text x="105.82" y="214.00" font-size="7.25" text-anchor="middle">0.40</text>
<clipPath id="c2"><rect x="25.00" y="240.40" width="489.70" height="89.55"/></clipPath>
<g stroke="#c4c4c4" stroke-width="0.8" fill="none">
<rect x="143.20" y="315.62" width="21.95" height="14.33"/>
<line x1="122.80" y1="265.00" x2="165.16" y2="315.62"/>
<line x1="49.20" y1="318.90" x2="143.20" y2="329.95"/>
</g>
<g clip-path="url(#c2)">
<path d="M140.2,233.9 140.3,234.9 140.4,235.9 140.5,236.9 140.6,237.9 140.7,238.9 140.8,239.9 140.8,240.9 140.8,241.9 140.9,242.9 140.9,243.9 141.0,244.9 141.0,245.9 141.0,246.9 141.1,247.9 141.1,248.9 141.2,249.9 141.2,250.9 141.2,251.9 141.3,252.9 141.3,253.9 141.3,254.9 141.4,255.9 141.4,256.9 141.4,257.9 141.5,258.9 141.5,259.9 141.5,260.9 141.6,261.9 141.6,262.9 141.6,263.9 141.7,264.9 141.7,265.9 141.7,266.9 141.8,267.9 141.8,268.9 141.8,269.9 141.9,270.9 141.9,271.9 141.9,272.9 142.0,273.9 142.0,274.9 142.1,275.9 142.1,276.9 142.2,277.9 142.2,278.9 142.3,279.9 142.3,280.9 142.4,281.9 142.5,282.9 142.5,283.9 142.6,284.9 142.7,285.9 142.8,286.9 142.8,287.9 142.9,288.9 143.0,289.8 143.1,290.8 143.2,291.8 143.2,292.8 143.3,293.8 143.4,294.8 143.5,295.8 143.6,296.8 143.7,297.8 143.7,298.8 143.8,299.8 143.9,300.8 144.0,301.8 144.1,302.8 144.2,303.8 144.3,304.8 144.3,305.8 144.4,306.8 144.5,307.8 144.6,308.8 144.7,309.8 144.8,310.8 144.9,311.8 145.0,312.8 145.1,313.7 145.2,314.7 145.3,315.7 145.4,316.7 145.5,317.7 145.6,318.7 145.7,319.7 145.8,320.7 145.9,321.7 146.1,322.6 146.2,323.6 146.4,324.5 146.6,325.5 146.9,326.4 147.1,327.0 147.2,327.2 147.5,327.0 148.2,326.5 148.9,325.9 149.7,325.3 150.6,324.6 151.7,324.1 152.9,323.8 154.0,323.9 154.9,323.9 155.5,323.8 156.1,323.3 156.6,322.7 157.1,322.0 157.4,321.2 157.6,320.3 157.9,319.4 158.1,318.4 158.2,317.5 158.4,316.5 158.6,315.5 158.8,314.5 159.0,313.5 159.2,312.5 159.4,311.5 159.6,310.5 159.8,309.6 160.0,308.6 160.2,307.6 160.4,306.6 160.6,305.6 160.9,304.6 161.2,303.5 161.7,302.2 162.9,300.6 165.1,299.8 166.9,300.2 168.2,300.8 169.1,301.4 170.0,302.0 170.9,302.5 171.7,303.1 172.5,303.6 173.2,304.0 173.9,304.4 174.7,304.7 175.6,304.9 176.5,305.2 177.4,305.5 178.3,305.7 179.2,305.9 180.1,306.1 180.9,306.2 181.8,306.3 182.7,306.3 183.5,306.3 184.3,306.2 185.2,306.1 186.2,305.9 187.1,305.7 188.0,305.5 189.0,305.3 189.9,305.1 190.9,304.8 191.9,304.6 192.9,304.3 193.9,304.1 194.8,303.9 195.8,303.7 196.8,303.4 198.0,303.2 199.0,303.1 200.1,303.0 201.1,302.9 202.1,302.8 203.1,302.7 204.1,302.6 205.1,302.5 206.1,302.4 207.1,302.4 208.1,302.3 209.1,302.2 210.1,302.1 211.1,302.0 212.1,301.9 213.1,301.8 214.1,301.7 215.0,301.6 216.0,301.5 217.0,301.4 218.0,301.3 219.0,301.2 219.9,301.0 220.9,300.9 221.9,300.8 222.9,300.6 223.9,300.5 224.9,300.4 225.8,300.2 226.8,300.1 227.8,299.9 228.8,299.8 229.8,299.6 230.8,299.5 231.7,299.3 232.7,299.2 233.7,299.0 234.7,298.9 235.6,298.7 236.6,298.5 237.6,298.3 238.6,298.2 239.6,298.0 240.6,297.8 241.5,297.6 242.5,297.4 243.5,297.2 244.5,297.0 245.5,296.9 246.5,296.7 247.5,296.5 248.5,296.3 249.5,296.1 250.5,296.0 251.5,295.8 252.5,295.6 253.5,295.5 254.5,295.3 255.5,295.1 256.5,295.0 257.5,294.8 258.5,294.6 259.6,294.6 260.6,294.4 261.6,294.3 262.6,294.2 263.7,294.1 264.7,294.0 265.7,293.8 266.7,293.8 267.7,293.7 268.7,293.6 269.7,293.5 270.7,293.4 271.7,293.3 272.7,293.2 273.7,293.2 274.7,293.2 275.7,293.0 276.7,292.9 277.7,292.8 278.7,292.8 279.7,292.7 280.7,292.7 281.7,292.5 282.6,292.3 283.6,292.3 284.6,292.2 285.6,292.2 286.6,292.1 287.6,291.9 288.6,291.9 289.6,291.9 290.6,291.9 291.6,291.8 292.6,291.7 293.6,291.7 294.6,291.7 295.6,291.5 296.6,291.5 297.6,291.6 298.6,291.5 299.6,291.2 300.6,291.1 301.6,291.1 302.6,291.1 303.6,290.9 304.6,290.8 305.6,290.9 306.6,290.6 307.6,290.7 308.6,290.5 309.6,290.7 310.6,290.4 311.6,290.3 312.6,290.1 313.6,290.3 314.6,289.9 315.6,290.1 316.6,290.2 317.6,290.2 318.6,289.7 319.6,289.8 320.6,289.8 321.6,289.6 322.6,289.6 323.6,289.8 324.6,289.5 325.6,289.5 326.6,289.8 327.6,289.2 328.6,289.4 329.6,289.2 330.6,289.4 331.6,289.1 332.5,288.7 333.6,288.9 334.6,289.0 335.6,289.1 336.6,289.1 337.5,289.0 338.5,288.5 339.5,288.8 340.5,288.3 341.5,288.5 342.5,288.2 343.5,288.4 344.5,287.9 345.5,288.2 346.5,288.1 347.5,287.7 348.5,287.6 349.5,287.8 350.5,287.5 351.5,287.8 352.5,287.6 353.5,287.9 354.5,287.5 355.5,287.4 356.5,287.6 357.4,287.2 358.4,286.9 359.5,287.5 360.4,287.2 361.4,287.3 362.4,286.9 363.4,287.1 364.4,286.8 365.4,286.9 366.3,286.5 367.3,286.6 368.3,286.7 369.3,286.9 370.2,286.2 371.2,286.2 372.2,286.5 373.2,286.2 374.1,285.9 375.1,285.8 376.1,285.9 377.1,286.1 378.0,285.5 379.0,285.4 380.0,285.7 381.0,285.9 381.9,285.0 382.9,284.7 384.0,285.5 384.9,284.7 386.0,285.1 386.9,284.7 387.9,284.5 388.9,284.3 389.9,284.3 390.9,284.3 391.9,284.2 392.9,283.8 393.9,283.9 394.8,283.2 395.9,283.6 396.9,283.6 397.9,283.2 398.8,283.0 399.8,282.8 400.8,282.8 401.9,283.2 402.8,282.7 403.7,282.0 404.9,283.0 405.7,282.1 406.7,281.7 407.7,282.0 408.6,281.3 409.7,281.9 410.7,282.0 411.6,281.4 412.7,281.5 413.6,281.3 414.7,281.4 415.6,280.6 416.6,280.9 417.5,280.5 418.6,280.8 419.6,280.7 420.4,279.7 421.5,280.0 422.5,279.9 423.4,279.7 424.5,280.0 425.5,280.1 426.4,279.2 427.4,279.2 428.3,279.1 429.3,278.7 430.2,278.5 431.1,278.4 432.1,278.6 432.9,278.1 433.7,278.2 434.5,278.0 435.4,277.3 436.5,276.8 437.8,277.7 438.6,276.4 439.8,276.9 440.8,277.0 441.7,276.3 442.7,276.3 443.7,275.9 444.7,276.0 445.7,275.6 446.6,275.4 447.7,275.5 448.5,274.6 449.6,274.9 450.3,273.8 451.4,274.0 452.4,274.0 453.3,273.4 454.6,275.2 455.3,273.6 456.3,273.8 457.1,273.1 458.4,274.1 459.1,272.9 460.1,272.8 461.0,272.2 461.9,271.9 463.0,272.2 464.0,272.1 465.0,272.3 465.7,270.9 466.6,270.4 467.6,270.4 468.6,270.6 469.5,270.2 470.4,269.9 471.4,269.8 472.4,269.7 473.3,269.5 474.1,268.9 475.0,268.6 475.7,267.5 476.8,268.0 477.7,267.6 478.5,266.9 479.9,267.9 480.6,267.2 481.6,267.1 482.4,266.5 483.3,266.1 484.1,265.4 484.9,264.6 486.1,265.1 487.1,265.1 487.7,264.0 489.0,264.6 489.8,264.0 490.8,264.0 491.4,262.8 492.3,262.5 492.9,261.4 493.7,261.2 494.9,261.7 495.8,261.6 496.2,260.6 496.9,260.3 497.6,259.9 498.6,259.9 499.4,259.4 499.7,257.8 501.3,258.4 501.9,257.7 502.9,257.4 503.5,256.5 504.5,256.4 505.5,256.2 506.2,255.5 506.8,254.5 507.7,254.2 508.4,253.6 509.5,253.5 509.7,252.2 510.8,252.2 511.7,252.0 512.2,251.3 512.9,250.8 513.5,250.0 514.2,249.3 514.9,248.5 523.8,260.0 523.4,260.9 522.8,261.7 521.7,262.1 521.1,263.0 519.7,263.1 519.2,264.4 518.1,264.8 517.0,265.0 516.4,266.0 515.4,266.3 514.4,266.7 513.7,267.6 512.4,267.4 511.7,268.3 511.2,269.4 509.8,269.1 509.0,269.7 507.8,269.7 507.2,270.7 506.7,271.7 505.7,272.0 504.5,272.2 503.4,272.5 502.5,273.4 501.7,274.3 500.9,275.3 499.7,275.3 498.9,276.3 497.5,275.7 496.7,276.4 495.5,276.3 494.7,277.0 493.7,277.2 492.9,278.0 491.6,277.5 490.5,277.6 489.8,278.7 488.8,278.9 487.8,279.2 487.0,279.8 486.0,280.0 484.9,280.1 484.0,280.5 483.3,281.7 482.0,281.1 480.9,281.1 479.6,280.4 479.3,282.8 478.0,282.1 477.0,282.5 476.0,282.9 475.1,283.5 473.9,283.0 473.1,283.8 472.0,283.9 471.0,283.8 470.1,284.4 468.9,284.1 468.2,285.2 467.1,285.2 466.2,285.8 465.1,285.4 464.0,285.4 463.1,285.7 462.2,286.4 461.2,286.6 460.2,286.9 459.2,287.2 458.2,287.3 457.0,286.6 456.1,287.2 455.0,287.1 454.1,287.6 453.2,288.2 452.1,287.8 451.2,288.8 450.1,288.3 449.1,288.6 448.2,289.2 447.3,289.5 446.1,288.9 445.2,289.5 444.2,289.4 443.3,289.7 442.4,290.6 441.3,289.7 440.5,290.5 439.5,290.6 438.7,291.0 437.7,291.1 436.6,291.3 435.5,291.8 434.4,291.6 433.3,291.8 432.3,292.0 431.2,291.6 430.4,292.9 429.3,292.9 428.3,292.9 427.3,293.1 426.3,293.3 425.2,292.8 424.2,293.0 423.2,293.1 422.2,293.1 421.2,293.2 420.3,293.6 419.3,293.8 418.2,293.4 417.3,294.3 416.2,293.8 415.3,294.4 414.3,294.4 413.3,294.3 412.2,294.3 411.2,294.1 410.3,294.8 409.2,294.6 408.3,295.2 407.3,295.0 406.3,295.2 405.2,294.8 404.3,295.5 403.3,295.7 402.3,295.5 401.2,295.4 400.3,295.8 399.3,296.3 398.3,295.9 397.3,296.0 396.3,296.0 395.3,296.3 394.3,296.6 393.3,296.4 392.3,296.6 391.3,296.6 390.3,296.6 389.3,296.3 388.3,296.9 387.4,297.3 386.4,297.2 385.4,297.3 384.4,297.5 383.4,297.5 382.3,297.5 381.3,297.6 380.3,297.7 379.3,297.8 378.3,298.1 377.3,298.2 376.4,298.7 375.3,298.4 374.3,298.5 373.3,298.7 372.2,298.3 371.2,298.5 370.3,299.5 369.2,298.8 368.2,298.5 367.2,299.0 366.2,299.1 365.2,299.6 364.2,299.4 363.2,299.2 362.2,299.6 361.1,299.2 360.2,299.7 359.1,299.5 358.2,299.8 357.1,299.9 356.1,299.8 355.1,300.1 354.1,299.7 353.1,299.5 352.1,300.0 351.1,299.7 350.1,300.2 349.1,300.1 348.1,300.4 347.1,300.3 346.1,300.5 345.1,300.1 344.1,300.2 343.1,300.4 342.1,300.4 341.1,300.4 340.1,300.5 339.1,300.1 338.1,300.6 337.1,300.7 336.1,300.3 335.1,300.7 334.1,300.7 333.1,300.6 332.1,301.0 331.1,300.9 330.1,301.1 329.1,301.2 328.1,301.2 327.1,301.0 326.1,300.9 325.1,301.1 324.1,301.1 323.1,301.0 322.1,301.3 321.1,301.3 320.1,301.2 319.1,301.3 318.1,301.4 317.1,301.3 316.1,301.2 315.1,301.5 314.1,301.5 313.1,301.4 312.1,301.9 311.1,301.8 310.1,301.6 309.1,301.8 308.1,301.9 307.1,302.0 306.1,302.1 305.1,301.9 304.1,302.1 303.1,302.2 302.1,302.2 301.1,302.1 300.2,302.4 299.2,302.4 298.1,302.3 297.1,302.3 296.2,302.4 295.2,302.6 294.2,302.6 293.2,302.5 292.2,302.6 291.2,302.7 290.2,302.5 289.2,302.7 288.2,302.8 287.2,302.8 286.2,302.8 285.2,302.9 284.2,303.0 283.2,302.9 282.2,303.0 281.2,303.2 280.2,303.2 279.1,303.1 278.1,303.1 277.1,303.2 276.1,303.1 275.1,303.1 274.1,303.2 273.1,303.0 272.1,303.0 271.1,303.0 270.1,303.2 269.1,303.1 268.1,303.2 267.1,303.0 266.1,303.1 265.2,303.1 264.2,303.1 263.2,303.2 262.2,303.1 261.3,303.2 260.3,303.3 259.3,303.3 258.3,303.3 257.4,303.4 256.4,303.5 255.4,303.5 254.4,303.6 253.5,303.7 252.5,303.8 251.5,303.9 250.5,304.0 249.5,304.0 248.5,304.1 247.5,304.2 246.5,304.3 245.5,304.4 244.5,304.5 243.6,304.6 242.6,304.7 241.6,304.8 240.6,304.9 239.6,305.0 238.6,305.2 237.6,305.3 236.6,305.4 235.6,305.5 234.6,305.7 233.6,305.8 232.6,305.9 231.6,306.0 230.6,306.1 229.6,306.2 228.6,306.3 227.6,306.4 226.6,306.5 225.6,306.6 224.6,306.7 223.6,306.8 222.6,306.9 221.6,306.9 220.6,307.0 219.6,307.1 218.6,307.2 217.5,307.2 216.5,307.3 215.5,307.4 214.5,307.4 213.5,307.5 212.5,307.5 211.5,307.6 210.5,307.6 209.4,307.6 208.4,307.7 207.4,307.7 206.4,307.7 205.4,307.8 204.4,307.8 203.5,307.8 202.5,307.9 201.5,307.9 200.5,308.0 199.6,308.1 198.7,308.2 197.8,308.3 197.0,308.5 195.9,308.7 194.9,308.9 194.0,309.1 193.0,309.4 192.1,309.6 191.1,309.8 190.1,310.1 189.1,310.3 188.1,310.5 187.1,310.7 186.0,310.9 184.9,311.0 183.8,311.1 182.6,311.1 181.5,311.1 180.4,311.0 179.3,310.8 178.2,310.6 177.2,310.4 176.1,310.1 175.1,309.8 174.1,309.5 173.1,309.2 172.0,308.8 171.0,308.2 170.0,307.6 169.1,307.0 168.3,306.5 167.5,306.0 166.6,305.5 165.9,305.0 165.3,304.7 165.1,304.5 165.2,304.3 165.2,304.4 164.9,304.9 164.5,305.7 164.2,306.6 163.9,307.6 163.6,308.5 163.3,309.5 163.0,310.4 162.7,311.4 162.4,312.3 162.1,313.3 161.8,314.2 161.6,315.2 161.3,316.1 161.0,317.1 160.8,318.1 160.5,319.1 160.2,320.0 159.8,321.0 159.4,322.0 158.8,323.0 158.2,323.9 157.4,324.8 156.4,325.6 155.1,325.9 153.9,325.9 153.0,325.8 152.3,325.9 151.6,326.3 150.9,326.8 150.2,327.5 149.3,328.1 148.4,328.7 146.9,329.2 145.5,328.2 145.0,327.0 144.7,326.0 144.5,325.0 144.3,323.9 144.1,322.9 144.0,321.9 143.8,320.9 143.7,319.9 143.6,318.9 143.5,317.9 143.4,316.9 143.3,315.9 143.2,314.9 143.1,313.9 143.0,312.9 142.9,311.9 142.8,310.9 142.7,309.9 142.7,308.9 142.6,308.0 142.5,307.0 142.4,306.0 142.3,305.0 142.2,304.0 142.1,303.0 142.0,302.0 142.0,301.0 141.9,300.0 141.8,299.0 141.7,298.0 141.6,297.0 141.5,296.0 141.4,295.0 141.4,294.0 141.3,293.0 141.2,292.0 141.1,291.0 141.0,290.0 141.0,289.0 140.9,288.0 140.8,287.0 140.7,286.0 140.7,285.0 140.6,284.0 140.5,283.0 140.4,282.0 140.4,281.0 140.3,280.0 140.3,279.0 140.2,278.0 140.2,277.0 140.1,276.0 140.1,275.0 140.0,274.0 140.0,273.0 140.0,272.0 139.9,271.0 139.9,270.0 139.9,269.0 139.8,268.0 139.8,267.0 139.8,266.0 139.7,265.0 139.7,264.0 139.7,263.0 139.6,262.0 139.6,261.0 139.5,260.0 139.5,259.0 139.5,258.0 139.4,257.0 139.4,256.0 139.4,255.0 139.3,254.0 139.3,253.0 139.3,252.0 139.2,251.0 139.2,250.0 139.2,249.0 139.1,248.0 139.1,247.0 139.1,246.0 139.0,245.0 139.0,244.0 138.9,243.0 138.9,242.0 138.9,241.0 138.8,240.0 138.7,239.0 138.7,238.0 138.6,237.1 138.5,236.1 138.3,235.1 138.2,234.1Z" fill="#1d1a86" fill-opacity="0.33"/>
<path d="M140.5,233.8 140.7,234.8 140.9,235.8 140.9,236.8 141.0,237.9 141.2,238.9 141.2,239.9 141.2,240.9 141.2,241.9 141.4,242.9 141.3,243.9 141.3,244.9 141.4,245.9 141.6,246.9 141.5,247.9 141.6,248.9 141.5,249.9 141.6,250.9 141.6,251.9 141.7,252.9 141.8,253.9 141.7,254.9 141.7,255.9 141.8,256.9 141.8,257.9 141.9,258.9 141.9,259.9 142.0,260.9 142.0,261.9 142.1,262.9 142.0,263.9 142.0,264.9 142.1,265.9 142.2,266.9 142.2,267.9 142.2,268.9 142.2,269.9 142.2,270.9 142.3,271.9 142.3,272.9 142.4,273.9 142.5,274.9 142.6,275.9 142.5,276.9 142.6,277.9 142.7,278.9 142.7,279.9 142.7,280.9 142.8,281.9 142.8,282.9 143.0,283.8 143.0,284.8 143.0,285.8 143.2,286.8 143.3,287.8 143.3,288.8 143.5,289.8 143.4,290.8 143.6,291.8 143.6,292.8 143.7,293.8 143.8,294.8 143.9,295.8 143.9,296.8 144.1,297.8 144.1,298.8 144.2,299.8 144.4,300.8 144.4,301.8 144.4,302.8 144.5,303.8 144.8,304.7 144.8,305.7 144.8,306.8 144.9,307.7 145.1,308.7 145.2,309.7 145.2,310.7 145.3,311.7 145.4,312.7 145.4,313.7 145.5,314.7 145.6,315.7 145.8,316.7 145.9,317.7 145.9,318.7 146.2,319.6 146.3,320.6 146.3,321.6 146.4,322.6 146.7,323.5 146.9,324.4 147.1,325.4 147.3,326.2 147.5,326.8 147.5,327.0 147.6,326.9 148.2,326.6 149.0,326.0 150.2,325.3 151.9,325.4 153.0,325.8 154.1,326.1 154.8,326.7 155.3,326.8 155.8,326.6 156.4,326.4 156.9,326.0 157.3,325.4 157.6,324.8 157.9,323.9 158.2,323.0 158.4,322.1 158.6,321.1 158.7,320.1 158.9,319.2 159.2,318.2 159.4,317.2 159.6,316.2 160.0,315.2 160.2,314.3 160.3,313.3 160.6,312.3 160.8,311.3 161.2,310.3 161.5,309.3 161.9,308.4 162.2,307.3 162.7,306.3 163.4,305.3 164.3,304.3 165.9,303.6 167.5,303.8 168.6,304.4 169.4,304.9 170.3,305.3 171.2,305.9 172.1,306.2 172.9,306.6 173.7,306.9 174.6,307.2 175.5,307.4 176.4,307.6 177.4,307.7 178.4,307.9 179.3,308.0 180.3,308.1 181.2,308.2 182.2,308.3 183.1,308.3 184.1,308.3 185.1,308.3 186.0,308.1 187.0,308.2 188.0,308.1 189.0,308.1 190.0,308.0 191.0,307.8 191.9,307.6 192.9,307.7 193.9,307.5 194.9,307.4 195.8,307.3 196.8,307.1 197.7,306.8 198.8,306.8 199.9,306.5 201.0,306.6 202.1,306.6 203.1,306.7 204.1,306.7 205.1,306.8 206.0,306.8 207.0,306.8 207.9,306.8 208.9,306.6 209.8,306.5 210.7,306.2 211.7,306.2 212.7,305.9 213.7,305.8 214.7,305.7 215.7,305.6 216.6,305.4 217.6,305.2 218.5,304.9 219.5,304.7 220.5,304.6 221.4,304.2 222.4,304.0 223.4,303.9 224.4,303.7 225.4,303.4 226.3,303.2 227.3,303.0 228.2,302.6 229.2,302.5 230.2,302.3 231.1,301.9 232.1,301.7 233.0,301.5 233.9,301.0 234.9,300.9 235.9,300.7 236.8,300.2 237.8,300.1 238.7,299.8 239.7,299.5 240.6,299.2 241.6,298.8 242.5,298.6 243.4,298.1 244.4,297.8 245.4,297.7 246.4,297.4 247.3,297.1 248.3,296.9 249.3,296.5 250.2,296.1 251.2,295.9 252.2,295.7 253.2,295.5 254.1,295.2 255.0,294.8 256.0,294.5 256.9,294.1 258.0,294.0 259.0,293.9 260.0,293.4 261.0,293.1 262.0,293.2 263.0,293.0 264.0,292.8 265.0,292.7 266.0,292.4 267.0,292.3 268.0,292.2 269.0,292.0 270.0,291.8 271.0,291.8 272.0,291.6 273.0,291.4 274.0,291.3 274.9,290.9 275.9,291.0 276.9,291.0 277.9,290.8 278.9,290.7 279.9,290.6 280.9,290.2 281.9,290.4 282.9,290.0 283.9,289.9 284.9,289.8 285.9,289.8 286.9,289.6 287.9,289.5 288.9,289.5 289.9,289.3 290.9,289.3 291.9,289.2 292.8,288.7 293.9,288.9 294.8,288.7 295.8,288.5 296.8,288.2 297.8,288.4 298.8,288.3 299.8,288.4 300.8,288.2 301.8,287.9 302.8,287.9 303.8,287.5 304.7,287.1 305.8,287.4 306.8,287.1 307.8,287.4 308.8,287.3 309.7,286.7 310.8,287.0 311.8,286.9 312.8,286.9 313.8,286.7 314.7,286.2 315.7,286.3 316.7,286.1 317.8,286.5 318.7,286.1 319.7,285.8 320.7,286.0 321.7,286.0 322.7,285.5 323.7,285.8 324.7,285.2 325.7,285.6 326.7,285.2 327.7,285.0 328.7,284.9 329.7,285.3 330.7,285.0 331.7,285.0 332.7,284.7 333.7,284.7 334.6,284.3 335.6,284.2 336.7,284.6 337.6,284.1 338.6,284.3 339.6,283.9 340.6,283.7 341.6,284.0 342.6,283.8 343.6,283.4 344.6,283.6 345.6,283.4 346.6,283.2 347.6,283.3 348.6,283.2 349.5,282.8 350.6,283.0 351.5,282.4 352.5,282.3 353.6,283.1 354.5,282.4 355.5,282.1 356.5,282.0 357.5,282.1 358.4,281.3 359.4,281.6 360.5,281.8 361.5,281.6 362.5,281.5 363.4,281.1 364.4,281.2 365.4,280.9 366.4,280.8 367.4,280.5 368.4,280.8 369.4,280.6 370.4,280.5 371.4,280.3 372.3,279.9 373.3,280.1 374.3,279.9 375.3,279.9 376.3,279.7 377.3,279.8 378.2,279.2 379.3,279.6 380.3,279.6 381.2,278.9 382.2,278.3 383.3,279.1 384.2,278.6 385.2,278.5 386.2,278.0 387.2,278.1 388.2,278.2 389.1,277.5 390.2,277.8 391.1,277.3 392.1,276.9 393.1,277.1 394.1,277.0 395.1,277.0 396.1,277.0 397.1,276.7 398.1,276.4 399.2,277.2 400.1,276.0 401.1,276.2 402.1,276.3 403.1,276.2 404.1,276.3 405.1,275.6 406.0,275.3 407.0,275.3 408.0,275.1 409.0,275.2 410.0,275.2 411.0,274.8 412.0,274.7 413.0,274.9 414.0,274.4 414.9,274.0 416.0,274.3 416.9,273.8 417.9,273.7 418.9,273.8 420.0,274.0 420.9,273.3 421.8,272.7 422.9,273.3 423.8,272.8 424.8,272.4 425.8,272.7 426.8,272.8 427.8,272.8 428.8,272.3 429.5,270.6 430.6,271.7 431.4,270.6 432.5,271.7 433.3,270.8 434.2,271.2 435.1,271.0 436.1,270.7 436.9,269.8 437.9,269.2 438.8,268.4 440.1,269.2 441.2,269.5 441.6,266.4 442.9,267.8 444.2,269.0 445.1,268.2 446.0,267.8 447.2,268.5 447.8,266.7 449.1,267.7 449.9,266.8 450.7,265.9 451.5,265.3 452.8,266.3 453.8,266.5 454.3,264.5 455.4,264.8 456.6,265.7 457.3,264.6 458.0,263.6 459.2,264.0 460.1,263.5 460.9,262.8 462.0,263.0 462.3,260.7 464.0,262.7 465.2,263.2 465.5,260.9 466.8,261.6 467.3,260.1 468.9,261.7 469.8,261.3 470.5,260.3 471.7,260.8 472.6,260.4 473.1,258.7 474.7,260.3 474.9,257.9 475.4,256.3 477.2,258.4 478.2,257.9 478.9,257.1 480.1,257.5 481.2,257.5 482.1,257.0 483.2,257.3 482.8,253.3 484.4,254.9 485.5,255.1 486.3,254.5 487.2,254.1 486.7,250.4 489.3,254.1 489.6,252.3 491.1,253.2 491.5,251.8 493.1,253.0 493.5,251.7 493.9,250.2 494.9,250.2 494.6,247.8 496.7,249.7 497.2,248.6 498.5,248.9 497.6,245.6 499.9,247.4 500.6,246.5 499.6,242.7 502.5,245.5 503.2,244.8 504.3,244.8 504.7,243.7 506.0,244.1 504.8,240.7 507.0,242.3 507.3,241.1 506.9,239.0 508.4,239.3 508.7,238.0 510.8,239.1 512.1,239.0 513.1,238.7 513.7,237.7 514.7,237.2 514.0,234.2 516.6,236.4 517.0,235.2 517.9,234.7 522.0,241.0 520.5,240.6 519.9,241.5 518.7,241.4 518.0,242.3 517.5,243.2 516.5,243.4 516.0,244.3 515.1,244.8 514.4,245.5 513.6,246.1 512.7,246.6 511.9,247.1 511.5,248.3 510.4,248.6 509.6,249.3 508.2,249.2 507.8,250.7 506.7,250.8 505.8,251.2 505.4,252.4 503.9,251.8 503.5,253.0 502.3,252.9 501.9,254.3 501.1,254.8 499.5,254.2 499.2,255.9 497.6,255.2 497.2,256.6 495.9,256.4 495.2,257.4 494.2,257.6 493.5,258.5 492.5,258.8 491.2,258.5 490.5,259.5 489.5,259.6 488.7,260.5 487.4,259.9 486.5,260.5 485.8,261.4 484.8,261.9 483.7,261.7 482.8,262.2 481.7,262.2 480.9,262.9 479.9,262.9 478.9,263.1 478.2,264.2 477.3,264.4 476.0,263.9 475.4,265.2 474.3,265.1 473.4,265.6 472.4,265.8 471.6,266.5 470.5,266.5 469.7,267.1 468.7,267.3 467.8,267.9 466.7,267.7 465.7,267.9 464.8,268.3 463.8,268.6 462.8,268.9 462.1,269.9 461.1,270.1 459.9,269.7 459.0,270.3 458.1,270.6 457.0,270.5 456.1,271.2 455.0,271.0 454.1,271.8 453.1,271.8 452.0,271.9 451.1,272.3 450.1,272.6 449.1,272.7 448.1,273.0 447.1,272.8 446.2,273.4 445.1,273.2 444.2,273.7 443.4,274.6 442.2,273.7 441.3,274.2 440.4,274.6 439.5,274.7 438.7,275.1 437.8,275.3 436.9,275.8 435.6,275.5 434.7,276.6 433.7,277.2 432.5,276.5 431.7,277.6 430.5,277.0 429.6,277.6 428.5,277.5 427.6,278.0 426.6,278.1 425.5,278.0 424.6,278.7 423.5,278.0 422.5,278.4 421.5,278.4 420.6,278.7 419.6,278.8 418.4,277.9 417.6,279.4 416.5,278.9 415.6,279.5 414.6,279.4 413.6,279.4 412.6,279.4 411.6,279.4 410.6,279.9 409.6,280.0 408.6,280.1 407.6,279.7 406.6,280.0 405.6,280.4 404.6,280.5 403.7,281.0 402.7,280.8 401.6,280.6 400.7,281.0 399.6,280.8 398.7,281.0 397.7,281.6 396.7,281.1 395.7,281.1 394.7,281.7 393.7,281.6 392.7,281.7 391.8,282.0 390.8,282.1 389.8,282.0 388.8,282.1 387.9,282.8 386.8,282.8 385.8,282.7 384.9,283.1 383.9,283.5 382.9,283.5 381.8,283.2 380.9,283.9 379.8,283.2 378.9,283.7 377.9,283.9 377.0,284.4 375.9,284.3 374.9,284.3 373.9,284.3 373.0,284.9 372.0,285.0 370.9,284.5 370.0,285.2 368.9,285.1 367.9,285.1 367.0,285.7 366.0,285.5 365.0,285.9 363.9,285.3 363.0,285.9 361.9,285.6 361.0,285.9 360.0,286.2 359.0,286.6 358.0,286.2 357.0,286.3 355.9,285.9 355.0,286.3 354.0,287.0 353.0,287.2 352.0,286.8 351.0,287.4 350.1,287.6 349.0,287.5 348.0,286.8 347.1,287.9 346.0,287.6 345.0,287.6 344.1,288.0 343.1,288.1 342.0,288.0 341.1,288.2 340.1,288.3 339.1,288.4 338.0,288.4 337.1,288.8 336.0,288.4 335.1,288.8 334.1,288.8 333.1,288.8 332.1,289.0 331.1,289.0 330.1,289.1 329.1,289.3 328.1,289.2 327.1,289.4 326.1,289.4 325.1,289.4 324.1,289.7 323.1,289.8 322.1,289.8 321.1,290.1 320.1,289.8 319.1,289.9 318.1,290.4 317.1,290.1 316.1,290.5 315.2,290.7 314.2,290.7 313.1,290.6 312.2,290.9 311.1,290.7 310.2,290.9 309.2,291.1 308.2,291.2 307.2,291.2 306.2,291.3 305.2,291.4 304.2,291.6 303.2,291.8 302.2,292.0 301.2,292.0 300.2,291.9 299.2,292.0 298.2,292.0 297.3,292.3 296.3,292.5 295.3,292.6 294.3,292.7 293.3,292.6 292.3,292.7 291.3,293.0 290.3,293.2 289.3,293.1 288.3,293.4 287.3,293.3 286.3,293.6 285.3,293.7 284.4,293.8 283.4,293.9 282.4,294.0 281.4,294.1 280.4,294.2 279.4,294.3 278.4,294.5 277.4,294.6 276.4,294.8 275.4,294.8 274.4,294.9 273.4,295.1 272.5,295.3 271.5,295.3 270.5,295.4 269.5,295.5 268.5,295.7 267.5,295.8 266.6,296.0 265.6,296.1 264.6,296.3 263.6,296.4 262.7,296.7 261.7,296.8 260.8,297.0 259.8,297.2 258.9,297.5 257.9,297.7 257.0,298.0 256.0,298.2 255.0,298.5 254.1,298.8 253.1,299.0 252.2,299.3 251.2,299.6 250.2,299.8 249.3,300.1 248.3,300.4 247.4,300.7 246.4,301.0 245.5,301.2 244.5,301.5 243.6,301.8 242.6,302.1 241.7,302.4 240.7,302.7 239.7,303.0 238.8,303.3 237.8,303.6 236.8,303.9 235.9,304.2 234.9,304.4 233.9,304.7 233.0,305.0 232.0,305.2 231.0,305.5 230.0,305.7 229.0,306.0 228.0,306.2 227.1,306.4 226.1,306.6 225.1,306.9 224.1,307.1 223.1,307.3 222.2,307.5 221.2,307.7 220.2,307.9 219.2,308.1 218.2,308.3 217.2,308.5 216.2,308.7 215.2,308.9 214.2,309.0 213.2,309.2 212.2,309.4 211.2,309.5 210.2,309.6 209.2,309.8 208.1,309.8 207.1,309.9 206.0,309.9 205.0,309.9 204.0,309.8 203.0,309.8 202.0,309.7 201.0,309.7 200.1,309.7 199.2,309.8 198.3,309.9 197.3,310.1 196.3,310.3 195.3,310.5 194.2,310.6 193.2,310.6 192.2,310.7 191.2,310.8 190.2,310.9 189.2,311.0 188.2,311.1 187.2,311.2 186.2,311.2 185.2,311.3 184.1,311.3 183.1,311.3 182.0,311.2 181.0,311.1 180.0,311.0 179.0,310.9 177.9,310.8 176.9,310.6 175.9,310.4 174.9,310.2 173.9,310.0 172.8,309.7 171.8,309.3 170.8,308.9 169.8,308.3 169.0,307.9 168.1,307.4 167.2,306.9 166.5,306.5 166.2,306.4 166.0,306.5 165.7,307.0 165.3,307.7 164.9,308.5 164.5,309.3 164.2,310.2 163.9,311.1 163.7,312.1 163.4,313.0 163.1,314.0 162.9,315.0 162.6,315.9 162.4,316.9 162.1,317.8 161.9,318.8 161.7,319.8 161.5,320.7 161.3,321.7 161.1,322.7 160.8,323.7 160.5,324.7 160.2,325.8 159.6,326.9 158.9,327.9 157.8,328.8 156.6,329.3 155.2,329.6 153.8,329.3 152.8,328.7 152.0,328.3 151.3,328.0 150.9,328.0 150.4,328.3 149.6,328.9 148.4,329.5 146.6,329.5 145.2,328.4 144.7,327.1 144.4,326.1 144.1,325.0 143.9,324.0 143.8,323.0 143.6,322.0 143.5,321.0 143.4,320.0 143.3,319.0 143.2,318.0 143.1,317.0 143.0,316.0 142.9,315.0 142.8,314.0 142.7,313.0 142.6,312.0 142.5,311.0 142.4,310.0 142.3,309.0 142.2,308.0 142.1,307.0 142.0,306.0 141.9,305.0 141.9,304.0 141.8,303.0 141.7,302.0 141.6,301.0 141.5,300.0 141.4,299.0 141.3,298.0 141.3,297.0 141.2,296.0 141.1,295.0 141.0,294.0 140.9,293.0 140.8,292.0 140.8,291.0 140.7,290.0 140.6,289.0 140.5,288.0 140.5,287.0 140.4,286.0 140.3,285.0 140.2,284.0 140.2,283.0 140.1,282.0 140.0,281.0 140.0,280.0 139.9,279.0 139.9,278.0 139.8,277.0 139.8,276.0 139.7,275.0 139.7,274.0 139.6,273.0 139.6,272.0 139.6,271.0 139.5,270.0 139.5,269.0 139.5,268.0 139.4,267.0 139.4,266.0 139.4,265.0 139.3,264.0 139.3,263.0 139.3,262.0 139.2,261.0 139.2,260.0 139.2,259.0 139.1,258.0 139.1,257.0 139.1,256.0 139.0,255.0 139.0,254.0 139.0,253.0 138.9,252.0 138.9,251.0 138.8,250.0 138.8,249.0 138.8,248.0 138.7,247.0 138.7,246.0 138.7,245.0 138.6,244.0 138.6,243.0 138.5,242.0 138.5,241.0 138.4,240.0 138.4,239.1 138.3,238.1 138.2,237.1 138.1,236.2 138.0,235.2 137.9,234.1Z" fill="#f2ac2c" fill-opacity="0.33"/>
<path d="M140.6,233.8 140.7,234.8 140.9,235.8 141.0,236.8 141.1,237.9 141.1,238.9 141.2,239.9 141.2,240.9 141.3,241.9 141.3,242.9 141.4,243.9 141.4,244.9 141.4,245.9 141.5,246.9 141.5,247.9 141.6,248.9 141.6,249.9 141.6,250.9 141.7,251.9 141.7,252.9 141.7,253.9 141.8,254.9 141.8,255.9 141.8,256.9 141.9,257.9 141.9,258.9 141.9,259.9 142.0,260.9 142.0,261.9 142.0,262.9 142.1,263.9 142.1,264.9 142.2,265.9 142.2,266.9 142.2,267.9 142.2,268.9 142.3,269.9 142.3,270.9 142.3,271.9 142.4,272.9 142.4,273.9 142.5,274.9 142.5,275.9 142.6,276.9 142.6,277.9 142.7,278.9 142.7,279.9 142.8,280.9 142.8,281.9 142.9,282.9 143.0,283.9 143.0,284.9 143.1,285.9 143.2,286.9 143.3,287.9 143.4,288.9 143.4,289.9 143.5,290.9 143.6,291.9 143.7,292.9 143.8,293.9 143.8,294.9 143.9,295.8 144.0,296.8 144.1,297.8 144.2,298.8 144.3,299.8 144.4,300.8 144.4,301.8 144.5,302.8 144.6,303.8 144.7,304.8 144.8,305.8 144.9,306.8 145.0,307.8 145.1,308.8 145.1,309.8 145.2,310.8 145.3,311.8 145.4,312.8 145.5,313.8 145.6,314.8 145.7,315.8 145.8,316.8 145.9,317.8 146.0,318.7 146.1,319.7 146.2,320.7 146.4,321.7 146.5,322.7 146.7,323.6 146.9,324.5 147.1,325.4 147.3,326.3 147.5,326.8 147.5,326.9 147.6,326.8 148.3,326.4 149.1,325.9 150.4,325.2 152.0,325.3 153.2,325.8 154.1,326.2 154.9,326.6 155.3,326.7 155.8,326.6 156.4,326.3 156.9,325.9 157.2,325.4 157.6,324.6 157.9,323.8 158.1,322.9 158.3,322.0 158.5,321.0 158.7,320.0 159.0,319.0 159.2,318.1 159.4,317.1 159.6,316.1 159.9,315.1 160.1,314.1 160.4,313.2 160.6,312.2 160.9,311.2 161.2,310.2 161.5,309.2 161.9,308.2 162.4,307.1 163.1,306.0 164.2,305.0 165.8,304.5 167.4,304.9 168.5,305.5 169.3,306.0 170.2,306.4 171.0,306.9 171.9,307.3 172.7,307.7 173.5,308.0 174.4,308.2 175.4,308.4 176.3,308.6 177.3,308.8 178.2,309.0 179.2,309.1 180.1,309.2 181.1,309.3 182.1,309.4 183.0,309.4 184.0,309.5 184.9,309.5 185.9,309.4 186.9,309.4 187.9,309.3 188.9,309.3 189.8,309.2 190.8,309.1 191.8,309.0 192.8,308.9 193.8,308.9 194.8,308.8 195.8,308.7 196.7,308.6 197.7,308.4 198.8,308.3 199.9,308.2 200.9,308.2 202.0,308.2 203.0,308.3 204.0,308.3 205.0,308.4 205.9,308.4 206.9,308.4 207.8,308.3 208.7,308.3 209.7,308.1 210.6,308.0 211.6,307.8 212.6,307.6 213.6,307.5 214.5,307.3 215.5,307.1 216.5,306.9 217.5,306.7 218.4,306.5 219.4,306.3 220.4,306.1 221.3,305.9 222.3,305.6 223.3,305.4 224.2,305.2 225.2,304.9 226.1,304.7 227.1,304.4 228.1,304.2 229.0,303.9 230.0,303.6 231.0,303.4 231.9,303.1 232.9,302.9 233.9,302.6 234.8,302.3 235.8,302.1 236.7,301.8 237.7,301.5 238.6,301.2 239.5,300.9 240.5,300.6 241.4,300.3 242.4,300.0 243.3,299.7 244.3,299.3 245.3,299.0 246.2,298.7 247.2,298.4 248.2,298.2 249.2,297.9 250.1,297.6 251.1,297.4 252.1,297.1 253.0,296.8 254.0,296.6 255.0,296.3 255.9,296.0 256.9,295.8 257.9,295.5 258.9,295.3 259.9,295.0 260.9,294.8 261.9,294.7 263.0,294.4 264.0,294.4 265.0,294.2 266.0,294.0 267.0,293.9 268.0,293.9 269.0,293.6 270.0,293.6 271.0,293.4 271.9,293.2 272.9,293.2 273.9,293.0 274.9,292.8 275.9,292.9 276.9,292.6 277.9,292.5 278.9,292.4 279.9,292.3 280.9,292.2 281.9,292.1 282.9,291.9 283.9,291.8 284.9,291.6 285.9,291.5 286.9,291.3 287.9,291.3 288.9,291.3 289.9,291.0 290.8,290.9 291.8,290.7 292.9,290.8 293.8,290.6 294.8,290.6 295.8,290.3 296.9,290.4 297.8,290.2 298.8,290.0 299.8,290.0 300.8,289.8 301.8,289.9 302.8,289.6 303.8,289.5 304.8,289.4 305.8,289.3 306.8,289.3 307.8,289.0 308.8,289.2 309.8,288.9 310.8,288.9 311.8,288.8 312.8,288.3 313.8,288.5 314.8,288.5 315.8,288.3 316.8,288.3 317.7,287.9 318.8,287.9 319.8,288.1 320.7,287.7 321.7,287.6 322.7,287.4 323.8,287.8 324.7,287.4 325.7,287.4 326.7,287.2 327.7,287.1 328.7,286.8 329.7,286.9 330.7,286.6 331.7,286.5 332.7,287.0 333.7,286.3 334.7,286.5 335.7,286.6 336.7,286.0 337.7,285.9 338.7,285.9 339.7,286.2 340.7,286.0 341.7,285.7 342.6,285.5 343.6,285.2 344.6,285.1 345.6,285.2 346.6,285.1 347.6,284.9 348.6,285.0 349.6,284.8 350.6,284.7 351.6,284.4 352.6,284.4 353.6,284.3 354.6,284.4 355.6,283.9 356.6,284.2 357.6,283.8 358.6,283.9 359.6,283.9 360.5,283.5 361.6,283.7 362.6,283.6 363.5,283.1 364.5,283.1 365.5,282.8 366.5,282.9 367.5,282.6 368.5,282.4 369.4,282.2 370.5,282.4 371.5,282.3 372.4,281.8 373.3,281.5 374.4,282.0 375.4,282.1 376.3,281.4 377.4,281.8 378.4,281.7 379.3,281.0 380.3,281.2 381.3,280.8 382.3,280.6 383.3,280.5 384.2,280.0 385.2,280.0 386.2,279.8 387.2,279.9 388.2,279.4 389.3,279.8 390.2,279.5 391.3,280.1 392.2,279.0 393.3,279.4 394.2,279.0 395.2,278.8 396.2,278.4 397.2,278.6 398.2,278.1 399.2,278.0 400.2,277.9 401.2,278.1 402.2,277.9 403.2,277.6 404.2,277.4 405.2,277.5 406.2,277.8 407.2,277.5 408.1,276.8 409.1,276.8 410.2,277.2 411.2,276.9 412.2,276.9 413.1,276.4 414.1,275.8 415.2,276.5 416.1,275.8 417.1,275.9 418.1,276.0 419.2,276.2 420.2,276.0 421.2,276.0 422.1,275.7 423.2,276.3 424.1,275.1 425.1,275.3 426.0,274.3 427.0,274.8 428.1,274.9 429.1,275.0 430.0,274.5 431.0,274.4 431.8,273.9 433.0,274.7 433.7,273.9 434.7,274.0 435.5,273.4 436.5,273.3 437.5,273.0 438.5,272.7 439.6,272.8 440.5,272.0 441.5,271.8 442.5,271.7 443.6,272.0 444.4,271.3 445.4,271.0 446.3,270.6 447.2,270.0 448.2,270.0 449.1,269.3 450.3,270.3 451.1,269.4 452.2,269.7 452.9,268.6 453.9,268.6 454.9,268.8 455.8,268.4 456.5,267.3 457.5,267.3 458.6,267.4 459.4,266.9 460.3,266.5 461.1,265.7 462.1,265.6 463.1,265.4 463.9,264.7 464.9,264.5 465.9,264.2 466.8,263.8 467.8,263.5 468.9,263.8 469.4,262.3 470.6,262.5 471.5,262.0 472.5,262.0 473.2,260.8 474.5,261.5 475.1,260.2 476.2,260.1 477.3,260.1 478.3,259.9 479.1,258.9 480.1,258.7 481.1,258.4 481.8,257.5 483.1,258.3 483.8,257.2 484.9,257.6 485.9,257.5 486.7,256.6 487.3,255.5 488.9,256.9 489.2,254.9 490.3,255.2 491.5,255.6 492.2,254.7 493.1,254.5 493.9,254.1 494.8,253.9 495.3,253.0 496.1,252.6 497.0,252.4 498.0,252.2 498.7,251.5 499.2,250.5 500.7,250.8 501.1,249.6 502.4,249.7 502.2,247.7 503.2,247.4 504.4,247.4 504.9,246.4 505.8,246.0 506.6,245.5 507.1,244.5 508.7,245.0 508.8,243.4 509.3,242.4 510.4,242.1 511.2,241.5 511.6,240.3 512.8,240.2 514.0,240.0 514.4,238.7 515.5,238.6 516.3,237.9 516.9,237.1 518.0,236.9 523.5,245.4 522.4,245.6 521.0,245.2 520.3,245.9 519.9,247.1 518.9,247.3 517.6,247.1 517.4,248.3 516.7,249.0 515.9,249.5 515.5,250.6 514.1,250.4 513.6,251.5 513.2,252.6 511.3,251.8 511.0,253.1 510.0,253.5 509.9,255.2 508.9,255.5 507.1,254.9 507.3,256.9 505.7,256.3 505.3,257.4 504.4,257.8 503.5,258.3 502.6,258.9 502.3,260.6 500.8,260.4 500.7,262.7 499.1,262.4 497.8,262.5 496.4,262.2 495.2,262.2 494.0,262.2 493.1,262.8 492.2,263.4 491.1,263.4 490.1,263.5 489.3,264.3 488.6,265.4 487.4,265.0 486.4,265.4 485.4,265.9 484.1,265.1 483.0,265.0 482.5,266.8 481.2,265.9 480.5,266.7 480.1,268.6 478.7,267.4 477.9,267.9 477.1,268.5 476.0,268.3 475.1,268.7 474.4,269.6 473.2,269.3 472.1,269.2 471.4,270.4 470.9,271.9 469.9,272.0 468.4,270.8 467.6,271.5 466.8,272.1 466.2,273.2 464.9,272.8 463.6,272.3 462.8,273.0 462.1,274.1 461.1,274.3 459.9,274.2 459.3,275.7 458.1,275.4 456.8,275.0 456.0,275.9 454.9,276.0 453.6,275.3 452.8,276.1 451.6,275.9 450.8,276.8 449.9,277.2 448.8,277.0 447.9,277.7 446.7,277.1 445.7,277.4 444.8,277.8 443.9,278.2 442.9,278.5 441.8,277.8 441.0,278.7 440.0,278.5 439.3,279.3 438.4,279.5 437.3,279.6 436.1,279.6 435.1,280.1 433.9,280.1 432.8,280.1 431.9,280.6 430.8,280.4 429.9,281.2 428.8,281.0 427.8,281.4 426.8,281.1 425.8,281.2 424.8,281.5 423.7,280.8 422.8,282.0 421.7,281.3 420.8,282.1 419.8,281.8 418.8,282.2 417.8,282.4 416.8,282.0 415.8,282.0 414.8,282.2 413.8,282.3 412.9,282.8 411.9,282.9 410.9,283.1 409.8,282.7 408.9,283.1 407.9,283.2 406.9,283.3 405.8,282.9 404.9,283.7 403.9,283.7 402.9,283.9 401.9,284.0 400.8,283.4 399.9,284.3 398.9,283.8 397.9,284.2 397.0,284.4 395.9,284.2 395.0,284.8 394.0,284.6 393.0,284.8 392.0,285.1 391.0,285.1 390.1,285.3 389.0,285.0 388.1,285.4 387.1,285.8 386.1,285.9 385.1,285.9 384.1,286.1 383.1,286.3 382.1,286.3 381.1,286.2 380.1,286.3 379.1,286.4 378.1,286.8 377.1,286.9 376.2,287.2 375.1,287.0 374.1,287.2 373.1,287.2 372.1,287.3 371.2,288.0 370.2,288.2 369.1,287.6 368.1,288.0 367.1,288.1 366.1,288.3 365.1,288.5 364.1,288.4 363.1,288.5 362.1,288.8 361.1,288.9 360.1,288.8 359.1,288.9 358.1,289.1 357.2,289.4 356.1,289.2 355.1,289.4 354.1,289.4 353.2,289.9 352.1,289.4 351.1,289.5 350.2,289.9 349.1,289.9 348.1,290.0 347.1,290.0 346.2,290.3 345.2,290.8 344.1,290.2 343.2,290.9 342.2,290.5 341.2,290.8 340.2,290.9 339.2,291.1 338.2,291.0 337.2,291.2 336.2,291.1 335.2,291.3 334.2,291.6 333.2,291.4 332.2,291.4 331.2,291.7 330.2,291.5 329.2,291.8 328.2,291.6 327.2,292.0 326.2,292.1 325.2,292.4 324.2,292.0 323.2,292.5 322.2,292.5 321.2,292.7 320.2,292.5 319.2,292.8 318.2,292.9 317.2,293.0 316.2,293.1 315.2,293.1 314.2,293.1 313.3,293.4 312.3,293.6 311.2,293.3 310.2,293.5 309.3,293.7 308.3,293.8 307.3,293.8 306.2,293.7 305.3,293.8 304.3,294.0 303.3,294.3 302.3,294.3 301.3,294.2 300.3,294.3 299.3,294.4 298.3,294.5 297.3,294.8 296.3,294.7 295.3,294.8 294.3,295.1 293.3,295.1 292.3,295.1 291.4,295.4 290.4,295.4 289.4,295.6 288.4,295.7 287.4,295.6 286.4,295.9 285.4,296.0 284.4,296.1 283.4,296.1 282.4,296.2 281.4,296.4 280.4,296.4 279.4,296.6 278.4,296.7 277.4,296.8 276.4,297.0 275.4,297.0 274.4,297.1 273.5,297.3 272.5,297.3 271.5,297.5 270.5,297.6 269.5,297.8 268.5,297.8 267.5,298.0 266.5,298.1 265.5,298.2 264.6,298.3 263.6,298.5 262.6,298.7 261.7,298.8 260.7,299.0 259.8,299.2 258.9,299.4 257.9,299.6 257.0,299.9 256.0,300.1 255.0,300.4 254.1,300.7 253.1,300.9 252.1,301.1 251.2,301.4 250.2,301.6 249.2,301.9 248.3,302.2 247.3,302.4 246.4,302.7 245.5,303.0 244.5,303.3 243.6,303.6 242.6,303.9 241.7,304.2 240.7,304.5 239.7,304.8 238.7,305.1 237.8,305.4 236.8,305.7 235.8,305.9 234.8,306.2 233.9,306.4 232.9,306.7 231.9,306.9 231.0,307.2 230.0,307.4 229.0,307.7 228.0,308.0 227.1,308.2 226.1,308.4 225.1,308.7 224.1,308.9 223.1,309.2 222.1,309.4 221.1,309.6 220.1,309.8 219.2,310.0 218.2,310.2 217.2,310.4 216.2,310.5 215.2,310.7 214.2,310.9 213.2,311.1 212.2,311.2 211.2,311.4 210.2,311.6 209.1,311.7 208.0,311.8 207.0,311.8 205.9,311.8 204.8,311.8 203.8,311.7 202.8,311.6 201.8,311.6 200.9,311.5 200.0,311.5 199.1,311.6 198.2,311.7 197.2,311.8 196.1,312.0 195.1,312.1 194.1,312.1 193.1,312.2 192.1,312.3 191.1,312.3 190.1,312.4 189.1,312.5 188.1,312.5 187.0,312.6 186.0,312.6 185.0,312.6 183.9,312.6 182.9,312.6 181.8,312.5 180.8,312.4 179.8,312.3 178.8,312.2 177.7,312.0 176.7,311.8 175.7,311.6 174.7,311.4 173.7,311.1 172.6,310.9 171.6,310.5 170.6,310.0 169.6,309.5 168.8,309.1 167.8,308.6 166.9,308.0 166.3,307.6 165.9,307.5 165.7,307.6 165.4,307.9 165.0,308.5 164.6,309.3 164.3,310.2 164.0,311.1 163.8,312.0 163.5,312.9 163.3,313.9 163.0,314.9 162.7,315.8 162.5,316.8 162.3,317.7 162.0,318.7 161.8,319.7 161.6,320.6 161.4,321.6 161.2,322.6 160.9,323.6 160.7,324.7 160.3,325.7 159.8,326.8 159.1,327.9 158.0,328.8 156.8,329.4 155.4,329.7 153.9,329.4 152.8,328.8 152.0,328.5 151.3,328.1 151.0,328.1 150.6,328.4 149.7,328.9 148.5,329.5 146.8,329.7 145.3,328.6 144.6,327.3 144.3,326.2 144.1,325.2 143.9,324.1 143.7,323.1 143.5,322.1 143.4,321.1 143.3,320.1 143.2,319.1 143.1,318.1 143.0,317.1 142.9,316.1 142.8,315.1 142.7,314.1 142.6,313.1 142.5,312.1 142.4,311.1 142.3,310.1 142.2,309.1 142.1,308.1 142.0,307.1 142.0,306.1 141.9,305.1 141.8,304.1 141.7,303.1 141.6,302.1 141.5,301.1 141.4,300.1 141.4,299.1 141.3,298.1 141.2,297.1 141.1,296.1 141.0,295.1 140.9,294.1 140.9,293.1 140.8,292.1 140.7,291.1 140.6,290.1 140.5,289.1 140.4,288.1 140.4,287.1 140.3,286.1 140.2,285.1 140.1,284.1 140.1,283.1 140.0,282.1 139.9,281.1 139.9,280.1 139.8,279.1 139.8,278.1 139.7,277.1 139.7,276.1 139.6,275.1 139.6,274.1 139.6,273.0 139.5,272.0 139.5,271.0 139.5,270.0 139.4,269.0 139.4,268.0 139.4,267.0 139.3,266.0 139.3,265.0 139.3,264.0 139.2,263.0 139.2,262.0 139.1,261.0 139.1,260.0 139.1,259.0 139.0,258.0 139.0,257.0 139.0,256.0 138.9,255.0 138.9,254.0 138.9,253.0 138.8,252.0 138.8,251.0 138.8,250.0 138.7,249.0 138.7,248.0 138.7,247.0 138.6,246.0 138.6,245.0 138.5,244.0 138.5,243.0 138.5,242.0 138.4,241.0 138.4,240.1 138.3,239.1 138.2,238.1 138.2,237.1 138.1,236.2 137.9,235.2 137.8,234.2Z" fill="#720c12" fill-opacity="0.30"/>
<path d="M139.2,234.0 139.3,235.0 139.5,236.0 139.6,237.0 139.7,238.0 139.7,239.0 139.8,240.0 139.8,241.0 139.9,242.0 139.9,243.0 140.0,244.0 140.0,245.0 140.0,246.0 140.1,247.0 140.1,248.0 140.1,249.0 140.2,250.0 140.2,251.0 140.2,252.0 140.3,253.0 140.3,254.0 140.3,255.0 140.4,256.0 140.4,257.0 140.5,258.0 140.5,259.0 140.5,260.0 140.6,261.0 140.6,262.0 140.6,263.0 140.7,264.0 140.7,265.0 140.7,266.0 140.8,267.0 140.8,268.0 140.8,269.0 140.9,270.0 140.9,271.0 140.9,272.0 141.0,273.0 141.0,274.0 141.0,275.0 141.1,276.0 141.1,277.0 141.2,278.0 141.2,279.0 141.3,279.9 141.4,280.9 141.4,281.9 141.5,282.9 141.6,283.9 141.6,284.9 141.7,285.9 141.8,286.9 141.9,287.9 141.9,288.9 142.0,289.9 142.1,290.9 142.2,291.9 142.3,292.9 142.3,293.9 142.4,294.9 142.5,295.9 142.6,296.9 142.7,297.9 142.8,298.9 142.8,299.9 142.9,300.9 143.0,301.9 143.1,302.9 143.2,303.9 143.3,304.9 143.4,305.9 143.5,306.9 143.5,307.9 143.6,308.9 143.7,309.9 143.8,310.9 143.9,311.8 144.0,312.8 144.1,313.8 144.2,314.8 144.3,315.8 144.4,316.8 144.5,317.8 144.6,318.8 144.7,319.8 144.8,320.8 144.9,321.8 145.1,322.8 145.2,323.8 145.4,324.8 145.7,325.7 145.9,326.7 146.3,327.6 147.0,328.2 147.9,327.9 148.7,327.3 149.5,326.7 150.3,326.0 151.1,325.4 152.0,325.0 153.0,324.8 154.0,324.9 155.0,324.9 155.9,324.7 156.7,324.1 157.4,323.3 158.0,322.5 158.4,321.6 158.7,320.7 159.0,319.7 159.3,318.7 159.5,317.8 159.8,316.8 160.0,315.8 160.2,314.8 160.5,313.9 160.7,312.9 160.9,311.9 161.2,311.0 161.4,310.0 161.7,309.0 162.0,308.1 162.3,307.1 162.5,306.2 162.8,305.2 163.1,304.2 163.5,303.3 164.2,302.6 165.1,302.3 166.1,302.6 167.0,303.0 167.8,303.6 168.7,304.1 169.5,304.6 170.3,305.2 171.2,305.7 172.0,306.2 172.9,306.7 173.9,307.0 174.8,307.3 175.8,307.6 176.7,307.9 177.7,308.1 178.7,308.4 179.7,308.5 180.7,308.7 181.6,308.8 182.6,308.8 183.6,308.8 184.6,308.7 185.6,308.5 186.6,308.4 187.6,308.2 188.6,307.9 189.5,307.7 190.5,307.5 191.5,307.2 192.5,307.0 193.4,306.8 194.4,306.5 195.4,306.3 196.4,306.1 197.3,305.9 198.3,305.7 199.3,305.6 200.3,305.5 201.3,305.4 202.3,305.3 203.3,305.3 204.3,305.2 205.3,305.1 206.3,305.1 207.3,305.0 208.3,305.0 209.3,304.9 210.3,304.9 211.3,304.8 212.3,304.7 213.3,304.7 214.3,304.6 215.3,304.5 216.3,304.4 217.3,304.3 218.3,304.2 219.3,304.1 220.3,304.0 221.2,303.9 222.2,303.8 223.2,303.7 224.2,303.6 225.2,303.5 226.2,303.4 227.2,303.2 228.2,303.1 229.2,303.0 230.2,302.9 231.2,302.8 232.2,302.6 233.2,302.5 234.2,302.3 235.1,302.2 236.1,302.1 237.1,301.9 238.1,301.8 239.1,301.6 240.1,301.5 241.1,301.3 242.1,301.2 243.1,301.0 244.0,300.9 245.0,300.8 246.0,300.6 247.0,300.5 248.0,300.4 249.0,300.2 250.0,300.1 251.0,300.0 252.0,299.9 253.0,299.7 254.0,299.6 255.0,299.5 256.0,299.4 257.0,299.3 257.9,299.2 258.9,299.1 259.9,299.0 260.9,298.9 261.9,298.8 262.9,298.8 263.9,298.7 264.9,298.6 265.9,298.7 266.9,298.6 267.9,298.6 268.9,298.5 269.9,298.5 270.9,298.4 271.9,298.4 272.9,298.4 273.9,298.4 274.9,298.3 275.9,298.3 276.9,298.3 277.9,298.2 278.9,298.1 279.9,298.1 280.9,298.0 281.9,297.8 282.9,298.1 283.9,297.7 284.9,297.8 285.9,297.8 286.9,297.9 287.9,297.5 288.9,297.7 289.9,297.6 290.9,297.7 291.9,297.4 292.9,297.6 293.9,297.4 294.9,297.3 295.9,297.4 296.9,297.2 297.9,297.3 298.9,297.4 299.9,297.0 300.9,297.3 301.9,297.1 302.9,297.1 303.9,297.1 304.9,296.9 305.9,296.9 306.9,296.7 307.9,296.5 308.9,296.9 309.9,296.4 310.9,296.7 311.9,296.5 312.9,296.5 313.9,296.4 314.9,296.5 315.9,296.1 316.9,296.5 317.9,296.0 318.9,296.3 319.9,296.0 320.9,295.9 321.9,296.0 322.9,296.4 323.9,296.0 324.9,295.6 325.9,295.6 326.9,295.8 327.9,295.6 328.9,295.8 329.9,295.6 330.9,295.6 331.9,295.4 332.9,295.3 333.9,295.5 334.9,295.4 335.9,295.6 336.9,295.4 337.9,295.2 338.9,295.3 339.9,295.0 340.9,295.3 341.9,295.9 342.9,295.2 343.9,295.4 344.9,294.9 345.8,294.5 346.9,295.2 347.9,294.8 348.9,294.7 349.9,294.9 350.9,295.3 351.8,294.6 352.8,294.4 353.8,294.0 354.8,294.1 355.8,294.3 356.9,294.5 357.8,293.6 358.9,294.4 359.8,294.2 360.8,294.2 361.9,294.3 362.8,294.2 363.8,294.0 364.8,293.3 365.8,293.6 366.9,294.1 367.8,293.9 368.8,293.6 369.8,293.2 370.8,293.6 371.8,293.7 372.8,293.3 373.8,293.3 374.8,293.0 375.8,293.0 376.8,292.6 377.8,293.0 378.8,292.9 379.8,292.4 380.7,292.2 381.8,292.4 382.7,292.0 383.7,292.0 384.7,291.5 385.7,291.8 386.8,292.0 387.7,291.7 388.6,290.8 389.7,291.3 390.7,291.3 391.7,291.4 392.7,290.8 393.7,291.0 394.7,291.2 395.7,291.0 396.6,290.2 397.6,289.8 398.7,290.6 399.6,289.9 400.7,290.7 401.7,290.3 402.7,290.2 403.7,290.3 404.6,289.9 405.7,290.0 406.6,289.8 407.6,289.8 408.7,289.9 409.7,289.8 410.6,289.2 411.6,288.8 412.6,288.7 413.5,288.6 414.5,288.3 415.5,288.4 416.6,288.6 417.6,288.7 418.5,287.8 419.6,288.3 420.6,288.4 421.5,287.5 422.5,287.3 423.5,287.6 424.4,286.6 425.4,286.7 426.3,286.1 427.5,287.2 428.5,287.0 429.3,286.0 430.4,286.5 431.4,286.4 432.4,286.5 433.5,286.6 434.3,285.4 435.3,285.6 436.3,285.3 437.4,285.4 438.2,284.8 439.1,284.0 440.0,283.6 441.2,284.5 442.1,283.9 443.1,283.3 444.2,283.9 445.0,282.9 446.0,283.0 447.1,283.4 448.1,282.9 449.2,283.3 450.1,282.9 451.1,282.7 452.1,282.4 452.9,281.5 454.1,282.5 455.0,281.8 455.9,281.5 457.0,281.6 458.0,281.4 458.9,281.1 459.8,280.4 460.9,280.8 461.9,280.5 462.4,278.5 463.7,279.7 464.8,279.8 465.7,279.4 466.8,279.6 467.5,278.2 468.4,277.8 469.5,278.0 470.5,278.0 471.5,277.8 472.5,277.8 473.2,276.5 474.4,276.9 475.6,277.5 476.6,277.5 477.2,275.7 478.0,275.2 479.1,275.2 480.0,274.7 481.2,275.2 481.8,274.0 482.8,273.8 484.3,274.9 485.1,274.3 485.8,273.4 486.8,272.9 487.4,271.9 489.0,273.3 489.4,271.3 490.5,271.5 491.7,272.0 492.5,271.1 493.7,271.5 494.3,270.2 495.2,269.9 496.2,269.7 496.9,268.8 497.7,268.0 498.9,268.2 500.1,268.6 500.5,267.2 501.2,266.3 502.3,266.2 503.4,266.2 504.3,265.7 505.3,265.4 505.5,263.8 506.9,264.2 507.3,262.9 508.1,262.4 509.8,263.2 510.4,262.2 510.9,261.1 511.9,260.9 512.3,259.6 513.8,260.1 514.5,259.4 515.9,259.7 516.1,258.1 517.2,258.0 517.4,256.5 518.6,256.5 519.8,256.4 520.2,255.3" fill="none" stroke="#1d1a86" stroke-width="1.90" stroke-linejoin="round" stroke-linecap="round"/>
<path d="M139.2,234.0 139.3,235.0 139.5,236.0 139.6,237.0 139.7,238.0 139.7,239.0 139.8,240.0 139.8,241.0 139.9,242.0 139.9,243.0 140.0,244.0 140.0,245.0 140.0,246.0 140.1,247.0 140.1,248.0 140.1,249.0 140.2,250.0 140.2,251.0 140.2,252.0 140.3,253.0 140.3,254.0 140.3,255.0 140.4,256.0 140.4,257.0 140.5,258.0 140.5,259.0 140.5,260.0 140.6,261.0 140.6,262.0 140.6,263.0 140.7,264.0 140.7,265.0 140.7,266.0 140.8,267.0 140.8,268.0 140.8,269.0 140.9,270.0 140.9,271.0 140.9,272.0 141.0,273.0 141.0,274.0 141.0,275.0 141.1,276.0 141.1,277.0 141.2,278.0 141.2,279.0 141.3,280.0 141.4,281.0 141.4,281.9 141.5,282.9 141.6,283.9 141.6,284.9 141.7,285.9 141.8,286.9 141.9,287.9 141.9,288.9 142.0,289.9 142.1,290.9 142.2,291.9 142.3,292.9 142.3,293.9 142.4,294.9 142.5,295.9 142.6,296.9 142.7,297.9 142.8,298.9 142.8,299.9 142.9,300.9 143.0,301.9 143.1,302.9 143.2,303.9 143.3,304.9 143.4,305.9 143.5,306.9 143.5,307.9 143.6,308.9 143.7,309.9 143.8,310.9 143.9,311.9 144.0,312.8 144.1,313.8 144.2,314.8 144.3,315.8 144.4,316.8 144.5,317.8 144.6,318.8 144.7,319.8 144.8,320.8 144.9,321.8 145.1,322.8 145.3,323.8 145.4,324.8 145.7,325.7 146.0,326.7 146.4,327.6 147.0,328.3 148.0,328.2 148.9,327.7 149.7,327.2 150.6,326.7 151.6,326.7 152.5,327.1 153.4,327.5 154.3,328.0 155.2,328.2 156.2,328.0 157.1,327.6 157.9,327.0 158.5,326.2 158.9,325.3 159.2,324.3 159.5,323.4 159.7,322.4 159.9,321.4 160.2,320.4 160.4,319.5 160.6,318.5 160.8,317.5 161.0,316.5 161.3,315.6 161.5,314.6 161.8,313.6 162.1,312.7 162.3,311.7 162.6,310.7 162.9,309.8 163.2,308.8 163.6,307.9 164.0,307.0 164.5,306.2 165.2,305.4 166.1,305.0 167.0,305.2 167.9,305.7 168.8,306.2 169.6,306.6 170.5,307.1 171.4,307.6 172.3,308.0 173.2,308.3 174.2,308.6 175.2,308.8 176.2,309.0 177.2,309.2 178.1,309.4 179.1,309.5 180.1,309.6 181.1,309.7 182.1,309.8 183.1,309.8 184.1,309.8 185.1,309.8 186.1,309.7 187.1,309.7 188.1,309.6 189.1,309.5 190.1,309.4 191.1,309.3 192.1,309.2 193.1,309.1 194.1,309.0 195.1,308.9 196.1,308.8 197.1,308.6 198.0,308.4 199.0,308.3 200.0,308.2 201.0,308.2 202.0,308.2 203.0,308.2 204.0,308.3 205.0,308.3 206.0,308.3 207.0,308.3 208.0,308.3 209.0,308.2 210.0,308.1 211.0,307.9 212.0,307.8 213.0,307.6 214.0,307.5 214.9,307.3 215.9,307.1 216.9,306.9 217.9,306.7 218.9,306.5 219.9,306.3 220.8,306.1 221.8,305.9 222.8,305.7 223.8,305.5 224.7,305.2 225.7,305.0 226.7,304.8 227.7,304.6 228.6,304.3 229.6,304.1 230.6,303.9 231.5,303.6 232.5,303.3 233.5,303.1 234.4,302.8 235.4,302.5 236.4,302.2 237.3,302.0 238.3,301.7 239.2,301.4 240.2,301.1 241.1,300.8 242.1,300.5 243.1,300.2 244.0,299.9 245.0,299.6 245.9,299.3 246.9,299.0 247.8,298.7 248.8,298.4 249.8,298.1 250.7,297.9 251.7,297.6 252.6,297.3 253.6,297.1 254.6,296.8 255.5,296.5 256.5,296.3 257.4,295.9 258.4,295.7 259.4,295.4 260.4,295.2 261.3,295.0 262.3,294.8 263.3,294.6 264.3,294.4 265.3,294.3 266.3,294.1 267.3,294.0 268.2,293.9 269.2,293.8 270.2,293.6 271.2,293.4 272.2,293.4 273.2,293.2 274.2,292.9 275.2,292.9 276.2,292.8 277.2,292.7 278.2,292.5 279.2,292.4 280.1,292.3 281.2,292.4 282.1,292.1 283.1,292.0 284.1,291.7 285.1,291.9 286.1,291.6 287.1,291.3 288.1,291.0 289.1,291.2 290.1,291.1 291.1,290.9 292.1,290.8 293.1,290.8 294.0,290.5 295.1,290.7 296.0,290.5 297.0,290.5 298.0,290.4 299.0,290.0 300.0,290.1 301.0,289.9 302.0,289.9 303.0,289.6 304.0,289.3 305.0,289.4 306.0,289.3 307.0,289.2 308.0,289.2 309.0,289.1 310.0,289.0 311.0,289.0 311.9,288.5 313.0,288.8 313.9,288.4 314.9,288.2 315.9,288.4 316.9,288.2 317.9,288.3 318.9,287.9 319.9,288.0 320.9,287.8 321.9,288.0 322.9,287.9 323.9,287.8 324.9,287.3 325.9,287.4 326.9,287.4 327.9,287.0 328.9,287.2 329.9,287.4 330.9,287.1 331.9,287.0 332.8,286.5 333.9,286.6 334.9,286.5 335.8,286.0 336.8,286.4 337.9,286.4 338.8,286.2 339.8,285.4 340.9,286.3 341.8,286.0 342.9,286.1 343.8,285.7 344.8,285.6 345.8,285.3 346.8,285.5 347.8,285.3 348.8,284.9 349.7,284.6 350.7,284.5 351.8,284.8 352.7,284.0 353.8,285.0 354.7,284.2 355.7,284.3 356.8,284.4 357.7,284.1 358.7,283.8 359.7,283.7 360.7,283.5 361.7,283.8 362.7,283.4 363.7,283.7 364.7,283.7 365.6,282.8 366.6,282.9 367.6,282.8 368.6,282.5 369.6,282.2 370.6,282.2 371.6,282.5 372.6,282.1 373.6,282.2 374.6,281.9 375.6,281.9 376.6,281.5 377.5,281.4 378.6,281.6 379.6,281.9 380.5,281.0 381.5,281.0 382.6,281.3 383.3,279.6 384.5,280.2 385.6,280.9 386.4,280.0 387.5,280.5 388.5,280.4 389.4,279.4 390.4,279.3 391.4,279.2 392.5,280.0 393.4,279.0 394.4,279.3 395.4,279.0 396.3,278.5 397.4,278.8 398.4,279.0 399.5,279.4 400.3,278.1 401.4,278.8 402.3,277.8 403.3,277.4 404.3,277.6 405.3,277.4 406.4,278.1 407.3,277.8 408.4,278.3 409.4,277.8 410.3,277.3 411.3,277.4 412.3,277.4 413.2,276.5 414.3,277.3 415.2,276.5 416.3,276.5 417.2,276.0 418.2,276.1 419.2,276.2 420.2,276.2 421.2,275.6 422.2,276.0 423.3,276.0 424.2,275.3 425.1,275.1 426.1,274.9 427.1,274.3 428.2,275.4 429.2,275.0 430.0,274.2 431.2,274.7 432.0,273.9 433.0,273.9 434.0,273.9 435.2,274.1 436.1,273.8 437.0,273.1 437.8,272.5 438.6,271.8 439.7,271.7 440.5,270.8 441.8,271.9 442.5,270.5 443.7,271.3 444.6,270.9 445.7,271.4 446.6,270.6 447.4,269.3 448.5,269.8 449.6,270.2 450.6,270.1 451.6,269.9 452.4,269.1 453.5,269.2 454.2,268.2 455.4,268.5 456.2,267.9 457.3,268.0 458.3,267.8 459.4,268.0 460.5,268.1 460.9,266.1 462.3,267.4 463.0,266.1 463.9,265.8 464.8,265.3 465.5,264.2 466.9,265.1 467.6,264.1 468.6,263.9 469.8,264.3 470.3,262.9 471.7,263.8 472.6,263.2 473.5,262.7 474.1,261.5 475.1,261.4 476.2,261.4 477.5,262.2 478.4,261.6 478.8,259.8 479.7,259.3 480.9,259.6 482.1,260.0 483.1,260.0 483.9,259.2 484.8,258.8 485.8,258.7 486.8,258.5 487.8,258.1 488.7,257.7 489.3,256.5 490.5,256.8 491.3,256.0 492.2,255.8 492.5,254.1 494.0,254.7 494.7,253.9 495.8,254.0 496.5,253.1 497.1,252.2 498.6,252.8 499.1,251.7 499.6,250.6 501.0,250.9 501.4,249.7 502.8,250.1 503.6,249.5 504.7,249.4 505.3,248.4 506.2,247.9 506.7,246.8 507.2,245.9 509.5,247.4 509.0,245.0 510.1,244.8 511.5,244.9 511.5,243.4 512.8,243.4 513.6,242.8 513.1,240.4 515.1,241.5 515.1,239.6 515.9,239.0 517.7,240.0 518.2,238.9 518.9,238.2 519.9,237.8" fill="none" stroke="#f2ac2c" stroke-width="1.90" stroke-linejoin="round" stroke-linecap="round"/>
<path d="M139.2,234.0 139.3,235.0 139.5,236.0 139.6,237.0 139.7,238.0 139.7,239.0 139.8,240.0 139.8,241.0 139.9,242.0 139.9,243.0 140.0,244.0 140.0,245.0 140.0,246.0 140.1,247.0 140.1,248.0 140.1,249.0 140.2,250.0 140.2,251.0 140.2,252.0 140.3,253.0 140.3,254.0 140.3,255.0 140.4,256.0 140.4,257.0 140.5,258.0 140.5,259.0 140.5,260.0 140.6,261.0 140.6,262.0 140.6,263.0 140.7,264.0 140.7,265.0 140.7,266.0 140.8,267.0 140.8,268.0 140.8,269.0 140.9,270.0 140.9,271.0 140.9,272.0 141.0,273.0 141.0,274.0 141.0,275.0 141.1,276.0 141.1,277.0 141.2,278.0 141.2,279.0 141.3,280.0 141.4,281.0 141.4,282.0 141.5,283.0 141.6,284.0 141.6,285.0 141.7,286.0 141.8,287.0 141.9,288.0 141.9,289.0 142.0,290.0 142.1,291.0 142.2,292.0 142.3,293.0 142.3,294.0 142.4,295.0 142.5,296.0 142.6,297.0 142.7,298.0 142.8,299.0 142.9,300.0 142.9,301.0 143.0,302.0 143.1,303.0 143.2,303.9 143.3,304.9 143.4,305.9 143.5,306.9 143.5,307.9 143.6,308.9 143.7,309.9 143.8,310.9 143.9,311.9 144.0,312.9 144.1,313.9 144.2,314.9 144.3,315.9 144.4,316.9 144.5,317.9 144.6,318.9 144.7,319.9 144.8,320.9 145.0,321.9 145.1,322.9 145.3,323.9 145.5,324.8 145.7,325.8 146.0,326.8 146.4,327.7 147.1,328.3 148.1,328.1 149.0,327.7 149.8,327.1 150.7,326.7 151.7,326.7 152.6,327.1 153.5,327.5 154.4,328.0 155.3,328.2 156.3,328.0 157.2,327.6 158.0,326.9 158.5,326.1 158.9,325.2 159.3,324.2 159.5,323.3 159.8,322.3 160.0,321.3 160.2,320.3 160.4,319.4 160.6,318.4 160.8,317.4 161.1,316.4 161.3,315.5 161.6,314.5 161.8,313.5 162.1,312.6 162.3,311.6 162.6,310.6 162.9,309.7 163.3,308.7 163.7,307.8 164.2,307.0 165.0,306.3 165.9,306.0 166.9,306.2 167.7,306.8 168.6,307.3 169.5,307.7 170.3,308.2 171.2,308.7 172.1,309.1 173.1,309.4 174.1,309.7 175.0,309.9 176.0,310.1 177.0,310.3 178.0,310.5 179.0,310.6 180.0,310.7 181.0,310.9 182.0,310.9 183.0,311.0 184.0,311.0 185.0,311.0 186.0,311.0 187.0,310.9 188.0,310.9 189.0,310.8 190.0,310.8 191.0,310.7 192.0,310.6 193.0,310.5 193.9,310.4 194.9,310.4 195.9,310.3 196.9,310.1 197.9,310.0 198.9,309.9 199.9,309.8 200.9,309.8 201.9,309.8 202.9,309.9 203.9,309.9 204.9,310.0 205.9,310.0 206.9,310.0 207.9,310.0 208.9,309.9 209.9,309.8 210.9,309.6 211.9,309.5 212.9,309.3 213.9,309.1 214.8,308.9 215.8,308.7 216.8,308.5 217.8,308.3 218.8,308.1 219.8,307.9 220.7,307.7 221.7,307.5 222.7,307.3 223.7,307.1 224.6,306.8 225.6,306.6 226.6,306.3 227.5,306.1 228.5,305.8 229.5,305.6 230.4,305.3 231.4,305.0 232.4,304.8 233.3,304.5 234.3,304.3 235.3,304.0 236.2,303.7 237.2,303.5 238.2,303.2 239.1,302.9 240.1,302.6 241.0,302.3 242.0,302.0 242.9,301.7 243.9,301.3 244.8,301.0 245.8,300.7 246.7,300.4 247.7,300.2 248.7,299.9 249.6,299.6 250.6,299.3 251.6,299.1 252.5,298.8 253.5,298.6 254.5,298.3 255.4,298.0 256.4,297.8 257.4,297.5 258.3,297.2 259.3,297.0 260.3,296.9 261.3,296.7 262.3,296.5 263.2,296.3 264.2,296.1 265.2,296.0 266.2,295.9 267.2,295.8 268.2,295.6 269.2,295.5 270.2,295.4 271.2,295.2 272.2,295.1 273.2,295.0 274.2,294.9 275.1,294.5 276.2,294.6 277.2,294.5 278.2,294.4 279.1,294.2 280.1,294.3 281.1,294.0 282.1,294.0 283.1,293.9 284.1,293.6 285.1,293.6 286.1,293.4 287.1,293.5 288.1,293.3 289.1,293.2 290.1,292.9 291.1,293.0 292.1,292.7 293.0,292.3 294.1,292.5 295.1,292.6 296.0,292.2 297.0,292.1 298.1,292.2 299.0,292.1 300.0,291.9 301.0,291.9 302.0,291.9 303.0,291.6 304.0,291.4 305.0,291.4 306.0,291.3 307.0,291.4 308.0,290.9 309.0,291.0 310.0,291.0 311.0,291.3 312.0,290.9 313.0,290.7 314.0,290.5 315.0,290.7 316.0,290.5 316.9,289.9 318.0,290.2 319.0,290.1 320.0,290.1 321.0,289.9 322.0,289.8 323.0,289.7 323.9,289.5 324.9,289.1 325.9,289.4 326.9,289.1 327.9,289.0 329.0,289.4 329.9,288.8 330.9,288.8 331.9,288.4 332.9,288.8 333.9,288.7 334.9,288.1 335.9,288.8 336.9,288.4 337.9,288.2 338.9,288.0 339.9,287.6 340.9,287.8 341.9,287.9 342.8,287.4 343.9,287.5 344.9,287.6 345.9,287.8 346.9,287.3 347.9,287.2 348.9,287.6 349.8,286.7 350.9,287.5 351.8,286.7 352.8,286.7 353.8,286.6 354.8,286.1 355.7,285.6 356.8,286.0 357.8,286.5 358.8,286.4 359.8,285.7 360.8,285.5 361.8,285.4 362.8,285.6 363.8,285.5 364.8,285.6 365.8,285.6 366.7,284.9 367.8,285.5 368.8,285.0 369.7,284.4 370.7,284.5 371.7,284.3 372.6,283.6 373.7,284.4 374.7,283.9 375.7,284.1 376.7,283.7 377.7,283.6 378.7,283.6 379.7,283.3 380.7,283.7 381.7,283.1 382.6,283.0 383.6,282.5 384.6,282.8 385.5,282.0 386.5,281.9 387.6,282.2 388.6,282.4 389.6,282.1 390.6,281.7 391.5,281.3 392.6,281.6 393.5,280.8 394.6,281.7 395.5,280.9 396.5,280.9 397.5,281.2 398.5,280.6 399.5,281.0 400.5,280.6 401.4,279.6 402.4,279.7 403.6,281.1 404.5,280.0 405.5,280.2 406.4,279.0 407.5,280.2 408.6,280.6 409.3,278.5 410.5,280.2 411.4,278.8 412.4,278.9 413.4,279.0 414.4,278.7 415.5,279.1 416.4,278.4 417.3,277.9 418.4,278.3 419.4,278.5 420.4,278.7 421.4,278.6 422.4,278.5 423.4,278.1 424.4,278.3 425.3,276.9 426.4,277.8 427.4,278.1 428.3,276.6 429.4,277.3 430.3,277.2 431.4,277.6 432.4,277.2 433.3,276.7 434.2,276.1 435.3,276.5 436.3,276.1 437.3,275.9 438.1,275.1 439.2,275.2 439.9,274.3 440.8,273.7 442.1,274.7 443.0,274.1 444.0,274.1 445.1,274.6 446.0,273.6 447.0,273.6 447.9,273.1 448.8,272.4 449.8,272.4 450.7,271.7 451.5,271.1 453.1,273.2 453.8,271.9 454.4,270.4 455.9,271.8 456.5,270.4 457.5,270.3 458.8,271.0 459.5,270.0 460.4,269.5 461.7,270.1 462.2,268.7 463.0,267.8 464.2,268.2 465.0,267.6 465.9,267.1 467.2,267.6 468.0,267.0 468.8,266.3 470.0,266.7 470.6,265.3 471.5,265.0 472.5,264.7 473.7,265.0 474.5,264.2 475.5,264.1 476.2,263.1 477.3,263.2 478.3,263.2 479.3,263.1 480.2,262.4 481.0,261.7 482.4,262.9 482.9,261.1 483.8,260.7 484.6,259.7 485.5,259.2 486.7,260.0 488.0,260.4 488.4,258.6 489.6,259.1 490.2,257.7 491.4,258.1 492.4,257.9 493.3,257.5 494.1,256.8 495.3,257.0 496.3,256.9 496.9,255.7 497.9,255.6 498.6,254.8 499.9,255.0 500.1,253.4 501.6,253.9 501.7,252.3 503.5,253.1 504.5,252.8 504.4,250.9 505.2,250.3 505.7,249.2 506.8,249.1 507.1,247.8 509.3,249.1 509.3,247.4 509.8,246.4 511.6,247.1 511.9,245.9 512.6,245.2 513.4,244.5 514.2,244.0 515.3,243.7 515.7,242.6 516.4,241.8 517.1,241.1 518.4,241.2 519.1,240.4 520.5,240.7" fill="none" stroke="#720c12" stroke-width="1.90" stroke-linejoin="round" stroke-linecap="round"/>
</g>
<rect x="25.00" y="240.40" width="489.70" height="89.55" fill="none" stroke="#a8a8a8" stroke-width="1"/>
<text x="22.0" y="332.60" font-size="7.25" text-anchor="end">0</text>
<text x="22.0" y="314.69" font-size="7.25" text-anchor="end">5</text>
<text x="22.0" y="296.78" font-size="7.25" text-anchor="end">10</text>
<text x="22.0" y="278.87" font-size="7.25" text-anchor="end">15</text>
<text x="22.0" y="260.96" font-size="7.25" text-anchor="end">20</text>
<text x="22.0" y="243.05" font-size="7.25" text-anchor="end">25</text>
<text x="92.54" y="337.55" font-size="7.25" text-anchor="middle">0.0</text>
<text x="176.98" y="337.55" font-size="7.25" text-anchor="middle">0.5</text>
<text x="261.41" y="337.55" font-size="7.25" text-anchor="middle">1.0</text>
<text x="345.84" y="337.55" font-size="7.25" text-anchor="middle">1.5</text>
<text x="430.27" y="337.55" font-size="7.25" text-anchor="middle">2.0</text>
<text x="514.70" y="337.55" font-size="7.25" text-anchor="middle">2.5</text>
<text x="269.85" y="347.15" font-size="7.25" text-anchor="middle">KAAAAE salt-bridge distance [nm]</text>
<text x="40.1" y="252.70" font-size="7.25" font-weight="bold" text-anchor="middle" style="fill:#000">C</text>
<g transform="translate(7.6,314.98) rotate(-90)">
<text x="0" y="0" font-size="7.25">free energy</text>
<path d="M46.3,-7.3 L45.1,-7.3 L45.1,3.3 L46.3,3.3 M57.3,-7.3 L58.5,-7.3 L58.5,3.3 L57.3,3.3" fill="none" stroke="#1c1c1c" stroke-width="0.8"/>
<line x1="47.3" y1="-2.0" x2="56.3" y2="-2.0" stroke="#1c1c1c" stroke-width="0.5"/>
<text x="51.8" y="-2.9" font-size="5.5" text-anchor="middle">kJ</text>
<text x="51.8" y="2.9" font-size="5.5" text-anchor="middle">mol</text>
</g>
<rect x="49.20" y="265.00" width="73.60" height="53.90" fill="#fff"/>
<clipPath id="ic2"><rect x="49.20" y="265.00" width="73.60" height="53.90"/></clipPath>
<g clip-path="url(#ic2)">
<path d="M52.6,260.9 52.7,261.9 52.8,262.9 53.0,263.9 53.1,264.9 53.2,265.9 53.4,266.9 53.5,267.9 53.6,268.9 53.8,269.8 53.9,270.8 54.0,271.8 54.2,272.8 54.3,273.8 54.4,274.8 54.6,275.8 54.7,276.8 54.9,277.8 55.0,278.8 55.1,279.8 55.3,280.8 55.4,281.8 55.5,282.8 55.7,283.8 55.8,284.7 56.0,285.7 56.1,286.7 56.3,287.7 56.4,288.7 56.6,289.7 56.7,290.7 56.9,291.7 57.1,292.6 57.2,293.6 57.4,294.6 57.6,295.6 57.8,296.6 58.0,297.5 58.2,298.5 58.4,299.5 58.6,300.5 58.9,301.5 59.1,302.4 59.3,303.4 59.6,304.4 59.8,305.3 60.1,306.2 60.4,307.2 60.8,308.1 61.1,309.0 61.6,309.8 62.0,310.7 62.5,311.6 63.0,312.4 63.5,313.2 64.0,314.0 64.5,314.5 65.0,314.7 65.6,314.4 66.3,313.9 67.0,313.3 67.6,312.5 68.1,311.7 68.5,310.9 68.8,310.0 69.2,309.1 69.6,308.2 69.9,307.3 70.2,306.3 70.5,305.1 70.9,303.8 71.6,302.5 72.3,301.2 72.9,300.1 73.4,299.1 73.8,298.2 74.0,297.3 74.7,296.5 75.6,295.6 76.9,294.6 78.7,293.6 80.7,292.9 82.5,292.5 84.0,292.4 85.5,292.3 87.0,292.3 88.1,292.4 88.6,292.3 89.1,292.2 89.6,292.1 89.6,292.2 89.3,292.4 89.2,292.5 89.3,292.4 89.7,292.2 90.1,291.9 90.5,291.5 90.9,291.2 91.2,290.8 91.8,290.4 92.3,289.8 92.9,289.2 93.5,288.5 94.1,287.8 94.6,287.1 95.1,286.4 95.6,285.6 96.1,284.8 96.5,284.0 97.0,283.2 97.4,282.3 97.9,281.5 98.3,280.6 98.7,279.7 99.1,278.8 99.4,277.9 99.8,277.0 100.1,276.1 100.4,275.1 100.8,274.2 101.1,273.2 101.5,272.2 101.8,271.3 102.2,270.3 102.6,269.4 102.9,268.4 103.3,267.5 103.7,266.5 104.0,265.6 104.4,264.7 104.6,263.7 104.7,262.8 104.9,261.8 105.0,260.8 107.5,261.1 107.4,262.1 107.2,263.1 107.1,264.1 106.9,265.2 106.8,266.2 106.6,267.2 106.5,268.2 106.4,269.2 106.2,270.2 106.1,271.2 105.9,272.2 105.8,273.1 105.6,274.1 105.5,275.1 105.4,276.1 105.2,277.1 105.1,278.1 105.0,279.1 104.8,280.2 104.6,281.2 104.5,282.2 104.3,283.2 104.1,284.2 103.9,285.3 103.7,286.3 103.4,287.3 103.2,288.3 102.9,289.4 102.9,290.5 103.0,291.8 103.2,293.1 103.4,294.4 103.6,295.8 103.7,297.3 103.7,298.9 103.3,300.6 102.7,302.2 102.1,303.9 101.3,305.6 100.2,307.0 98.2,308.2 95.7,309.2 92.8,309.8 90.4,309.9 88.7,309.8 87.1,309.5 85.5,308.8 84.6,308.1 84.3,307.6 84.0,307.1 83.5,306.6 83.4,306.1 83.4,305.6 83.2,305.2 82.7,305.1 81.8,305.2 80.8,305.6 79.7,306.0 78.5,306.4 77.4,306.6 76.4,306.8 75.6,306.9 75.0,307.1 74.3,307.5 73.7,308.1 73.2,308.9 72.6,309.8 71.9,310.7 71.2,311.5 70.5,312.3 69.8,313.1 68.9,313.7 68.1,314.4 67.3,315.1 66.4,315.8 65.1,316.3 63.7,315.9 62.8,315.0 62.2,314.1 61.6,313.2 61.1,312.4 60.6,311.5 60.1,310.6 59.7,309.6 59.3,308.7 58.9,307.7 58.6,306.7 58.3,305.7 58.0,304.8 57.8,303.8 57.5,302.8 57.3,301.8 57.1,300.8 56.9,299.8 56.7,298.9 56.4,297.9 56.2,296.9 56.0,295.9 55.8,294.9 55.7,293.9 55.5,292.9 55.3,291.9 55.1,290.9 55.0,289.9 54.8,289.0 54.7,288.0 54.5,287.0 54.4,286.0 54.2,285.0 54.1,284.0 54.0,283.0 53.8,282.0 53.7,281.0 53.5,280.0 53.4,279.0 53.3,278.0 53.1,277.0 53.0,276.0 52.9,275.0 52.7,274.0 52.6,273.0 52.4,272.0 52.3,271.1 52.2,270.1 52.0,269.1 51.9,268.1 51.8,267.1 51.6,266.1 51.5,265.1 51.4,264.1 51.2,263.1 51.1,262.1 51.0,261.1Z" fill="#1d1a86" fill-opacity="0.33"/>
<path d="M53.2,260.8 53.3,261.8 53.4,262.8 53.5,263.8 53.7,264.8 53.8,265.8 53.9,266.8 54.1,267.8 54.2,268.8 54.3,269.7 54.5,270.7 54.6,271.7 54.7,272.7 54.9,273.7 55.0,274.7 55.1,275.7 55.3,276.7 55.4,277.7 55.6,278.7 55.7,279.6 55.8,280.6 56.0,281.6 56.1,282.6 56.3,283.6 56.4,284.6 56.5,285.6 56.7,286.6 56.8,287.6 57.0,288.5 57.1,289.5 57.3,290.5 57.5,291.5 57.6,292.5 57.8,293.4 58.0,294.4 58.2,295.4 58.4,296.4 58.6,297.3 58.8,298.3 59.0,299.3 59.2,300.2 59.4,301.2 59.7,302.2 59.9,303.1 60.1,304.1 60.4,305.0 60.6,305.9 60.9,306.8 61.3,307.7 61.7,308.6 62.1,309.4 62.5,310.3 63.0,311.1 63.5,311.9 64.0,312.7 64.5,313.5 64.8,313.9 64.9,314.0 65.2,313.9 65.8,313.4 66.4,312.9 67.1,312.2 67.6,311.6 68.1,310.9 68.7,310.0 69.2,309.2 69.8,308.4 70.3,307.5 71.1,306.5 72.1,305.6 73.3,305.1 74.4,304.8 75.5,304.6 76.6,304.4 77.7,304.4 78.9,304.4 80.1,304.6 81.2,305.0 82.2,305.4 83.2,305.9 84.1,306.3 85.0,306.7 85.9,307.2 86.8,307.7 87.6,308.2 88.5,308.6 89.3,308.9 90.2,309.2 91.1,309.5 91.9,309.6 92.7,309.7 93.4,309.7 94.1,309.5 94.8,309.1 95.4,308.7 96.0,308.2 96.6,307.5 97.1,306.8 97.5,306.0 98.0,305.2 98.4,304.4 98.7,303.5 99.1,302.7 99.3,301.8 99.5,300.8 99.8,299.9 100.0,298.9 100.2,298.0 100.4,297.0 100.6,296.0 100.8,295.0 101.0,294.1 101.2,293.1 101.4,292.1 101.6,291.1 101.8,290.1 102.0,289.1 102.2,288.2 102.4,287.2 102.6,286.2 102.8,285.2 103.0,284.2 103.2,283.3 103.4,282.3 103.6,281.3 103.8,280.3 104.0,279.3 104.3,278.4 104.5,277.4 104.7,276.4 104.9,275.4 105.1,274.5 105.3,273.5 105.5,272.5 105.7,271.5 105.9,270.5 106.1,269.6 106.3,268.6 106.5,267.6 106.7,266.6 106.8,265.7 107.0,264.7 107.2,263.7 107.3,262.8 107.5,261.8 107.6,260.8 111.1,261.3 110.9,262.3 110.8,263.3 110.7,264.3 110.5,265.3 110.3,266.3 110.1,267.3 109.9,268.3 109.7,269.3 109.5,270.3 109.3,271.2 109.1,272.2 108.9,273.2 108.7,274.2 108.5,275.2 108.3,276.2 108.1,277.1 107.9,278.1 107.7,279.1 107.5,280.1 107.3,281.1 107.0,282.0 106.9,283.0 106.7,284.0 106.5,285.0 106.4,286.0 106.2,287.0 106.0,288.0 105.9,288.9 105.7,289.9 105.5,290.9 105.4,291.9 105.2,292.9 105.1,293.8 104.9,294.8 104.8,295.8 104.6,296.8 104.4,297.8 104.3,298.8 104.1,299.8 103.9,300.8 103.7,301.9 103.5,302.9 103.2,304.0 102.9,305.2 102.5,306.3 102.1,307.3 101.6,308.4 101.1,309.4 100.5,310.6 99.7,311.7 98.6,312.8 97.5,313.8 96.0,314.6 94.4,315.0 92.6,315.1 91.0,315.0 89.7,314.6 88.6,314.3 87.5,313.9 86.4,313.4 85.3,312.8 84.3,312.3 83.5,311.8 82.7,311.4 81.8,310.9 80.9,310.4 80.1,310.0 79.4,309.7 78.9,309.4 78.4,309.2 77.8,309.0 77.0,308.9 76.2,308.9 75.4,308.9 74.7,308.9 74.2,309.0 73.8,309.2 73.4,309.6 72.8,310.3 72.2,311.2 71.6,312.0 71.0,312.8 70.4,313.8 69.5,314.6 68.7,315.4 67.8,316.2 66.7,316.9 64.8,317.4 62.9,316.7 61.8,315.5 61.2,314.6 60.6,313.7 60.1,312.8 59.6,311.8 59.1,310.9 58.7,309.9 58.2,308.9 57.9,307.9 57.5,306.9 57.2,305.9 57.0,304.9 56.7,303.9 56.5,302.9 56.3,301.9 56.1,300.9 55.8,300.0 55.6,299.0 55.4,298.0 55.2,297.0 55.0,296.0 54.8,295.0 54.7,294.0 54.5,293.0 54.3,292.0 54.1,291.0 54.0,290.0 53.8,289.0 53.7,288.0 53.5,287.0 53.4,286.0 53.2,285.0 53.1,284.0 53.0,283.1 52.8,282.1 52.7,281.1 52.6,280.1 52.4,279.1 52.3,278.1 52.2,277.1 52.0,276.1 51.9,275.1 51.8,274.1 51.6,273.1 51.5,272.1 51.4,271.2 51.2,270.2 51.1,269.2 51.0,268.2 50.8,267.2 50.7,266.2 50.6,265.2 50.4,264.2 50.3,263.2 50.2,262.2 50.1,261.2Z" fill="#f2ac2c" fill-opacity="0.33"/>
<path d="M52.8,260.9 52.9,261.9 53.0,262.9 53.1,263.9 53.3,264.9 53.4,265.9 53.5,266.8 53.7,267.8 53.8,268.8 54.0,269.8 54.1,270.8 54.2,271.8 54.4,272.8 54.5,273.8 54.6,274.8 54.8,275.8 54.9,276.8 55.0,277.8 55.2,278.8 55.3,279.8 55.5,280.8 55.6,281.8 55.7,282.8 55.9,283.8 56.0,284.8 56.2,285.7 56.3,286.7 56.5,287.7 56.6,288.7 56.8,289.7 56.9,290.7 57.1,291.7 57.3,292.7 57.4,293.6 57.6,294.6 57.8,295.6 58.0,296.6 58.2,297.6 58.4,298.5 58.6,299.5 58.9,300.5 59.1,301.5 59.3,302.4 59.5,303.4 59.8,304.4 60.0,305.3 60.3,306.2 60.6,307.1 61.0,308.0 61.4,308.9 61.8,309.8 62.2,310.7 62.7,311.5 63.2,312.3 63.8,313.2 64.3,313.9 64.7,314.3 65.0,314.4 65.5,314.2 66.2,313.6 66.9,313.0 67.6,312.3 68.3,311.7 68.9,310.9 69.6,310.2 70.3,309.4 71.1,308.6 72.1,308.0 73.1,307.5 74.2,307.1 75.2,306.8 76.4,306.7 77.6,306.7 78.8,307.1 79.8,307.7 80.7,308.3 81.5,308.9 82.3,309.6 83.1,310.2 83.9,310.8 84.6,311.4 85.5,312.0 86.2,312.6 87.0,313.2 87.8,313.8 88.6,314.3 89.5,314.7 90.3,315.2 91.2,315.6 92.0,315.9 92.8,316.2 93.6,316.3 94.4,316.2 95.1,315.9 95.8,315.5 96.5,315.0 97.1,314.4 97.6,313.7 98.2,312.9 98.7,312.1 99.1,311.3 99.6,310.4 100.0,309.5 100.3,308.7 100.7,307.7 101.0,306.8 101.3,305.9 101.6,304.9 101.9,304.0 102.1,303.0 102.4,302.1 102.6,301.1 102.9,300.2 103.1,299.2 103.2,298.2 103.4,297.3 103.6,296.3 103.7,295.3 103.9,294.3 104.1,293.3 104.2,292.3 104.4,291.3 104.6,290.3 104.9,289.3 105.1,288.3 105.3,287.3 105.5,286.4 105.8,285.4 106.0,284.4 106.2,283.4 106.4,282.5 106.6,281.5 106.8,280.5 107.0,279.5 107.3,278.5 107.5,277.6 107.7,276.6 107.9,275.6 108.1,274.6 108.3,273.6 108.4,272.6 108.6,271.7 108.8,270.7 109.0,269.7 109.2,268.7 109.4,267.7 109.6,266.7 109.7,265.7 109.9,264.8 110.1,263.8 110.2,262.8 110.4,261.8 110.5,260.8 112.9,261.2 112.8,262.2 112.6,263.2 112.5,264.2 112.3,265.2 112.1,266.2 111.9,267.2 111.7,268.2 111.6,269.1 111.4,270.1 111.2,271.1 111.0,272.1 110.8,273.1 110.6,274.1 110.4,275.1 110.2,276.1 110.0,277.1 109.8,278.0 109.6,279.0 109.4,280.0 109.2,281.0 109.0,282.0 108.7,283.0 108.5,283.9 108.3,284.9 108.1,285.9 107.9,286.9 107.6,287.9 107.4,288.9 107.2,289.8 107.0,290.8 106.8,291.8 106.6,292.7 106.4,293.7 106.2,294.7 106.1,295.7 105.9,296.7 105.7,297.7 105.6,298.7 105.4,299.7 105.2,300.7 104.9,301.7 104.7,302.7 104.4,303.7 104.1,304.6 103.8,305.6 103.5,306.6 103.2,307.6 102.9,308.5 102.5,309.5 102.1,310.5 101.7,311.4 101.2,312.4 100.7,313.3 100.1,314.2 99.5,315.1 98.8,315.9 98.0,316.7 97.1,317.4 96.0,318.0 94.9,318.4 93.6,318.5 92.4,318.4 91.3,318.1 90.3,317.7 89.3,317.2 88.4,316.7 87.5,316.2 86.6,315.6 85.7,315.0 84.9,314.4 84.1,313.8 83.3,313.2 82.5,312.6 81.7,311.9 80.9,311.3 80.2,310.6 79.4,310.0 78.7,309.5 77.9,309.1 77.2,308.8 76.5,308.8 75.6,308.9 74.8,309.2 73.9,309.4 73.1,309.8 72.4,310.3 71.8,310.9 71.1,311.6 70.5,312.3 69.8,313.1 69.0,313.8 68.3,314.5 67.5,315.2 66.6,315.9 65.2,316.5 63.7,316.2 62.7,315.2 62.0,314.3 61.5,313.4 61.0,312.5 60.4,311.6 60.0,310.7 59.5,309.8 59.1,308.8 58.7,307.8 58.4,306.9 58.1,305.9 57.8,304.9 57.6,303.9 57.3,302.9 57.1,301.9 56.9,300.9 56.7,299.9 56.5,299.0 56.2,298.0 56.0,297.0 55.8,296.0 55.7,295.0 55.5,294.0 55.3,293.0 55.1,292.0 55.0,291.0 54.8,290.0 54.6,289.0 54.5,288.0 54.3,287.0 54.2,286.0 54.0,285.0 53.9,284.0 53.8,283.0 53.6,282.0 53.5,281.0 53.4,280.1 53.2,279.1 53.1,278.1 52.9,277.1 52.8,276.1 52.7,275.1 52.5,274.1 52.4,273.1 52.3,272.1 52.1,271.1 52.0,270.1 51.9,269.1 51.7,268.1 51.6,267.1 51.4,266.1 51.3,265.1 51.2,264.1 51.1,263.1 50.9,262.1 50.8,261.1Z" fill="#720c12" fill-opacity="0.30"/>
<path d="M51.8,261.0 51.9,262.0 52.0,263.0 52.2,264.0 52.3,265.0 52.4,266.0 52.6,267.0 52.7,268.0 52.8,269.0 53.0,270.0 53.1,270.9 53.2,271.9 53.4,272.9 53.5,273.9 53.6,274.9 53.8,275.9 53.9,276.9 54.1,277.9 54.2,278.9 54.3,279.9 54.5,280.9 54.6,281.9 54.7,282.9 54.9,283.9 55.0,284.9 55.2,285.9 55.3,286.8 55.5,287.8 55.6,288.8 55.8,289.8 55.9,290.8 56.1,291.8 56.3,292.8 56.4,293.8 56.6,294.8 56.8,295.7 57.0,296.7 57.2,297.7 57.4,298.7 57.6,299.7 57.9,300.7 58.1,301.6 58.3,302.6 58.5,303.6 58.8,304.6 59.0,305.5 59.3,306.5 59.7,307.4 60.0,308.4 60.4,309.3 60.8,310.2 61.3,311.1 61.8,312.0 62.3,312.8 62.9,313.7 63.4,314.5 64.1,315.2 65.1,315.5 66.0,315.1 66.8,314.5 67.5,313.8 68.3,313.1 68.9,312.4 69.5,311.6 70.0,310.7 70.6,309.9 71.1,309.0 71.5,308.1 72.0,307.2 72.4,306.3 73.0,305.5 73.7,304.8 74.5,304.2 75.3,303.6 76.1,303.0 77.0,302.4 77.7,301.8 78.5,301.2 79.3,300.5 80.1,300.0 81.0,299.5 82.0,299.2 83.0,299.1 84.0,299.1 85.0,299.1 86.0,299.2 87.0,299.4 87.9,299.6 89.0,299.6 90.0,299.6 91.0,299.5 91.9,299.2 92.8,298.8 93.6,298.2 94.4,297.6 95.2,296.9 95.8,296.2 96.5,295.4 97.1,294.6 97.6,293.8 98.1,292.9 98.5,292.0 99.0,291.1 99.4,290.2 99.8,289.3 100.2,288.3 100.5,287.4 100.9,286.4 101.2,285.5 101.5,284.5 101.8,283.6 102.0,282.6 102.3,281.6 102.5,280.7 102.8,279.7 103.0,278.7 103.2,277.7 103.4,276.7 103.6,275.8 103.8,274.8 104.0,273.8 104.2,272.8 104.4,271.8 104.6,270.9 104.9,269.9 105.1,268.9 105.3,267.9 105.5,266.9 105.7,266.0 105.9,265.0 106.1,264.0 106.2,263.0 106.4,262.0 106.5,261.0" fill="none" stroke="#1d1a86" stroke-width="1.90" stroke-linejoin="round" stroke-linecap="round"/>
<path d="M51.8,261.0 51.9,262.0 52.0,263.0 52.2,264.0 52.3,265.0 52.4,266.0 52.6,267.0 52.7,267.9 52.8,268.9 53.0,269.9 53.1,270.9 53.2,271.9 53.4,272.9 53.5,273.9 53.6,274.9 53.8,275.9 53.9,276.9 54.1,277.9 54.2,278.8 54.3,279.8 54.5,280.8 54.6,281.8 54.7,282.8 54.9,283.8 55.0,284.8 55.2,285.8 55.3,286.8 55.4,287.8 55.6,288.8 55.8,289.7 55.9,290.7 56.1,291.7 56.3,292.7 56.4,293.7 56.6,294.7 56.8,295.6 57.0,296.6 57.2,297.6 57.4,298.6 57.6,299.6 57.8,300.5 58.1,301.5 58.3,302.5 58.5,303.5 58.7,304.4 59.0,305.4 59.3,306.4 59.6,307.3 60.0,308.2 60.4,309.2 60.8,310.1 61.2,311.0 61.7,311.8 62.2,312.7 62.8,313.5 63.3,314.4 64.0,315.1 64.9,315.5 65.8,315.2 66.7,314.6 67.4,314.0 68.1,313.3 68.8,312.5 69.4,311.7 69.9,310.9 70.5,310.0 71.0,309.2 71.5,308.3 72.1,307.5 72.9,306.9 73.8,306.5 74.8,306.2 75.8,306.0 76.8,305.9 77.8,305.9 78.8,305.9 79.7,306.1 80.7,306.4 81.6,306.8 82.5,307.2 83.4,307.7 84.3,308.1 85.2,308.6 86.1,309.0 87.0,309.5 87.9,309.9 88.8,310.3 89.7,310.6 90.7,310.9 91.7,311.1 92.7,311.2 93.7,311.1 94.6,310.9 95.5,310.4 96.3,309.9 97.1,309.2 97.7,308.4 98.3,307.6 98.8,306.8 99.3,305.9 99.7,305.0 100.1,304.1 100.5,303.1 100.8,302.2 101.0,301.2 101.2,300.2 101.4,299.2 101.7,298.3 101.9,297.3 102.1,296.3 102.3,295.3 102.4,294.3 102.6,293.4 102.8,292.4 103.0,291.4 103.2,290.4 103.4,289.4 103.6,288.5 103.8,287.5 104.1,286.5 104.3,285.5 104.5,284.6 104.7,283.6 104.9,282.6 105.1,281.6 105.3,280.6 105.5,279.7 105.7,278.7 105.9,277.7 106.1,276.7 106.3,275.7 106.5,274.8 106.7,273.8 106.9,272.8 107.1,271.8 107.3,270.8 107.5,269.9 107.7,268.9 107.9,267.9 108.1,266.9 108.3,265.9 108.5,265.0 108.7,264.0 108.8,263.0 109.0,262.0 109.1,261.0" fill="none" stroke="#f2ac2c" stroke-width="1.90" stroke-linejoin="round" stroke-linecap="round"/>
<path d="M51.8,261.0 51.9,262.0 52.0,263.0 52.2,264.0 52.3,265.0 52.4,266.0 52.6,267.0 52.7,268.0 52.8,269.0 53.0,270.0 53.1,271.0 53.2,272.0 53.4,273.0 53.5,273.9 53.6,274.9 53.8,275.9 53.9,276.9 54.1,277.9 54.2,278.9 54.3,279.9 54.5,280.9 54.6,281.9 54.8,282.9 54.9,283.9 55.0,284.9 55.2,285.9 55.3,286.9 55.5,287.9 55.6,288.9 55.8,289.9 55.9,290.8 56.1,291.8 56.3,292.8 56.5,293.8 56.6,294.8 56.8,295.8 57.0,296.8 57.2,297.8 57.4,298.7 57.7,299.7 57.9,300.7 58.1,301.7 58.3,302.7 58.5,303.6 58.8,304.6 59.1,305.6 59.3,306.5 59.7,307.5 60.0,308.4 60.4,309.4 60.9,310.3 61.3,311.1 61.8,312.0 62.4,312.9 62.9,313.7 63.5,314.6 64.2,315.3 65.1,315.5 66.0,315.0 66.8,314.4 67.6,313.8 68.3,313.1 69.0,312.4 69.7,311.6 70.4,310.9 71.0,310.1 71.8,309.5 72.6,308.9 73.5,308.4 74.5,308.1 75.4,307.9 76.4,307.7 77.4,307.8 78.4,308.1 79.2,308.6 80.1,309.2 80.8,309.8 81.6,310.4 82.4,311.1 83.2,311.7 84.0,312.3 84.8,312.9 85.6,313.5 86.4,314.1 87.2,314.7 88.1,315.2 88.9,315.7 89.8,316.2 90.7,316.6 91.7,317.0 92.6,317.3 93.6,317.4 94.6,317.3 95.6,317.0 96.4,316.5 97.2,315.9 98.0,315.2 98.6,314.4 99.1,313.5 99.7,312.7 100.2,311.8 100.6,310.9 101.0,310.0 101.4,309.1 101.8,308.1 102.1,307.2 102.4,306.2 102.7,305.3 103.0,304.3 103.3,303.4 103.5,302.4 103.8,301.4 104.0,300.4 104.2,299.4 104.4,298.5 104.6,297.5 104.7,296.5 104.9,295.5 105.1,294.5 105.2,293.5 105.4,292.5 105.6,291.5 105.8,290.5 106.0,289.6 106.2,288.6 106.5,287.6 106.7,286.6 106.9,285.7 107.2,284.7 107.4,283.7 107.6,282.7 107.8,281.7 108.0,280.7 108.2,279.8 108.4,278.8 108.6,277.8 108.8,276.8 109.0,275.8 109.2,274.8 109.4,273.9 109.6,272.9 109.8,271.9 110.0,270.9 110.2,269.9 110.4,268.9 110.6,267.9 110.7,266.9 110.9,266.0 111.1,265.0 111.3,264.0 111.4,263.0 111.6,262.0 111.7,261.0" fill="none" stroke="#720c12" stroke-width="1.90" stroke-linejoin="round" stroke-linecap="round"/>
</g>
<rect x="49.20" y="265.00" width="73.60" height="53.90" fill="none" stroke="#a4a4a4" stroke-width="0.9"/>
<g stroke="#9a9a9a" stroke-width="0.8">
<line x1="47.80" y1="305.42" x2="49.20" y2="305.42"/>
<line x1="47.80" y1="291.95" x2="49.20" y2="291.95"/>
<line x1="47.80" y1="278.48" x2="49.20" y2="278.48"/>
<line x1="49.20" y1="318.90" x2="49.20" y2="320.30"/>
<line x1="77.51" y1="318.90" x2="77.51" y2="320.30"/>
<line x1="105.82" y1="318.90" x2="105.82" y2="320.30"/>
</g>
<text x="49.20" y="326.80" font-size="7.25" text-anchor="middle">0.30</text>
<text x="77.51" y="326.80" font-size="7.25" text-anchor="middle">0.35</text>
<text x="105.82" y="326.80" font-size="7.25" text-anchor="middle">0.40</text>
</svg></body></html>
